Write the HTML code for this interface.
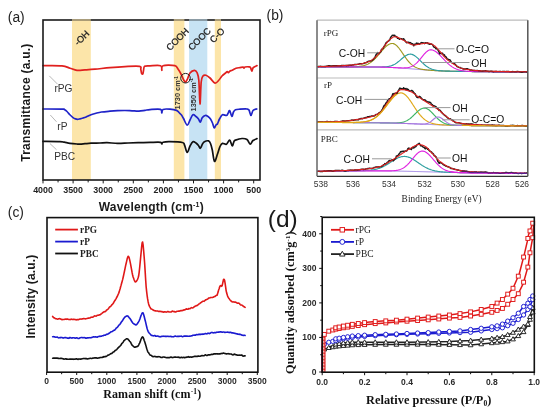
<!DOCTYPE html><html><head><meta charset="utf-8"><style>html,body{margin:0;padding:0;background:#fff;overflow:hidden}svg{display:block;will-change:transform}</style></head><body><svg width="550" height="412" viewBox="0 0 550 412">
<rect width="550" height="412" fill="#fff"/>
<rect x="72" y="20" width="18.8" height="160" fill="#fce5a9"/>
<rect x="173.8" y="20" width="10.6" height="160" fill="#fce5a9"/>
<rect x="189.1" y="20" width="18.2" height="160" fill="#c7e3f4"/>
<rect x="214.8" y="20" width="6.2" height="160" fill="#fce5a9"/>
<path d="M43 65.6C46.17 65.63 57.5 65.37 62 65.8C66.5 66.23 67.5 67.45 70 68.2C72.5 68.95 74.5 70.02 77 70.3C79.5 70.58 82 70.08 85 69.9C88 69.72 90.83 69.58 95 69.2C99.17 68.82 105 68.03 110 67.6C115 67.17 120.08 66.8 125 66.6C129.92 66.4 136.87 65.92 139.5 66.4C142.13 66.88 140.45 68.32 140.8 69.5C141.15 70.68 141.25 72.78 141.6 73.5C141.95 74.22 142.57 74.38 142.9 73.8C143.23 73.22 143.32 71.25 143.6 70C143.88 68.75 143.53 67 144.6 66.3C145.67 65.6 147.33 65.9 150 65.8C152.67 65.7 158.63 64.95 160.6 65.7C162.57 66.45 161.4 70.3 161.8 70.3C162.2 70.3 160.83 66.47 163 65.7C165.17 64.93 172.3 65.15 174.8 65.7C177.3 66.25 176.97 67.62 178 69C179.03 70.38 180 72.08 181 74C182 75.92 183.23 79.17 184 80.5C184.77 81.83 185.02 82.25 185.6 82C186.18 81.75 186.77 80.5 187.5 79C188.23 77.5 188.85 74.45 190 73C191.15 71.55 193.23 70.38 194.4 70.3C195.57 70.22 196.27 70.88 197 72.5C197.73 74.12 198.3 74.75 198.8 80C199.3 85.25 199.6 103.67 200 104C200.4 104.33 200.7 86.67 201.2 82C201.7 77.33 202.2 77.13 203 76C203.8 74.87 204.83 74.87 206 75.2C207.17 75.53 208.5 76.68 210 78C211.5 79.32 213.5 82.77 215 83.1C216.5 83.43 217.83 81.18 219 80C220.17 78.82 220.9 77.17 222 76C223.1 74.83 224.73 73.73 225.6 73C226.47 72.27 226.75 71.67 227.2 71.6C227.65 71.53 227.83 72.7 228.3 72.6C228.77 72.5 229.35 71.4 230 71C230.65 70.6 231.2 70.67 232.2 70.2C233.2 69.73 234.7 68.63 236 68.2C237.3 67.77 238.83 67.77 240 67.6C241.17 67.43 242.33 67.1 243 67.2C243.67 67.3 243.67 68.23 244 68.2C244.33 68.17 244.17 67.23 245 67C245.83 66.77 248.08 66.72 249 66.8C249.92 66.88 250.03 66.77 250.5 67.5C250.97 68.23 251.35 71.18 251.8 71.2C252.25 71.22 252.33 68.53 253.2 67.6C254.07 66.67 256.37 65.93 257 65.6" fill="none" stroke="#e0201e" stroke-width="1.7" stroke-linejoin="round" stroke-linecap="round" />
<path d="M43 109C46.17 109.02 58.45 109.02 62 109.1C65.55 109.18 63.47 109.1 64.3 109.5C65.13 109.9 66.12 110.67 67 111.5C67.88 112.33 68.6 113.48 69.6 114.5C70.6 115.52 72.02 116.87 73 117.6C73.98 118.33 74.75 118.62 75.5 118.9C76.25 119.18 76.75 119.32 77.5 119.3C78.25 119.28 79.08 119.02 80 118.8C80.92 118.58 82.08 118.27 83 118C83.92 117.73 84.67 117.53 85.5 117.2C86.33 116.87 87.08 116.42 88 116C88.92 115.58 89.67 115.17 91 114.7C92.33 114.23 94.25 113.65 96 113.2C97.75 112.75 99.17 112.33 101.5 112C103.83 111.67 107.32 111.42 110 111.2C112.68 110.98 115.1 110.82 117.6 110.7C120.1 110.58 122.6 110.48 125 110.5C127.4 110.52 129.68 110.7 132 110.8C134.32 110.9 136.73 111.18 138.9 111.1C141.07 111.02 143.15 110.55 145 110.3C146.85 110.05 147.42 109.75 150 109.6C152.58 109.45 158.53 108.83 160.5 109.4C162.47 109.97 161.38 113 161.8 113C162.22 113 161.63 110.03 163 109.4C164.37 108.77 167.75 109.03 170 109.2C172.25 109.37 175 109.85 176.5 110.4C178 110.95 178.17 111.73 179 112.5C179.83 113.27 180.75 114 181.5 115C182.25 116 182.55 116.8 183.5 118.5C184.45 120.2 186.12 124.95 187.2 125.2C188.28 125.45 189.05 121.75 190 120C190.95 118.25 191.9 115.28 192.9 114.7C193.9 114.12 195.07 115.78 196 116.5C196.93 117.22 197.78 118.07 198.5 119C199.22 119.93 199.68 122.3 200.3 122.1C200.92 121.9 201.38 118.9 202.2 117.8C203.02 116.7 204.23 115.72 205.2 115.5C206.17 115.28 207.12 115.92 208 116.5C208.88 117.08 209.75 117.92 210.5 119C211.25 120.08 211.88 121.53 212.5 123C213.12 124.47 213.62 127.47 214.2 127.8C214.78 128.13 215.45 125.68 216 125C216.55 124.32 216.92 124.7 217.5 123.7C218.08 122.7 218.68 120.48 219.5 119C220.32 117.52 221.23 115.38 222.4 114.8C223.57 114.22 225.53 115.8 226.5 115.5C227.47 115.2 227.67 113.82 228.2 113C228.73 112.18 229.08 110.03 229.7 110.6C230.32 111.17 231.27 116.17 231.9 116.4C232.53 116.63 232.9 113.1 233.5 112C234.1 110.9 234.42 110.27 235.5 109.8C236.58 109.33 238.1 109.33 240 109.2C241.9 109.07 245.4 108.87 246.9 109C248.4 109.13 248.32 108.92 249 110C249.68 111.08 250.33 115.42 251 115.5C251.67 115.58 252.05 111.58 253 110.5C253.95 109.42 256.08 109.25 256.7 109" fill="none" stroke="#1f23c8" stroke-width="1.7" stroke-linejoin="round" stroke-linecap="round" />
<path d="M43 141.4C45.83 141.43 56.45 141.47 60 141.6C63.55 141.73 62.63 141.92 64.3 142.2C65.97 142.48 67.88 143 70 143.3C72.12 143.6 75.33 143.87 77 144C78.67 144.13 78.67 144.15 80 144.1C81.33 144.05 83.17 143.85 85 143.7C86.83 143.55 88.5 143.32 91 143.2C93.5 143.08 97.33 143.08 100 143C102.67 142.92 104.07 142.65 107 142.7C109.93 142.75 114.1 143.25 117.6 143.3C121.1 143.35 124.45 143.1 128 143C131.55 142.9 135.23 142.8 138.9 142.7C142.57 142.6 146.4 142.47 150 142.4C153.6 142.33 158.53 142.03 160.5 142.3C162.47 142.57 161.38 144.02 161.8 144C162.22 143.98 161.63 142.58 163 142.2C164.37 141.82 166.78 141.65 170 141.7C173.22 141.75 179.88 141.95 182.3 142.5C184.72 143.05 183.68 143.35 184.5 145C185.32 146.65 186.28 152.23 187.2 152.4C188.12 152.57 189.05 147.78 190 146C190.95 144.22 191.9 142.2 192.9 141.7C193.9 141.2 195.07 142.37 196 143C196.93 143.63 197.78 144.62 198.5 145.5C199.22 146.38 199.63 148.55 200.3 148.3C200.97 148.05 201.82 145.1 202.5 144C203.18 142.9 203.4 142.22 204.4 141.7C205.4 141.18 207.48 140.6 208.5 140.9C209.52 141.2 209.87 141.98 210.5 143.5C211.13 145.02 211.63 147.02 212.3 150C212.97 152.98 213.63 160.73 214.5 161.4C215.37 162.07 216.58 156.48 217.5 154C218.42 151.52 219.18 148.27 220 146.5C220.82 144.73 221.32 143.78 222.4 143.4C223.48 143.02 225.28 144.75 226.5 144.2C227.72 143.65 228.75 139.83 229.7 140.1C230.65 140.37 231.48 145.57 232.2 145.8C232.92 146.03 233.45 142.45 234 141.5C234.55 140.55 234.17 140.6 235.5 140.1C236.83 139.6 240.08 138.6 242 138.5C243.92 138.4 245.63 138.55 247 139.5C248.37 140.45 249.2 144.03 250.2 144.2C251.2 144.37 251.87 141.43 253 140.5C254.13 139.57 256.33 138.92 257 138.6" fill="none" stroke="#111" stroke-width="1.7" stroke-linejoin="round" stroke-linecap="round" />
<circle cx="185.5" cy="78.2" r="4.8" fill="none" stroke="#222" stroke-width="1"/>
<rect x="43" y="20" width="217" height="160" fill="none" stroke="#1a1a1a" stroke-width="1.6"/>
<rect x="72" y="19" width="18.8" height="2" fill="#fce5a9" fill-opacity="0.55"/>
<rect x="173.8" y="19" width="10.6" height="2" fill="#fce5a9" fill-opacity="0.55"/>
<rect x="189.1" y="19" width="18.2" height="2" fill="#c7e3f4" fill-opacity="0.55"/>
<rect x="214.8" y="19" width="6.2" height="2" fill="#fce5a9" fill-opacity="0.55"/>
<line x1="253.7" y1="180" x2="253.7" y2="183.4" stroke="#1a1a1a" stroke-width="1"/>
<line x1="238.65" y1="180" x2="238.65" y2="182.4" stroke="#1a1a1a" stroke-width="1"/>
<line x1="223.6" y1="180" x2="223.6" y2="183.4" stroke="#1a1a1a" stroke-width="1"/>
<line x1="208.55" y1="180" x2="208.55" y2="182.4" stroke="#1a1a1a" stroke-width="1"/>
<line x1="193.5" y1="180" x2="193.5" y2="183.4" stroke="#1a1a1a" stroke-width="1"/>
<line x1="178.45" y1="180" x2="178.45" y2="182.4" stroke="#1a1a1a" stroke-width="1"/>
<line x1="163.4" y1="180" x2="163.4" y2="183.4" stroke="#1a1a1a" stroke-width="1"/>
<line x1="148.35" y1="180" x2="148.35" y2="182.4" stroke="#1a1a1a" stroke-width="1"/>
<line x1="133.3" y1="180" x2="133.3" y2="183.4" stroke="#1a1a1a" stroke-width="1"/>
<line x1="118.25" y1="180" x2="118.25" y2="182.4" stroke="#1a1a1a" stroke-width="1"/>
<line x1="103.2" y1="180" x2="103.2" y2="183.4" stroke="#1a1a1a" stroke-width="1"/>
<line x1="88.15" y1="180" x2="88.15" y2="182.4" stroke="#1a1a1a" stroke-width="1"/>
<line x1="73.1" y1="180" x2="73.1" y2="183.4" stroke="#1a1a1a" stroke-width="1"/>
<line x1="58.05" y1="180" x2="58.05" y2="182.4" stroke="#1a1a1a" stroke-width="1"/>
<line x1="43" y1="180" x2="43" y2="183.4" stroke="#1a1a1a" stroke-width="1"/>
<text x="253.7" y="193.2" font-family='"Liberation Sans", sans-serif' font-size="8.85" font-weight="bold" text-anchor="middle" fill="#222" >500</text>
<text x="223.6" y="193.2" font-family='"Liberation Sans", sans-serif' font-size="8.85" font-weight="bold" text-anchor="middle" fill="#222" >1000</text>
<text x="193.5" y="193.2" font-family='"Liberation Sans", sans-serif' font-size="8.85" font-weight="bold" text-anchor="middle" fill="#222" >1500</text>
<text x="163.4" y="193.2" font-family='"Liberation Sans", sans-serif' font-size="8.85" font-weight="bold" text-anchor="middle" fill="#222" >2000</text>
<text x="133.3" y="193.2" font-family='"Liberation Sans", sans-serif' font-size="8.85" font-weight="bold" text-anchor="middle" fill="#222" >2500</text>
<text x="103.2" y="193.2" font-family='"Liberation Sans", sans-serif' font-size="8.85" font-weight="bold" text-anchor="middle" fill="#222" >3000</text>
<text x="73.1" y="193.2" font-family='"Liberation Sans", sans-serif' font-size="8.85" font-weight="bold" text-anchor="middle" fill="#222" >3500</text>
<text x="43" y="193.2" font-family='"Liberation Sans", sans-serif' font-size="8.85" font-weight="bold" text-anchor="middle" fill="#222" >4000</text>
<text x="151.3" y="211.4" font-family='"Liberation Sans", sans-serif' font-size="12" font-weight="bold" text-anchor="middle" fill="#1a1a1a" letter-spacing="0.2">Wavelength (cm<tspan font-size="7" dy="-4">-1</tspan><tspan dy="4">)</tspan></text>
<text x="0" y="0" font-family='"Liberation Sans", sans-serif' font-size="12" font-weight="bold" text-anchor="middle" fill="#1a1a1a" transform="translate(29.6 102.6) rotate(-90)" letter-spacing="0.25">Transmittance (a.u.)</text>
<text x="7.8" y="21.9" font-family='"Liberation Sans", sans-serif' font-size="13.8" font-weight="normal" text-anchor="start" fill="#222" >(a)</text>
<line x1="49.3" y1="75.9" x2="57.5" y2="84.1" stroke="#888" stroke-width="0.6"/>
<text x="54.4" y="91.6" font-family='"Liberation Sans", sans-serif' font-size="10.2" font-weight="normal" text-anchor="start" fill="#333" >rPG</text>
<line x1="50.3" y1="115" x2="56.5" y2="121.8" stroke="#888" stroke-width="0.6"/>
<text x="57.3" y="130.3" font-family='"Liberation Sans", sans-serif' font-size="10.2" font-weight="normal" text-anchor="start" fill="#333" >rP</text>
<line x1="49.9" y1="143.5" x2="56.5" y2="149.7" stroke="#888" stroke-width="0.6"/>
<text x="54.2" y="159.6" font-family='"Liberation Sans", sans-serif' font-size="10.2" font-weight="normal" text-anchor="start" fill="#333" >PBC</text>
<text x="0" y="0" font-family='"Liberation Sans", sans-serif' font-size="9.2" font-weight="normal" text-anchor="middle" fill="#222" transform="translate(81.6 37.8) rotate(-45)" dy="0.36em" stroke="#222" stroke-width="0.25">-OH</text>
<text x="0" y="0" font-family='"Liberation Sans", sans-serif' font-size="9.2" font-weight="normal" text-anchor="middle" fill="#222" transform="translate(177.4 39.1) rotate(-45)" dy="0.36em" stroke="#222" stroke-width="0.25">COOH</text>
<text x="0" y="0" font-family='"Liberation Sans", sans-serif' font-size="9.2" font-weight="normal" text-anchor="middle" fill="#222" transform="translate(199.3 39) rotate(-45)" dy="0.36em" stroke="#222" stroke-width="0.25">COOC</text>
<text x="0" y="0" font-family='"Liberation Sans", sans-serif' font-size="9.2" font-weight="normal" text-anchor="middle" fill="#222" transform="translate(217 35.2) rotate(-45)" dy="0.36em" stroke="#222" stroke-width="0.25">C-O</text>
<text x="0" y="0" font-family='"Liberation Sans", sans-serif' font-size="7.4" font-weight="bold" text-anchor="middle" fill="#333" transform="translate(177.6 92.7) rotate(-90)" dy="0.36em">1730 cm<tspan font-size="4.8" dy="-2.7">-1</tspan></text>
<text x="0" y="0" font-family='"Liberation Sans", sans-serif' font-size="7.4" font-weight="bold" text-anchor="middle" fill="#333" transform="translate(192.9 94.7) rotate(-90)" dy="0.36em">1350 cm<tspan font-size="4.8" dy="-2.7">-1</tspan></text>
<path d="M317.8 66.9 318.4 66.9 319 66.9 319.6 66.9 320.2 66.9 320.8 66.9 321.4 66.9 322 66.9 322.6 66.9 323.2 66.9 323.8 66.9 324.4 66.9 325 66.9 325.6 66.9 326.2 66.9 326.8 66.9 327.4 66.9 328 66.9 328.6 66.9 329.2 66.9 329.8 66.91 330.4 66.91 331 66.91 331.6 66.91 332.2 66.91 332.8 66.91 333.4 66.91 334 66.91 334.6 66.91 335.2 66.91 335.8 66.91 336.4 66.91 337 66.91 337.6 66.91 338.2 66.91 338.8 66.91 339.4 66.92 340 66.92 340.6 66.92 341.2 66.92 341.8 66.92 342.4 66.92 343 66.92 343.6 66.92 344.2 66.92 344.8 66.92 345.4 66.92 346 66.93 346.6 66.93 347.2 66.93 347.8 66.93 348.4 66.93 349 66.93 349.6 66.93 350.2 66.93 350.8 66.93 351.4 66.94 352 66.94 352.6 66.94 353.2 66.94 353.8 66.94 354.4 66.94 355 66.94 355.6 66.94 356.2 66.95 356.8 66.95 357.4 66.95 358 66.95 358.6 66.95 359.2 66.95 359.8 66.95 360.4 66.96 361 66.96 361.6 66.96 362.2 66.96 362.8 66.96 363.4 66.96 364 66.97 364.6 66.97 365.2 66.97 365.8 66.97 366.4 66.97 367 66.97 367.6 66.97 368.2 66.98 368.8 66.98 369.4 66.98 370 66.98 370.6 66.98 371.2 66.99 371.8 66.99 372.4 66.99 373 66.99 373.6 66.99 374.2 66.99 374.8 67 375.4 67 376 67 376.6 67 377.2 67.01 377.8 67.01 378.4 67.02 379 67.03 379.6 67.04 380.2 67.05 380.8 67.06 381.4 67.07 382 67.09 382.6 67.1 383.2 67.12 383.8 67.14 384.4 67.16 385 67.18 385.6 67.2 386.2 67.22 386.8 67.24 387.4 67.27 388 67.29 388.6 67.32 389.2 67.35 389.8 67.38 390.4 67.41 391 67.44 391.6 67.47 392.2 67.5 392.8 67.53 393.4 67.56 394 67.6 394.6 67.63 395.2 67.67 395.8 67.71 396.4 67.74 397 67.78 397.6 67.82 398.2 67.86 398.8 67.9 399.4 67.94 400 67.98 400.6 68.02 401.2 68.06 401.8 68.11 402.4 68.15 403 68.19 403.6 68.24 404.2 68.28 404.8 68.33 405.4 68.37 406 68.42 406.6 68.46 407.2 68.51 407.8 68.56 408.4 68.6 409 68.65 409.6 68.7 410.2 68.74 410.8 68.79 411.4 68.84 412 68.89 412.6 68.93 413.2 68.98 413.8 69.03 414.4 69.08 415 69.13 415.6 69.18 416.2 69.22 416.8 69.27 417.4 69.32 418 69.37 418.6 69.41 419.2 69.46 419.8 69.51 420.4 69.56 421 69.6 421.6 69.65 422.2 69.7 422.8 69.74 423.4 69.79 424 69.84 424.6 69.88 425.2 69.93 425.8 69.97 426.4 70.01 427 70.06 427.6 70.1 428.2 70.15 428.8 70.19 429.4 70.23 430 70.27 430.6 70.31 431.2 70.35 431.8 70.39 432.4 70.43 433 70.47 433.6 70.51 434.2 70.54 434.8 70.58 435.4 70.62 436 70.65 436.6 70.69 437.2 70.72 437.8 70.75 438.4 70.78 439 70.81 439.6 70.84 440.2 70.87 440.8 70.9 441.4 70.93 442 70.95 442.6 70.98 443.2 71 443.8 71.03 444.4 71.05 445 71.07 445.6 71.09 446.2 71.11 446.8 71.13 447.4 71.14 448 71.16 448.6 71.17 449.2 71.18 449.8 71.2 450.4 71.21 451 71.22 451.6 71.23 452.2 71.24 452.8 71.25 453.4 71.26 454 71.27 454.6 71.28 455.2 71.29 455.8 71.3 456.4 71.31 457 71.32 457.6 71.33 458.2 71.34 458.8 71.35 459.4 71.36 460 71.37 460.6 71.38 461.2 71.39 461.8 71.4 462.4 71.41 463 71.42 463.6 71.43 464.2 71.44 464.8 71.45 465.4 71.46 466 71.47 466.6 71.47 467.2 71.48 467.8 71.49 468.4 71.5 469 71.51 469.6 71.52 470.2 71.53 470.8 71.54 471.4 71.55 472 71.55 472.6 71.56 473.2 71.57 473.8 71.58 474.4 71.59 475 71.6 475.6 71.61 476.2 71.61 476.8 71.62 477.4 71.63 478 71.64 478.6 71.65 479.2 71.65 479.8 71.66 480.4 71.67 481 71.68 481.6 71.69 482.2 71.69 482.8 71.7 483.4 71.71 484 71.71 484.6 71.72 485.2 71.73 485.8 71.74 486.4 71.74 487 71.75 487.6 71.76 488.2 71.76 488.8 71.77 489.4 71.78 490 71.78 490.6 71.79 491.2 71.8 491.8 71.8 492.4 71.81 493 71.82 493.6 71.82 494.2 71.83 494.8 71.83 495.4 71.84 496 71.84 496.6 71.85 497.2 71.86 497.8 71.86 498.4 71.87 499 71.87 499.6 71.88 500.2 71.88 500.8 71.89 501.4 71.89 502 71.9 502.6 71.9 503.2 71.91 503.8 71.91 504.4 71.91 505 71.92 505.6 71.92 506.2 71.93 506.8 71.93 507.4 71.93 508 71.94 508.6 71.94 509.2 71.95 509.8 71.95 510.4 71.95 511 71.96 511.6 71.96 512.2 71.96 512.8 71.96 513.4 71.97 514 71.97 514.6 71.97 515.2 71.97 515.8 71.98 516.4 71.98 517 71.98 517.6 71.98 518.2 71.99 518.8 71.99 519.4 71.99 520 71.99 520.6 71.99 521.2 71.99 521.8 71.99 522.4 72 523 72 523.6 72 524.2 72 524.8 72 525.4 72 526 72 526.6 72 527.2 72" fill="none" stroke="#9070e0" stroke-width="0.9" stroke-linejoin="round" stroke-linecap="round" />
<path d="M317.8 66.9 318.4 66.9 319 66.9 319.6 66.9 320.2 66.9 320.8 66.9 321.4 66.9 322 66.9 322.6 66.9 323.2 66.9 323.8 66.9 324.4 66.9 325 66.9 325.6 66.9 326.2 66.9 326.8 66.9 327.4 66.9 328 66.9 328.6 66.9 329.2 66.9 329.8 66.91 330.4 66.91 331 66.91 331.6 66.91 332.2 66.91 332.8 66.91 333.4 66.91 334 66.91 334.6 66.91 335.2 66.91 335.8 66.91 336.4 66.91 337 66.91 337.6 66.91 338.2 66.91 338.8 66.91 339.4 66.91 340 66.91 340.6 66.92 341.2 66.92 341.8 66.92 342.4 66.92 343 66.92 343.6 66.92 344.2 66.92 344.8 66.91 345.4 66.91 346 66.91 346.6 66.91 347.2 66.91 347.8 66.91 348.4 66.9 349 66.9 349.6 66.89 350.2 66.89 350.8 66.88 351.4 66.87 352 66.86 352.6 66.84 353.2 66.83 353.8 66.81 354.4 66.79 355 66.76 355.6 66.73 356.2 66.7 356.8 66.66 357.4 66.62 358 66.57 358.6 66.51 359.2 66.44 359.8 66.37 360.4 66.29 361 66.19 361.6 66.09 362.2 65.97 362.8 65.84 363.4 65.7 364 65.53 364.6 65.36 365.2 65.16 365.8 64.95 366.4 64.72 367 64.46 367.6 64.19 368.2 63.89 368.8 63.56 369.4 63.22 370 62.84 370.6 62.44 371.2 62.02 371.8 61.57 372.4 61.09 373 60.58 373.6 60.05 374.2 59.49 374.8 58.91 375.4 58.3 376 57.67 376.6 57.03 377.2 56.36 377.8 55.68 378.4 54.98 379 54.28 379.6 53.57 380.2 52.85 380.8 52.14 381.4 51.43 382 50.72 382.6 50.03 383.2 49.35 383.8 48.68 384.4 48.05 385 47.43 385.6 46.85 386.2 46.31 386.8 45.8 387.4 45.34 388 44.92 388.6 44.55 389.2 44.24 389.8 43.98 390.4 43.77 391 43.62 391.6 43.53 392.2 43.51 392.8 43.54 393.4 43.66 394 43.85 394.6 44.13 395.2 44.48 395.8 44.91 396.4 45.4 397 45.97 397.6 46.59 398.2 47.27 398.8 47.99 399.4 48.76 400 49.57 400.6 50.41 401.2 51.27 401.8 52.14 402.4 53.03 403 53.92 403.6 54.81 404.2 55.69 404.8 56.56 405.4 57.42 406 58.25 406.6 59.06 407.2 59.84 407.8 60.59 408.4 61.31 409 62 409.6 62.65 410.2 63.26 410.8 63.84 411.4 64.38 412 64.89 412.6 65.36 413.2 65.8 413.8 66.2 414.4 66.58 415 66.92 415.6 67.23 416.2 67.52 416.8 67.79 417.4 68.03 418 68.25 418.6 68.45 419.2 68.63 419.8 68.79 420.4 68.94 421 69.08 421.6 69.21 422.2 69.32 422.8 69.43 423.4 69.52 424 69.61 424.6 69.69 425.2 69.77 425.8 69.84 426.4 69.91 427 69.97 427.6 70.03 428.2 70.09 428.8 70.14 429.4 70.19 430 70.24 430.6 70.29 431.2 70.33 431.8 70.38 432.4 70.42 433 70.46 433.6 70.5 434.2 70.54 434.8 70.58 435.4 70.61 436 70.65 436.6 70.68 437.2 70.72 437.8 70.75 438.4 70.78 439 70.81 439.6 70.84 440.2 70.87 440.8 70.9 441.4 70.93 442 70.95 442.6 70.98 443.2 71 443.8 71.03 444.4 71.05 445 71.07 445.6 71.09 446.2 71.11 446.8 71.13 447.4 71.14 448 71.16 448.6 71.17 449.2 71.18 449.8 71.2 450.4 71.21 451 71.22 451.6 71.23 452.2 71.24 452.8 71.25 453.4 71.26 454 71.27 454.6 71.28 455.2 71.29 455.8 71.3 456.4 71.31 457 71.32 457.6 71.33 458.2 71.34 458.8 71.35 459.4 71.36 460 71.37 460.6 71.38 461.2 71.39 461.8 71.4 462.4 71.41 463 71.42 463.6 71.43 464.2 71.44 464.8 71.45 465.4 71.46 466 71.47 466.6 71.47 467.2 71.48 467.8 71.49 468.4 71.5 469 71.51 469.6 71.52 470.2 71.53 470.8 71.54 471.4 71.55 472 71.55 472.6 71.56 473.2 71.57 473.8 71.58 474.4 71.59 475 71.6 475.6 71.61 476.2 71.61 476.8 71.62 477.4 71.63 478 71.64 478.6 71.65 479.2 71.65 479.8 71.66 480.4 71.67 481 71.68 481.6 71.69 482.2 71.69 482.8 71.7 483.4 71.71 484 71.71 484.6 71.72 485.2 71.73 485.8 71.74 486.4 71.74 487 71.75 487.6 71.76 488.2 71.76 488.8 71.77 489.4 71.78 490 71.78 490.6 71.79 491.2 71.8 491.8 71.8 492.4 71.81 493 71.82 493.6 71.82 494.2 71.83 494.8 71.83 495.4 71.84 496 71.84 496.6 71.85 497.2 71.86 497.8 71.86 498.4 71.87 499 71.87 499.6 71.88 500.2 71.88 500.8 71.89 501.4 71.89 502 71.9 502.6 71.9 503.2 71.91 503.8 71.91 504.4 71.91 505 71.92 505.6 71.92 506.2 71.93 506.8 71.93 507.4 71.93 508 71.94 508.6 71.94 509.2 71.95 509.8 71.95 510.4 71.95 511 71.96 511.6 71.96 512.2 71.96 512.8 71.96 513.4 71.97 514 71.97 514.6 71.97 515.2 71.97 515.8 71.98 516.4 71.98 517 71.98 517.6 71.98 518.2 71.99 518.8 71.99 519.4 71.99 520 71.99 520.6 71.99 521.2 71.99 521.8 71.99 522.4 72 523 72 523.6 72 524.2 72 524.8 72 525.4 72 526 72 526.6 72 527.2 72" fill="none" stroke="#a09a20" stroke-width="1.15" stroke-linejoin="round" stroke-linecap="round" />
<path d="M317.8 66.9 318.4 66.9 319 66.9 319.6 66.9 320.2 66.9 320.8 66.9 321.4 66.9 322 66.9 322.6 66.9 323.2 66.9 323.8 66.9 324.4 66.9 325 66.9 325.6 66.9 326.2 66.9 326.8 66.9 327.4 66.9 328 66.9 328.6 66.9 329.2 66.9 329.8 66.91 330.4 66.91 331 66.91 331.6 66.91 332.2 66.91 332.8 66.91 333.4 66.91 334 66.91 334.6 66.91 335.2 66.91 335.8 66.91 336.4 66.91 337 66.91 337.6 66.91 338.2 66.91 338.8 66.91 339.4 66.92 340 66.92 340.6 66.92 341.2 66.92 341.8 66.92 342.4 66.92 343 66.92 343.6 66.92 344.2 66.92 344.8 66.92 345.4 66.92 346 66.93 346.6 66.93 347.2 66.93 347.8 66.93 348.4 66.93 349 66.93 349.6 66.93 350.2 66.93 350.8 66.93 351.4 66.94 352 66.94 352.6 66.94 353.2 66.94 353.8 66.94 354.4 66.94 355 66.94 355.6 66.94 356.2 66.95 356.8 66.95 357.4 66.95 358 66.95 358.6 66.95 359.2 66.95 359.8 66.95 360.4 66.96 361 66.96 361.6 66.96 362.2 66.96 362.8 66.96 363.4 66.96 364 66.97 364.6 66.97 365.2 66.97 365.8 66.97 366.4 66.97 367 66.97 367.6 66.97 368.2 66.98 368.8 66.98 369.4 66.98 370 66.98 370.6 66.98 371.2 66.98 371.8 66.98 372.4 66.99 373 66.99 373.6 66.99 374.2 66.99 374.8 66.99 375.4 66.99 376 66.98 376.6 66.98 377.2 66.98 377.8 66.98 378.4 66.98 379 66.98 379.6 66.97 380.2 66.97 380.8 66.97 381.4 66.96 382 66.95 382.6 66.93 383.2 66.92 383.8 66.89 384.4 66.86 385 66.83 385.6 66.78 386.2 66.73 386.8 66.67 387.4 66.59 388 66.5 388.6 66.4 389.2 66.28 389.8 66.14 390.4 65.99 391 65.81 391.6 65.61 392.2 65.39 392.8 65.15 393.4 64.88 394 64.59 394.6 64.27 395.2 63.92 395.8 63.55 396.4 63.15 397 62.73 397.6 62.29 398.2 61.83 398.8 61.35 399.4 60.85 400 60.34 400.6 59.83 401.2 59.3 401.8 58.78 402.4 58.26 403 57.76 403.6 57.26 404.2 56.79 404.8 56.34 405.4 55.92 406 55.53 406.6 55.19 407.2 54.89 407.8 54.63 408.4 54.43 409 54.29 409.6 54.2 410.2 54.16 410.8 54.19 411.4 54.28 412 54.42 412.6 54.62 413.2 54.87 413.8 55.17 414.4 55.52 415 55.92 415.6 56.36 416.2 56.83 416.8 57.34 417.4 57.88 418 58.43 418.6 59.01 419.2 59.6 419.8 60.19 420.4 60.79 421 61.39 421.6 61.99 422.2 62.57 422.8 63.15 423.4 63.7 424 64.24 424.6 64.76 425.2 65.26 425.8 65.73 426.4 66.18 427 66.6 427.6 67 428.2 67.37 428.8 67.72 429.4 68.04 430 68.34 430.6 68.61 431.2 68.86 431.8 69.09 432.4 69.3 433 69.49 433.6 69.66 434.2 69.81 434.8 69.96 435.4 70.08 436 70.2 436.6 70.3 437.2 70.4 437.8 70.48 438.4 70.56 439 70.62 439.6 70.69 440.2 70.74 440.8 70.79 441.4 70.84 442 70.88 442.6 70.92 443.2 70.96 443.8 70.99 444.4 71.02 445 71.05 445.6 71.07 446.2 71.09 446.8 71.11 447.4 71.13 448 71.15 448.6 71.17 449.2 71.18 449.8 71.19 450.4 71.2 451 71.22 451.6 71.23 452.2 71.24 452.8 71.25 453.4 71.26 454 71.27 454.6 71.28 455.2 71.29 455.8 71.3 456.4 71.31 457 71.32 457.6 71.33 458.2 71.34 458.8 71.35 459.4 71.36 460 71.37 460.6 71.38 461.2 71.39 461.8 71.4 462.4 71.41 463 71.42 463.6 71.43 464.2 71.44 464.8 71.45 465.4 71.46 466 71.47 466.6 71.47 467.2 71.48 467.8 71.49 468.4 71.5 469 71.51 469.6 71.52 470.2 71.53 470.8 71.54 471.4 71.55 472 71.55 472.6 71.56 473.2 71.57 473.8 71.58 474.4 71.59 475 71.6 475.6 71.61 476.2 71.61 476.8 71.62 477.4 71.63 478 71.64 478.6 71.65 479.2 71.65 479.8 71.66 480.4 71.67 481 71.68 481.6 71.69 482.2 71.69 482.8 71.7 483.4 71.71 484 71.71 484.6 71.72 485.2 71.73 485.8 71.74 486.4 71.74 487 71.75 487.6 71.76 488.2 71.76 488.8 71.77 489.4 71.78 490 71.78 490.6 71.79 491.2 71.8 491.8 71.8 492.4 71.81 493 71.82 493.6 71.82 494.2 71.83 494.8 71.83 495.4 71.84 496 71.84 496.6 71.85 497.2 71.86 497.8 71.86 498.4 71.87 499 71.87 499.6 71.88 500.2 71.88 500.8 71.89 501.4 71.89 502 71.9 502.6 71.9 503.2 71.91 503.8 71.91 504.4 71.91 505 71.92 505.6 71.92 506.2 71.93 506.8 71.93 507.4 71.93 508 71.94 508.6 71.94 509.2 71.95 509.8 71.95 510.4 71.95 511 71.96 511.6 71.96 512.2 71.96 512.8 71.96 513.4 71.97 514 71.97 514.6 71.97 515.2 71.97 515.8 71.98 516.4 71.98 517 71.98 517.6 71.98 518.2 71.99 518.8 71.99 519.4 71.99 520 71.99 520.6 71.99 521.2 71.99 521.8 71.99 522.4 72 523 72 523.6 72 524.2 72 524.8 72 525.4 72 526 72 526.6 72 527.2 72" fill="none" stroke="#2a9da0" stroke-width="1.15" stroke-linejoin="round" stroke-linecap="round" />
<path d="M317.8 66.9 318.4 66.9 319 66.9 319.6 66.9 320.2 66.9 320.8 66.9 321.4 66.9 322 66.9 322.6 66.9 323.2 66.9 323.8 66.9 324.4 66.9 325 66.9 325.6 66.9 326.2 66.9 326.8 66.9 327.4 66.9 328 66.9 328.6 66.9 329.2 66.9 329.8 66.91 330.4 66.91 331 66.91 331.6 66.91 332.2 66.91 332.8 66.91 333.4 66.91 334 66.91 334.6 66.91 335.2 66.91 335.8 66.91 336.4 66.91 337 66.91 337.6 66.91 338.2 66.91 338.8 66.91 339.4 66.92 340 66.92 340.6 66.92 341.2 66.92 341.8 66.92 342.4 66.92 343 66.92 343.6 66.92 344.2 66.92 344.8 66.92 345.4 66.92 346 66.93 346.6 66.93 347.2 66.93 347.8 66.93 348.4 66.93 349 66.93 349.6 66.93 350.2 66.93 350.8 66.93 351.4 66.94 352 66.94 352.6 66.94 353.2 66.94 353.8 66.94 354.4 66.94 355 66.94 355.6 66.94 356.2 66.95 356.8 66.95 357.4 66.95 358 66.95 358.6 66.95 359.2 66.95 359.8 66.95 360.4 66.96 361 66.96 361.6 66.96 362.2 66.96 362.8 66.96 363.4 66.96 364 66.97 364.6 66.97 365.2 66.97 365.8 66.97 366.4 66.97 367 66.97 367.6 66.97 368.2 66.98 368.8 66.98 369.4 66.98 370 66.98 370.6 66.98 371.2 66.99 371.8 66.99 372.4 66.99 373 66.99 373.6 66.99 374.2 66.99 374.8 67 375.4 67 376 67 376.6 67 377.2 67.01 377.8 67.01 378.4 67.02 379 67.03 379.6 67.04 380.2 67.05 380.8 67.06 381.4 67.07 382 67.09 382.6 67.1 383.2 67.12 383.8 67.14 384.4 67.16 385 67.18 385.6 67.2 386.2 67.22 386.8 67.24 387.4 67.27 388 67.29 388.6 67.32 389.2 67.35 389.8 67.37 390.4 67.4 391 67.43 391.6 67.46 392.2 67.49 392.8 67.53 393.4 67.56 394 67.59 394.6 67.62 395.2 67.66 395.8 67.69 396.4 67.72 397 67.75 397.6 67.78 398.2 67.82 398.8 67.84 399.4 67.87 400 67.9 400.6 67.92 401.2 67.93 401.8 67.95 402.4 67.96 403 67.96 403.6 67.95 404.2 67.94 404.8 67.92 405.4 67.88 406 67.84 406.6 67.78 407.2 67.7 407.8 67.61 408.4 67.49 409 67.36 409.6 67.2 410.2 67.01 410.8 66.8 411.4 66.56 412 66.29 412.6 65.98 413.2 65.64 413.8 65.26 414.4 64.85 415 64.4 415.6 63.91 416.2 63.39 416.8 62.83 417.4 62.23 418 61.6 418.6 60.95 419.2 60.26 419.8 59.56 420.4 58.83 421 58.09 421.6 57.35 422.2 56.6 422.8 55.86 423.4 55.13 424 54.42 424.6 53.74 425.2 53.09 425.8 52.48 426.4 51.92 427 51.42 427.6 50.98 428.2 50.6 428.8 50.29 429.4 50.06 430 49.91 430.6 49.84 431.2 49.85 431.8 49.93 432.4 50.05 433 50.22 433.6 50.45 434.2 50.72 434.8 51.03 435.4 51.39 436 51.79 436.6 52.23 437.2 52.7 437.8 53.21 438.4 53.75 439 54.31 439.6 54.89 440.2 55.5 440.8 56.11 441.4 56.74 442 57.38 442.6 58.03 443.2 58.67 443.8 59.32 444.4 59.96 445 60.59 445.6 61.21 446.2 61.82 446.8 62.42 447.4 62.99 448 63.55 448.6 64.09 449.2 64.61 449.8 65.11 450.4 65.58 451 66.03 451.6 66.46 452.2 66.87 452.8 67.25 453.4 67.61 454 67.95 454.6 68.27 455.2 68.56 455.8 68.84 456.4 69.09 457 69.32 457.6 69.54 458.2 69.74 458.8 69.92 459.4 70.09 460 70.24 460.6 70.38 461.2 70.51 461.8 70.62 462.4 70.73 463 70.82 463.6 70.9 464.2 70.98 464.8 71.05 465.4 71.11 466 71.17 466.6 71.22 467.2 71.26 467.8 71.3 468.4 71.34 469 71.37 469.6 71.4 470.2 71.43 470.8 71.45 471.4 71.47 472 71.49 472.6 71.51 473.2 71.53 473.8 71.54 474.4 71.56 475 71.57 475.6 71.58 476.2 71.6 476.8 71.61 477.4 71.62 478 71.63 478.6 71.64 479.2 71.65 479.8 71.66 480.4 71.67 481 71.67 481.6 71.68 482.2 71.69 482.8 71.7 483.4 71.71 484 71.71 484.6 71.72 485.2 71.73 485.8 71.74 486.4 71.74 487 71.75 487.6 71.76 488.2 71.76 488.8 71.77 489.4 71.78 490 71.78 490.6 71.79 491.2 71.8 491.8 71.8 492.4 71.81 493 71.82 493.6 71.82 494.2 71.83 494.8 71.83 495.4 71.84 496 71.84 496.6 71.85 497.2 71.86 497.8 71.86 498.4 71.87 499 71.87 499.6 71.88 500.2 71.88 500.8 71.89 501.4 71.89 502 71.9 502.6 71.9 503.2 71.91 503.8 71.91 504.4 71.91 505 71.92 505.6 71.92 506.2 71.93 506.8 71.93 507.4 71.93 508 71.94 508.6 71.94 509.2 71.95 509.8 71.95 510.4 71.95 511 71.96 511.6 71.96 512.2 71.96 512.8 71.96 513.4 71.97 514 71.97 514.6 71.97 515.2 71.97 515.8 71.98 516.4 71.98 517 71.98 517.6 71.98 518.2 71.99 518.8 71.99 519.4 71.99 520 71.99 520.6 71.99 521.2 71.99 521.8 71.99 522.4 72 523 72 523.6 72 524.2 72 524.8 72 525.4 72 526 72 526.6 72 527.2 72" fill="none" stroke="#e025e0" stroke-width="1.15" stroke-linejoin="round" stroke-linecap="round" />
<path d="M317.8 66.6 318.4 66.51 319 66.46 319.6 66.36 320.2 66.32 320.8 66.47 321.4 66.49 322 66.46 322.6 66.59 323.2 66.6 323.8 66.47 324.4 66.41 325 66.45 325.6 66.45 326.2 66.27 326.8 66.2 327.4 66.08 328 65.94 328.6 65.68 329.2 65.76 329.8 65.66 330.4 65.84 331 65.95 331.6 66.08 332.2 65.84 332.8 65.88 333.4 65.83 334 65.79 334.6 65.64 335.2 65.8 335.8 65.73 336.4 65.63 337 65.69 337.6 65.73 338.2 65.74 338.8 65.89 339.4 65.88 340 65.74 340.6 65.79 341.2 65.77 341.8 65.54 342.4 65.57 343 65.67 343.6 65.48 344.2 65.52 344.8 65.61 345.4 65.5 346 65.52 346.6 65.7 347.2 65.46 347.8 65.41 348.4 65.48 349 65.23 349.6 65.17 350.2 65.23 350.8 65.23 351.4 65.26 352 65.15 352.6 65.05 353.2 64.95 353.8 64.84 354.4 64.53 355 64.47 355.6 64.36 356.2 64.42 356.8 64.44 357.4 64.35 358 64.25 358.6 64.26 359.2 63.87 359.8 63.6 360.4 63.63 361 63.76 361.6 63.65 362.2 63.73 362.8 63.62 363.4 63.46 364 63.34 364.6 63.01 365.2 62.84 365.8 62.77 366.4 62.6 367 62.09 367.6 61.73 368.2 61.54 368.8 61.13 369.4 61.13 370 61.06 370.6 61.03 371.2 60.88 371.8 60.56 372.4 60.15 373 59.54 373.6 59.28 374.2 58.15 374.8 57.87 375.4 56.3 376 54.88 376.6 53.83 377.2 53.29 377.8 52.49 378.4 53.67 379 53.55 379.6 52.63 380.2 52.37 380.8 51.68 381.4 49.63 382 49.07 382.6 48.87 383.2 48.2 383.8 46.66 384.4 45.95 385 45.3 385.6 43.65 386.2 42.75 386.8 42.07 387.4 41.84 388 41.21 388.6 41.12 389.2 40.1 389.8 39.93 390.4 37.99 391 36.85 391.6 36.5 392.2 35.29 392.8 35.36 393.4 35.16 394 35.86 394.6 35.17 395.2 36.62 395.8 36.35 396.4 36.6 397 37.03 397.6 38.38 398.2 38.22 398.8 38.31 399.4 39.28 400 38.5 400.6 38.64 401.2 38.7 401.8 39.1 402.4 39.06 403 39.53 403.6 38.68 404.2 39.9 404.8 40.2 405.4 41.42 406 42.09 406.6 42.73 407.2 42.3 407.8 42.44 408.4 42.29 409 42.4 409.6 42.87 410.2 42.6 410.8 42.74 411.4 43.82 412 43.92 412.6 43.74 413.2 44.71 413.8 45.82 414.4 44.26 415 44.43 415.6 44.55 416.2 43.42 416.8 42.97 417.4 43.55 418 43.56 418.6 43.38 419.2 44.36 419.8 43.64 420.4 43.5 421 42.84 421.6 42.52 422.2 42.87 422.8 42.79 423.4 42.92 424 43.37 424.6 43.67 425.2 42.69 425.8 43.19 426.4 42.85 427 42.75 427.6 42.96 428.2 43.78 428.8 43.84 429.4 44.29 430 44.26 430.6 43.8 431.2 43.96 431.8 44.4 432.4 44.48 433 45.37 433.6 46.79 434.2 47.09 434.8 47.49 435.4 47.83 436 48.86 436.6 48.47 437.2 49.13 437.8 49.59 438.4 50.93 439 51.8 439.6 53.81 440.2 53.48 440.8 53.09 441.4 53.78 442 53.11 442.6 53.12 443.2 54.85 443.8 55.61 444.4 54.89 445 56.19 445.6 56.84 446.2 56.95 446.8 58.31 447.4 59.39 448 59.17 448.6 59.6 449.2 59.83 449.8 59.71 450.4 60.69 451 61.64 451.6 62.25 452.2 62.65 452.8 63.33 453.4 63.29 454 63.47 454.6 63.84 455.2 64.3 455.8 64.94 456.4 65.61 457 66.55 457.6 66.57 458.2 67.19 458.8 67.41 459.4 67.64 460 67.43 460.6 67.83 461.2 68.06 461.8 68.29 462.4 68.49 463 68.77 463.6 69.05 464.2 69.09 464.8 68.99 465.4 69.02 466 68.96 466.6 68.64 467.2 68.68 467.8 69.1 468.4 69.26 469 69.42 469.6 69.72 470.2 69.95 470.8 69.92 471.4 69.99 472 70.17 472.6 70.33 473.2 70.36 473.8 70.47 474.4 70.54 475 70.51 475.6 70.61 476.2 70.52 476.8 70.62 477.4 70.53 478 70.66 478.6 70.66 479.2 70.64 479.8 70.74 480.4 71.03 481 71.04 481.6 71.14 482.2 71.33 482.8 70.95 483.4 70.86 484 70.93 484.6 70.88 485.2 70.77 485.8 71.01 486.4 70.99 487 71.12 487.6 71.16 488.2 71.28 488.8 71.47 489.4 71.45 490 71.32 490.6 71.13 491.2 71.3 491.8 71.26 492.4 71.42 493 71.53 493.6 71.73 494.2 71.62 494.8 71.52 495.4 71.43 496 71.38 496.6 71.53 497.2 71.58 497.8 71.61 498.4 71.59 499 71.54 499.6 71.56 500.2 71.57 500.8 71.59 501.4 71.63 502 71.6 502.6 71.45 503.2 71.5 503.8 71.46 504.4 71.49 505 71.58 505.6 71.61 506.2 71.39 506.8 71.41 507.4 71.36 508 71.48 508.6 71.4 509.2 71.62 509.8 71.79 510.4 71.85 511 71.72 511.6 71.82 512.2 71.77 512.8 71.54 513.4 71.62 514 71.88 514.6 71.84 515.2 71.83 515.8 71.83 516.4 71.82 517 71.52 517.6 71.45 518.2 71.59 518.8 71.61 519.4 71.69 520 71.95 520.6 72.08 521.2 72.02 521.8 72.29 522.4 72.18 523 71.98 523.6 71.83 524.2 71.78 524.8 71.74 525.4 71.85 526 71.82 526.6 71.95 527.2 71.94" fill="none" stroke="#1a1a1a" stroke-width="1.45" stroke-linejoin="round" stroke-linecap="round" />
<path d="M317.8 66.59 318.4 66.59 319 66.58 319.6 66.57 320.2 66.56 320.8 66.55 321.4 66.54 322 66.53 322.6 66.52 323.2 66.5 323.8 66.49 324.4 66.47 325 66.45 325.6 66.43 326.2 66.41 326.8 66.39 327.4 66.37 328 66.35 328.6 66.33 329.2 66.3 329.8 66.28 330.4 66.25 331 66.23 331.6 66.2 332.2 66.18 332.8 66.15 333.4 66.12 334 66.1 334.6 66.07 335.2 66.04 335.8 66.01 336.4 65.98 337 65.95 337.6 65.92 338.2 65.89 338.8 65.86 339.4 65.83 340 65.8 340.6 65.77 341.2 65.74 341.8 65.71 342.4 65.67 343 65.64 343.6 65.6 344.2 65.56 344.8 65.53 345.4 65.49 346 65.45 346.6 65.41 347.2 65.36 347.8 65.32 348.4 65.27 349 65.22 349.6 65.18 350.2 65.12 350.8 65.07 351.4 65.02 352 64.96 352.6 64.9 353.2 64.84 353.8 64.78 354.4 64.71 355 64.65 355.6 64.58 356.2 64.51 356.8 64.43 357.4 64.36 358 64.28 358.6 64.2 359.2 64.12 359.8 64.03 360.4 63.94 361 63.84 361.6 63.72 362.2 63.6 362.8 63.46 363.4 63.32 364 63.16 364.6 62.99 365.2 62.81 365.8 62.62 366.4 62.42 367 62.21 367.6 61.99 368.2 61.76 368.8 61.51 369.4 61.26 370 61 370.6 60.71 371.2 60.37 371.8 60 372.4 59.59 373 59.14 373.6 58.66 374.2 58.15 374.8 57.62 375.4 57.07 376 56.5 376.6 55.91 377.2 55.31 377.8 54.7 378.4 54.07 379 53.37 379.6 52.61 380.2 51.8 380.8 50.95 381.4 50.09 382 49.23 382.6 48.37 383.2 47.54 383.8 46.75 384.4 46 385 45.23 385.6 44.44 386.2 43.67 386.8 42.9 387.4 42.16 388 41.45 388.6 40.79 389.2 40.19 389.8 39.66 390.4 39.18 391 38.69 391.6 38.21 392.2 37.75 392.8 37.35 393.4 37.02 394 36.8 394.6 36.7 395.2 36.72 395.8 36.81 396.4 36.95 397 37.14 397.6 37.36 398.2 37.62 398.8 37.91 399.4 38.21 400 38.51 400.6 38.82 401.2 39.12 401.8 39.41 402.4 39.68 403 39.98 403.6 40.3 404.2 40.64 404.8 40.99 405.4 41.34 406 41.7 406.6 42.05 407.2 42.4 407.8 42.74 408.4 43.06 409 43.36 409.6 43.63 410.2 43.88 410.8 44.14 411.4 44.41 412 44.66 412.6 44.85 413.2 44.97 413.8 45 414.4 44.97 415 44.91 415.6 44.82 416.2 44.72 416.8 44.6 417.4 44.48 418 44.35 418.6 44.23 419.2 44.12 419.8 44.03 420.4 43.95 421 43.86 421.6 43.78 422.2 43.69 422.8 43.6 423.4 43.51 424 43.43 424.6 43.35 425.2 43.28 425.8 43.22 426.4 43.17 427 43.13 427.6 43.11 428.2 43.1 428.8 43.14 429.4 43.25 430 43.42 430.6 43.65 431.2 43.92 431.8 44.23 432.4 44.56 433 44.91 433.6 45.26 434.2 45.62 434.8 46.04 435.4 46.54 436 47.1 436.6 47.7 437.2 48.35 437.8 49.02 438.4 49.7 439 50.39 439.6 51.06 440.2 51.72 440.8 52.4 441.4 53.12 442 53.87 442.6 54.62 443.2 55.37 443.8 56.11 444.4 56.82 445 57.5 445.6 58.12 446.2 58.68 446.8 59.21 447.4 59.72 448 60.22 448.6 60.69 449.2 61.15 449.8 61.59 450.4 62.01 451 62.42 451.6 62.81 452.2 63.19 452.8 63.56 453.4 63.93 454 64.3 454.6 64.67 455.2 65.04 455.8 65.41 456.4 65.77 457 66.13 457.6 66.47 458.2 66.81 458.8 67.13 459.4 67.43 460 67.71 460.6 67.98 461.2 68.22 461.8 68.43 462.4 68.62 463 68.77 463.6 68.9 464.2 69.01 464.8 69.11 465.4 69.21 466 69.31 466.6 69.4 467.2 69.5 467.8 69.59 468.4 69.67 469 69.76 469.6 69.84 470.2 69.92 470.8 69.99 471.4 70.07 472 70.14 472.6 70.21 473.2 70.27 473.8 70.33 474.4 70.39 475 70.45 475.6 70.51 476.2 70.56 476.8 70.61 477.4 70.66 478 70.71 478.6 70.75 479.2 70.79 479.8 70.83 480.4 70.87 481 70.9 481.6 70.94 482.2 70.97 482.8 71 483.4 71.02 484 71.05 484.6 71.07 485.2 71.09 485.8 71.11 486.4 71.13 487 71.15 487.6 71.16 488.2 71.18 488.8 71.2 489.4 71.22 490 71.23 490.6 71.25 491.2 71.27 491.8 71.28 492.4 71.3 493 71.32 493.6 71.33 494.2 71.35 494.8 71.36 495.4 71.38 496 71.39 496.6 71.41 497.2 71.42 497.8 71.44 498.4 71.45 499 71.46 499.6 71.48 500.2 71.49 500.8 71.5 501.4 71.51 502 71.53 502.6 71.54 503.2 71.55 503.8 71.56 504.4 71.57 505 71.59 505.6 71.6 506.2 71.61 506.8 71.62 507.4 71.63 508 71.64 508.6 71.65 509.2 71.66 509.8 71.67 510.4 71.67 511 71.68 511.6 71.69 512.2 71.7 512.8 71.71 513.4 71.71 514 71.72 514.6 71.73 515.2 71.73 515.8 71.74 516.4 71.75 517 71.75 517.6 71.76 518.2 71.76 518.8 71.77 519.4 71.77 520 71.78 520.6 71.78 521.2 71.78 521.8 71.79 522.4 71.79 523 71.79 523.6 71.79 524.2 71.8 524.8 71.8 525.4 71.8 526 71.8 526.6 71.8 527.2 71.8" fill="none" stroke="#e02020" stroke-width="1.1" stroke-linejoin="round" stroke-linecap="round" />
<path d="M317.8 122.4 318.4 122.4 319 122.4 319.6 122.4 320.2 122.4 320.8 122.4 321.4 122.4 322 122.4 322.6 122.4 323.2 122.41 323.8 122.41 324.4 122.41 325 122.41 325.6 122.41 326.2 122.41 326.8 122.41 327.4 122.41 328 122.42 328.6 122.42 329.2 122.42 329.8 122.42 330.4 122.42 331 122.43 331.6 122.43 332.2 122.43 332.8 122.43 333.4 122.43 334 122.44 334.6 122.44 335.2 122.44 335.8 122.44 336.4 122.45 337 122.45 337.6 122.45 338.2 122.46 338.8 122.46 339.4 122.46 340 122.47 340.6 122.47 341.2 122.47 341.8 122.48 342.4 122.48 343 122.48 343.6 122.49 344.2 122.49 344.8 122.49 345.4 122.5 346 122.5 346.6 122.51 347.2 122.51 347.8 122.51 348.4 122.52 349 122.52 349.6 122.53 350.2 122.53 350.8 122.53 351.4 122.54 352 122.54 352.6 122.55 353.2 122.55 353.8 122.56 354.4 122.56 355 122.57 355.6 122.57 356.2 122.58 356.8 122.58 357.4 122.59 358 122.59 358.6 122.6 359.2 122.6 359.8 122.61 360.4 122.61 361 122.62 361.6 122.62 362.2 122.63 362.8 122.63 363.4 122.64 364 122.64 364.6 122.65 365.2 122.65 365.8 122.66 366.4 122.67 367 122.67 367.6 122.68 368.2 122.68 368.8 122.69 369.4 122.69 370 122.7 370.6 122.71 371.2 122.71 371.8 122.72 372.4 122.72 373 122.73 373.6 122.74 374.2 122.74 374.8 122.75 375.4 122.75 376 122.76 376.6 122.77 377.2 122.77 377.8 122.78 378.4 122.78 379 122.79 379.6 122.8 380.2 122.8 380.8 122.81 381.4 122.82 382 122.82 382.6 122.83 383.2 122.84 383.8 122.85 384.4 122.86 385 122.87 385.6 122.88 386.2 122.89 386.8 122.9 387.4 122.92 388 122.93 388.6 122.94 389.2 122.96 389.8 122.97 390.4 122.99 391 123 391.6 123.02 392.2 123.03 392.8 123.05 393.4 123.06 394 123.08 394.6 123.1 395.2 123.12 395.8 123.14 396.4 123.15 397 123.17 397.6 123.19 398.2 123.21 398.8 123.23 399.4 123.25 400 123.27 400.6 123.29 401.2 123.31 401.8 123.33 402.4 123.36 403 123.38 403.6 123.4 404.2 123.42 404.8 123.44 405.4 123.47 406 123.49 406.6 123.51 407.2 123.54 407.8 123.56 408.4 123.58 409 123.61 409.6 123.63 410.2 123.66 410.8 123.68 411.4 123.7 412 123.73 412.6 123.75 413.2 123.78 413.8 123.8 414.4 123.83 415 123.85 415.6 123.88 416.2 123.9 416.8 123.93 417.4 123.96 418 123.98 418.6 124.01 419.2 124.03 419.8 124.06 420.4 124.08 421 124.11 421.6 124.13 422.2 124.16 422.8 124.19 423.4 124.21 424 124.24 424.6 124.26 425.2 124.29 425.8 124.31 426.4 124.34 427 124.36 427.6 124.39 428.2 124.41 428.8 124.44 429.4 124.46 430 124.49 430.6 124.51 431.2 124.54 431.8 124.56 432.4 124.59 433 124.61 433.6 124.64 434.2 124.66 434.8 124.68 435.4 124.71 436 124.73 436.6 124.75 437.2 124.77 437.8 124.8 438.4 124.82 439 124.84 439.6 124.86 440.2 124.89 440.8 124.91 441.4 124.93 442 124.95 442.6 124.97 443.2 124.99 443.8 125.01 444.4 125.03 445 125.05 445.6 125.07 446.2 125.09 446.8 125.1 447.4 125.12 448 125.14 448.6 125.16 449.2 125.17 449.8 125.19 450.4 125.21 451 125.22 451.6 125.24 452.2 125.25 452.8 125.26 453.4 125.28 454 125.29 454.6 125.31 455.2 125.32 455.8 125.33 456.4 125.34 457 125.35 457.6 125.36 458.2 125.37 458.8 125.38 459.4 125.39 460 125.4 460.6 125.41 461.2 125.42 461.8 125.42 462.4 125.43 463 125.44 463.6 125.45 464.2 125.46 464.8 125.47 465.4 125.47 466 125.48 466.6 125.49 467.2 125.5 467.8 125.51 468.4 125.51 469 125.52 469.6 125.53 470.2 125.54 470.8 125.55 471.4 125.55 472 125.56 472.6 125.57 473.2 125.58 473.8 125.58 474.4 125.59 475 125.6 475.6 125.61 476.2 125.62 476.8 125.62 477.4 125.63 478 125.64 478.6 125.65 479.2 125.65 479.8 125.66 480.4 125.67 481 125.68 481.6 125.68 482.2 125.69 482.8 125.7 483.4 125.7 484 125.71 484.6 125.72 485.2 125.72 485.8 125.73 486.4 125.74 487 125.74 487.6 125.75 488.2 125.76 488.8 125.76 489.4 125.77 490 125.78 490.6 125.78 491.2 125.79 491.8 125.8 492.4 125.8 493 125.81 493.6 125.81 494.2 125.82 494.8 125.83 495.4 125.83 496 125.84 496.6 125.84 497.2 125.85 497.8 125.85 498.4 125.86 499 125.86 499.6 125.87 500.2 125.88 500.8 125.88 501.4 125.89 502 125.89 502.6 125.89 503.2 125.9 503.8 125.9 504.4 125.91 505 125.91 505.6 125.92 506.2 125.92 506.8 125.93 507.4 125.93 508 125.93 508.6 125.94 509.2 125.94 509.8 125.94 510.4 125.95 511 125.95 511.6 125.96 512.2 125.96 512.8 125.96 513.4 125.96 514 125.97 514.6 125.97 515.2 125.97 515.8 125.98 516.4 125.98 517 125.98 517.6 125.98 518.2 125.98 518.8 125.99 519.4 125.99 520 125.99 520.6 125.99 521.2 125.99 521.8 125.99 522.4 126 523 126 523.6 126 524.2 126 524.8 126 525.4 126 526 126 526.6 126 527.2 126" fill="none" stroke="#9070e0" stroke-width="0.9" stroke-linejoin="round" stroke-linecap="round" />
<path d="M317.8 122.4 318.4 122.4 319 122.4 319.6 122.4 320.2 122.4 320.8 122.4 321.4 122.4 322 122.4 322.6 122.4 323.2 122.41 323.8 122.41 324.4 122.41 325 122.41 325.6 122.41 326.2 122.41 326.8 122.41 327.4 122.41 328 122.42 328.6 122.42 329.2 122.42 329.8 122.42 330.4 122.42 331 122.43 331.6 122.43 332.2 122.43 332.8 122.43 333.4 122.43 334 122.44 334.6 122.44 335.2 122.44 335.8 122.44 336.4 122.45 337 122.45 337.6 122.45 338.2 122.46 338.8 122.46 339.4 122.46 340 122.46 340.6 122.47 341.2 122.47 341.8 122.47 342.4 122.48 343 122.48 343.6 122.48 344.2 122.49 344.8 122.49 345.4 122.49 346 122.49 346.6 122.5 347.2 122.5 347.8 122.5 348.4 122.5 349 122.5 349.6 122.5 350.2 122.5 350.8 122.5 351.4 122.5 352 122.5 352.6 122.49 353.2 122.49 353.8 122.48 354.4 122.48 355 122.47 355.6 122.46 356.2 122.44 356.8 122.43 357.4 122.41 358 122.39 358.6 122.36 359.2 122.33 359.8 122.3 360.4 122.26 361 122.21 361.6 122.16 362.2 122.11 362.8 122.04 363.4 121.97 364 121.89 364.6 121.8 365.2 121.7 365.8 121.59 366.4 121.47 367 121.34 367.6 121.19 368.2 121.02 368.8 120.84 369.4 120.65 370 120.44 370.6 120.21 371.2 119.96 371.8 119.68 372.4 119.39 373 119.08 373.6 118.74 374.2 118.38 374.8 117.99 375.4 117.58 376 117.15 376.6 116.69 377.2 116.2 377.8 115.68 378.4 115.14 379 114.57 379.6 113.98 380.2 113.36 380.8 112.72 381.4 112.05 382 111.37 382.6 110.66 383.2 109.93 383.8 109.19 384.4 108.43 385 107.65 385.6 106.87 386.2 106.08 386.8 105.28 387.4 104.48 388 103.68 388.6 102.88 389.2 102.09 389.8 101.31 390.4 100.55 391 99.8 391.6 99.08 392.2 98.37 392.8 97.7 393.4 97.06 394 96.45 394.6 95.89 395.2 95.36 395.8 94.88 396.4 94.44 397 94.06 397.6 93.73 398.2 93.45 398.8 93.23 399.4 93.06 400 92.95 400.6 92.9 401.2 92.92 401.8 93 402.4 93.15 403 93.38 403.6 93.67 404.2 94.03 404.8 94.46 405.4 94.95 406 95.5 406.6 96.11 407.2 96.76 407.8 97.47 408.4 98.22 409 99 409.6 99.82 410.2 100.67 410.8 101.55 411.4 102.44 412 103.35 412.6 104.27 413.2 105.19 413.8 106.11 414.4 107.03 415 107.95 415.6 108.85 416.2 109.74 416.8 110.61 417.4 111.46 418 112.28 418.6 113.09 419.2 113.86 419.8 114.6 420.4 115.32 421 116 421.6 116.66 422.2 117.28 422.8 117.87 423.4 118.42 424 118.95 424.6 119.44 425.2 119.9 425.8 120.33 426.4 120.73 427 121.11 427.6 121.46 428.2 121.78 428.8 122.08 429.4 122.35 430 122.6 430.6 122.83 431.2 123.05 431.8 123.24 432.4 123.42 433 123.58 433.6 123.73 434.2 123.86 434.8 123.99 435.4 124.1 436 124.2 436.6 124.29 437.2 124.37 437.8 124.45 438.4 124.52 439 124.58 439.6 124.64 440.2 124.7 440.8 124.74 441.4 124.79 442 124.83 442.6 124.87 443.2 124.9 443.8 124.94 444.4 124.97 445 125 445.6 125.02 446.2 125.05 446.8 125.07 447.4 125.1 448 125.12 448.6 125.14 449.2 125.16 449.8 125.18 450.4 125.2 451 125.21 451.6 125.23 452.2 125.25 452.8 125.26 453.4 125.28 454 125.29 454.6 125.3 455.2 125.32 455.8 125.33 456.4 125.34 457 125.35 457.6 125.36 458.2 125.37 458.8 125.38 459.4 125.39 460 125.4 460.6 125.41 461.2 125.42 461.8 125.42 462.4 125.43 463 125.44 463.6 125.45 464.2 125.46 464.8 125.47 465.4 125.47 466 125.48 466.6 125.49 467.2 125.5 467.8 125.51 468.4 125.51 469 125.52 469.6 125.53 470.2 125.54 470.8 125.55 471.4 125.55 472 125.56 472.6 125.57 473.2 125.58 473.8 125.58 474.4 125.59 475 125.6 475.6 125.61 476.2 125.62 476.8 125.62 477.4 125.63 478 125.64 478.6 125.65 479.2 125.65 479.8 125.66 480.4 125.67 481 125.68 481.6 125.68 482.2 125.69 482.8 125.7 483.4 125.7 484 125.71 484.6 125.72 485.2 125.72 485.8 125.73 486.4 125.74 487 125.74 487.6 125.75 488.2 125.76 488.8 125.76 489.4 125.77 490 125.78 490.6 125.78 491.2 125.79 491.8 125.8 492.4 125.8 493 125.81 493.6 125.81 494.2 125.82 494.8 125.83 495.4 125.83 496 125.84 496.6 125.84 497.2 125.85 497.8 125.85 498.4 125.86 499 125.86 499.6 125.87 500.2 125.88 500.8 125.88 501.4 125.89 502 125.89 502.6 125.89 503.2 125.9 503.8 125.9 504.4 125.91 505 125.91 505.6 125.92 506.2 125.92 506.8 125.93 507.4 125.93 508 125.93 508.6 125.94 509.2 125.94 509.8 125.94 510.4 125.95 511 125.95 511.6 125.96 512.2 125.96 512.8 125.96 513.4 125.96 514 125.97 514.6 125.97 515.2 125.97 515.8 125.98 516.4 125.98 517 125.98 517.6 125.98 518.2 125.98 518.8 125.99 519.4 125.99 520 125.99 520.6 125.99 521.2 125.99 521.8 125.99 522.4 126 523 126 523.6 126 524.2 126 524.8 126 525.4 126 526 126 526.6 126 527.2 126" fill="none" stroke="#e0a818" stroke-width="1.15" stroke-linejoin="round" stroke-linecap="round" />
<path d="M317.8 122.4 318.4 122.4 319 122.4 319.6 122.4 320.2 122.4 320.8 122.4 321.4 122.4 322 122.4 322.6 122.4 323.2 122.41 323.8 122.41 324.4 122.41 325 122.41 325.6 122.41 326.2 122.41 326.8 122.41 327.4 122.41 328 122.42 328.6 122.42 329.2 122.42 329.8 122.42 330.4 122.42 331 122.43 331.6 122.43 332.2 122.43 332.8 122.43 333.4 122.43 334 122.44 334.6 122.44 335.2 122.44 335.8 122.44 336.4 122.45 337 122.45 337.6 122.45 338.2 122.46 338.8 122.46 339.4 122.46 340 122.47 340.6 122.47 341.2 122.47 341.8 122.48 342.4 122.48 343 122.48 343.6 122.49 344.2 122.49 344.8 122.49 345.4 122.5 346 122.5 346.6 122.51 347.2 122.51 347.8 122.51 348.4 122.52 349 122.52 349.6 122.53 350.2 122.53 350.8 122.53 351.4 122.54 352 122.54 352.6 122.55 353.2 122.55 353.8 122.56 354.4 122.56 355 122.57 355.6 122.57 356.2 122.58 356.8 122.58 357.4 122.59 358 122.59 358.6 122.6 359.2 122.6 359.8 122.61 360.4 122.61 361 122.62 361.6 122.62 362.2 122.63 362.8 122.63 363.4 122.64 364 122.64 364.6 122.65 365.2 122.65 365.8 122.66 366.4 122.67 367 122.67 367.6 122.68 368.2 122.68 368.8 122.69 369.4 122.69 370 122.7 370.6 122.71 371.2 122.71 371.8 122.72 372.4 122.72 373 122.73 373.6 122.73 374.2 122.74 374.8 122.75 375.4 122.75 376 122.76 376.6 122.77 377.2 122.77 377.8 122.78 378.4 122.78 379 122.79 379.6 122.8 380.2 122.8 380.8 122.81 381.4 122.82 382 122.82 382.6 122.83 383.2 122.84 383.8 122.85 384.4 122.86 385 122.87 385.6 122.88 386.2 122.89 386.8 122.9 387.4 122.91 388 122.92 388.6 122.93 389.2 122.94 389.8 122.95 390.4 122.96 391 122.97 391.6 122.98 392.2 122.98 392.8 122.99 393.4 122.99 394 122.99 394.6 122.98 395.2 122.98 395.8 122.97 396.4 122.95 397 122.93 397.6 122.9 398.2 122.86 398.8 122.81 399.4 122.76 400 122.69 400.6 122.61 401.2 122.51 401.8 122.4 402.4 122.27 403 122.13 403.6 121.96 404.2 121.77 404.8 121.56 405.4 121.32 406 121.06 406.6 120.77 407.2 120.45 407.8 120.1 408.4 119.73 409 119.33 409.6 118.9 410.2 118.44 410.8 117.95 411.4 117.44 412 116.91 412.6 116.36 413.2 115.79 413.8 115.21 414.4 114.62 415 114.03 415.6 113.43 416.2 112.84 416.8 112.27 417.4 111.7 418 111.16 418.6 110.65 419.2 110.17 419.8 109.72 420.4 109.32 421 108.97 421.6 108.67 422.2 108.43 422.8 108.24 423.4 108.12 424 108.06 424.6 108.06 425.2 108.13 425.8 108.26 426.4 108.46 427 108.72 427.6 109.03 428.2 109.4 428.8 109.82 429.4 110.28 430 110.79 430.6 111.33 431.2 111.91 431.8 112.5 432.4 113.12 433 113.75 433.6 114.4 434.2 115.04 434.8 115.68 435.4 116.32 436 116.94 436.6 117.55 437.2 118.15 437.8 118.72 438.4 119.27 439 119.79 439.6 120.28 440.2 120.75 440.8 121.19 441.4 121.6 442 121.98 442.6 122.33 443.2 122.65 443.8 122.95 444.4 123.22 445 123.47 445.6 123.69 446.2 123.89 446.8 124.07 447.4 124.23 448 124.38 448.6 124.51 449.2 124.62 449.8 124.72 450.4 124.81 451 124.89 451.6 124.96 452.2 125.02 452.8 125.07 453.4 125.12 454 125.16 454.6 125.2 455.2 125.23 455.8 125.26 456.4 125.28 457 125.31 457.6 125.33 458.2 125.34 458.8 125.36 459.4 125.37 460 125.38 460.6 125.4 461.2 125.41 461.8 125.42 462.4 125.43 463 125.44 463.6 125.45 464.2 125.45 464.8 125.46 465.4 125.47 466 125.48 466.6 125.49 467.2 125.5 467.8 125.51 468.4 125.51 469 125.52 469.6 125.53 470.2 125.54 470.8 125.55 471.4 125.55 472 125.56 472.6 125.57 473.2 125.58 473.8 125.58 474.4 125.59 475 125.6 475.6 125.61 476.2 125.62 476.8 125.62 477.4 125.63 478 125.64 478.6 125.65 479.2 125.65 479.8 125.66 480.4 125.67 481 125.68 481.6 125.68 482.2 125.69 482.8 125.7 483.4 125.7 484 125.71 484.6 125.72 485.2 125.72 485.8 125.73 486.4 125.74 487 125.74 487.6 125.75 488.2 125.76 488.8 125.76 489.4 125.77 490 125.78 490.6 125.78 491.2 125.79 491.8 125.8 492.4 125.8 493 125.81 493.6 125.81 494.2 125.82 494.8 125.83 495.4 125.83 496 125.84 496.6 125.84 497.2 125.85 497.8 125.85 498.4 125.86 499 125.86 499.6 125.87 500.2 125.88 500.8 125.88 501.4 125.89 502 125.89 502.6 125.89 503.2 125.9 503.8 125.9 504.4 125.91 505 125.91 505.6 125.92 506.2 125.92 506.8 125.93 507.4 125.93 508 125.93 508.6 125.94 509.2 125.94 509.8 125.94 510.4 125.95 511 125.95 511.6 125.96 512.2 125.96 512.8 125.96 513.4 125.96 514 125.97 514.6 125.97 515.2 125.97 515.8 125.98 516.4 125.98 517 125.98 517.6 125.98 518.2 125.98 518.8 125.99 519.4 125.99 520 125.99 520.6 125.99 521.2 125.99 521.8 125.99 522.4 126 523 126 523.6 126 524.2 126 524.8 126 525.4 126 526 126 526.6 126 527.2 126" fill="none" stroke="#3cb464" stroke-width="1.15" stroke-linejoin="round" stroke-linecap="round" />
<path d="M317.8 122.4 318.4 122.4 319 122.4 319.6 122.4 320.2 122.4 320.8 122.4 321.4 122.4 322 122.4 322.6 122.4 323.2 122.41 323.8 122.41 324.4 122.41 325 122.41 325.6 122.41 326.2 122.41 326.8 122.41 327.4 122.41 328 122.42 328.6 122.42 329.2 122.42 329.8 122.42 330.4 122.42 331 122.43 331.6 122.43 332.2 122.43 332.8 122.43 333.4 122.43 334 122.44 334.6 122.44 335.2 122.44 335.8 122.44 336.4 122.45 337 122.45 337.6 122.45 338.2 122.46 338.8 122.46 339.4 122.46 340 122.47 340.6 122.47 341.2 122.47 341.8 122.48 342.4 122.48 343 122.48 343.6 122.49 344.2 122.49 344.8 122.49 345.4 122.5 346 122.5 346.6 122.51 347.2 122.51 347.8 122.51 348.4 122.52 349 122.52 349.6 122.53 350.2 122.53 350.8 122.53 351.4 122.54 352 122.54 352.6 122.55 353.2 122.55 353.8 122.56 354.4 122.56 355 122.57 355.6 122.57 356.2 122.58 356.8 122.58 357.4 122.59 358 122.59 358.6 122.6 359.2 122.6 359.8 122.61 360.4 122.61 361 122.62 361.6 122.62 362.2 122.63 362.8 122.63 363.4 122.64 364 122.64 364.6 122.65 365.2 122.65 365.8 122.66 366.4 122.67 367 122.67 367.6 122.68 368.2 122.68 368.8 122.69 369.4 122.69 370 122.7 370.6 122.71 371.2 122.71 371.8 122.72 372.4 122.72 373 122.73 373.6 122.74 374.2 122.74 374.8 122.75 375.4 122.75 376 122.76 376.6 122.77 377.2 122.77 377.8 122.78 378.4 122.78 379 122.79 379.6 122.8 380.2 122.8 380.8 122.81 381.4 122.82 382 122.82 382.6 122.83 383.2 122.84 383.8 122.85 384.4 122.86 385 122.87 385.6 122.88 386.2 122.89 386.8 122.9 387.4 122.92 388 122.93 388.6 122.94 389.2 122.96 389.8 122.97 390.4 122.99 391 123 391.6 123.02 392.2 123.03 392.8 123.05 393.4 123.06 394 123.08 394.6 123.1 395.2 123.12 395.8 123.14 396.4 123.15 397 123.17 397.6 123.19 398.2 123.21 398.8 123.23 399.4 123.25 400 123.27 400.6 123.29 401.2 123.31 401.8 123.33 402.4 123.36 403 123.38 403.6 123.4 404.2 123.42 404.8 123.44 405.4 123.47 406 123.49 406.6 123.51 407.2 123.54 407.8 123.56 408.4 123.58 409 123.61 409.6 123.63 410.2 123.66 410.8 123.68 411.4 123.7 412 123.73 412.6 123.75 413.2 123.78 413.8 123.8 414.4 123.83 415 123.85 415.6 123.88 416.2 123.9 416.8 123.93 417.4 123.95 418 123.98 418.6 124 419.2 124.02 419.8 124.04 420.4 124.06 421 124.07 421.6 124.08 422.2 124.08 422.8 124.07 423.4 124.05 424 124.02 424.6 123.97 425.2 123.9 425.8 123.81 426.4 123.68 427 123.53 427.6 123.33 428.2 123.1 428.8 122.82 429.4 122.5 430 122.13 430.6 121.72 431.2 121.28 431.8 120.8 432.4 120.3 433 119.79 433.6 119.28 434.2 118.79 434.8 118.33 435.4 117.92 436 117.57 436.6 117.3 437.2 117.11 437.8 117.02 438.4 117.02 439 117.11 439.6 117.27 440.2 117.51 440.8 117.81 441.4 118.16 442 118.57 442.6 119.01 443.2 119.48 443.8 119.96 444.4 120.46 445 120.94 445.6 121.42 446.2 121.88 446.8 122.31 447.4 122.71 448 123.08 448.6 123.42 449.2 123.72 449.8 123.99 450.4 124.22 451 124.42 451.6 124.59 452.2 124.74 452.8 124.86 453.4 124.96 454 125.05 454.6 125.12 455.2 125.18 455.8 125.22 456.4 125.26 457 125.29 457.6 125.32 458.2 125.34 458.8 125.36 459.4 125.38 460 125.39 460.6 125.4 461.2 125.41 461.8 125.42 462.4 125.43 463 125.44 463.6 125.45 464.2 125.46 464.8 125.47 465.4 125.47 466 125.48 466.6 125.49 467.2 125.5 467.8 125.51 468.4 125.51 469 125.52 469.6 125.53 470.2 125.54 470.8 125.55 471.4 125.55 472 125.56 472.6 125.57 473.2 125.58 473.8 125.58 474.4 125.59 475 125.6 475.6 125.61 476.2 125.62 476.8 125.62 477.4 125.63 478 125.64 478.6 125.65 479.2 125.65 479.8 125.66 480.4 125.67 481 125.68 481.6 125.68 482.2 125.69 482.8 125.7 483.4 125.7 484 125.71 484.6 125.72 485.2 125.72 485.8 125.73 486.4 125.74 487 125.74 487.6 125.75 488.2 125.76 488.8 125.76 489.4 125.77 490 125.78 490.6 125.78 491.2 125.79 491.8 125.8 492.4 125.8 493 125.81 493.6 125.81 494.2 125.82 494.8 125.83 495.4 125.83 496 125.84 496.6 125.84 497.2 125.85 497.8 125.85 498.4 125.86 499 125.86 499.6 125.87 500.2 125.88 500.8 125.88 501.4 125.89 502 125.89 502.6 125.89 503.2 125.9 503.8 125.9 504.4 125.91 505 125.91 505.6 125.92 506.2 125.92 506.8 125.93 507.4 125.93 508 125.93 508.6 125.94 509.2 125.94 509.8 125.94 510.4 125.95 511 125.95 511.6 125.96 512.2 125.96 512.8 125.96 513.4 125.96 514 125.97 514.6 125.97 515.2 125.97 515.8 125.98 516.4 125.98 517 125.98 517.6 125.98 518.2 125.98 518.8 125.99 519.4 125.99 520 125.99 520.6 125.99 521.2 125.99 521.8 125.99 522.4 126 523 126 523.6 126 524.2 126 524.8 126 525.4 126 526 126 526.6 126 527.2 126" fill="none" stroke="#a878e0" stroke-width="1.15" stroke-linejoin="round" stroke-linecap="round" />
<path d="M317.8 121.9 318.4 121.88 319 121.9 319.6 122 320.2 122.02 320.8 121.98 321.4 122.01 322 121.98 322.6 121.99 323.2 122.19 323.8 122.24 324.4 122.22 325 122.06 325.6 122.03 326.2 121.66 326.8 121.46 327.4 121.52 328 121.74 328.6 121.67 329.2 121.68 329.8 121.76 330.4 121.6 331 121.58 331.6 121.79 332.2 121.96 332.8 121.9 333.4 121.84 334 121.75 334.6 121.5 335.2 121.35 335.8 121.42 336.4 121.4 337 121.49 337.6 121.59 338.2 121.78 338.8 121.7 339.4 121.83 340 121.69 340.6 121.53 341.2 121.37 341.8 121.25 342.4 121.03 343 121.07 343.6 121.04 344.2 121.05 344.8 121.21 345.4 121.12 346 120.91 346.6 120.88 347.2 120.82 347.8 120.62 348.4 120.81 349 120.82 349.6 120.61 350.2 120.4 350.8 120.43 351.4 120.29 352 120 352.6 120.15 353.2 120.21 353.8 120.17 354.4 120 355 120.07 355.6 119.72 356.2 119.84 356.8 119.58 357.4 119.72 358 119.59 358.6 119.66 359.2 119.03 359.8 118.9 360.4 118.72 361 118.53 361.6 118.56 362.2 118.76 362.8 118.56 363.4 118.22 364 118.24 364.6 117.94 365.2 117.67 365.8 117.57 366.4 117.47 367 117.23 367.6 116.84 368.2 116.77 368.8 116.95 369.4 116.53 370 116.57 370.6 116.53 371.2 116.13 371.8 115.92 372.4 115.95 373 116.1 373.6 115.85 374.2 115.98 374.8 115.44 375.4 115.11 376 114.56 376.6 114.45 377.2 114.21 377.8 113.94 378.4 113.48 379 112.87 379.6 112.55 380.2 112.27 380.8 111.41 381.4 111.24 382 109.79 382.6 109.27 383.2 107.45 383.8 106.13 384.4 105.21 385 105.68 385.6 103.67 386.2 102.74 386.8 102.35 387.4 100.95 388 99.77 388.6 99.36 389.2 98.81 389.8 98.73 390.4 98.18 391 97.47 391.6 96.66 392.2 95.71 392.8 93.83 393.4 94.46 394 93.46 394.6 93.47 395.2 93.5 395.8 93.99 396.4 92.65 397 93.28 397.6 92.18 398.2 90.97 398.8 89.97 399.4 88.91 400 88.01 400.6 88.67 401.2 88.8 401.8 88.56 402.4 89.05 403 89.41 403.6 87.68 404.2 88.49 404.8 88.75 405.4 89.55 406 88.47 406.6 89.87 407.2 89.03 407.8 89.25 408.4 89.61 409 90.73 409.6 90.87 410.2 91.38 410.8 91.14 411.4 90.53 412 90.44 412.6 90.97 413.2 91.76 413.8 92.58 414.4 93.21 415 93.68 415.6 94.84 416.2 96.28 416.8 97.22 417.4 97.31 418 97.71 418.6 97.17 419.2 96.29 419.8 96.72 420.4 96.98 421 97.7 421.6 98.33 422.2 99.21 422.8 99.53 423.4 100.07 424 99.7 424.6 100.02 425.2 100.01 425.8 100.6 426.4 101.34 427 101.52 427.6 102.05 428.2 102.04 428.8 102.01 429.4 102.24 430 102.26 430.6 102.64 431.2 103.74 431.8 104.33 432.4 104.63 433 105.83 433.6 105.67 434.2 105.84 434.8 106.03 435.4 106.66 436 106.65 436.6 107.64 437.2 108.26 437.8 108.88 438.4 109.06 439 110.38 439.6 109.93 440.2 110.59 440.8 111.29 441.4 112.18 442 112.64 442.6 113.63 443.2 113.86 443.8 114.55 444.4 115.12 445 115.56 445.6 115.74 446.2 116.48 446.8 117.09 447.4 117.68 448 118.1 448.6 118.51 449.2 119.03 449.8 119.14 450.4 118.79 451 119.29 451.6 119.75 452.2 119.78 452.8 120.12 453.4 121.08 454 121.28 454.6 121.79 455.2 122.37 455.8 122.77 456.4 122.74 457 122.88 457.6 122.84 458.2 122.72 458.8 122.73 459.4 122.89 460 123.03 460.6 123.35 461.2 123.44 461.8 123.49 462.4 123.61 463 123.74 463.6 123.82 464.2 124.01 464.8 124.06 465.4 124.09 466 124 466.6 123.81 467.2 123.88 467.8 123.96 468.4 124.01 469 123.99 469.6 124.16 470.2 124.09 470.8 124.05 471.4 123.85 472 124.02 472.6 124.18 473.2 124.31 473.8 124.37 474.4 124.61 475 124.75 475.6 124.44 476.2 124.42 476.8 124.56 477.4 124.66 478 124.78 478.6 125.17 479.2 125.24 479.8 125.25 480.4 125.28 481 125.1 481.6 125.01 482.2 125.09 482.8 125.27 483.4 125.2 484 125.27 484.6 125.31 485.2 125.37 485.8 125.21 486.4 125.38 487 125.31 487.6 125.29 488.2 125.16 488.8 125.25 489.4 125.23 490 125.19 490.6 125.14 491.2 125.21 491.8 125.08 492.4 124.86 493 125.11 493.6 125.26 494.2 125.29 494.8 125.32 495.4 125.58 496 125.47 496.6 125.54 497.2 125.42 497.8 125.4 498.4 125.34 499 125.31 499.6 125.28 500.2 125.4 500.8 125.41 501.4 125.41 502 125.46 502.6 125.49 503.2 125.42 503.8 125.48 504.4 125.6 505 125.86 505.6 125.97 506.2 126.05 506.8 126.12 507.4 126.16 508 125.95 508.6 125.68 509.2 125.7 509.8 125.73 510.4 125.52 511 125.38 511.6 125.35 512.2 125.41 512.8 125.3 513.4 125.38 514 125.56 514.6 125.76 515.2 125.68 515.8 125.8 516.4 125.74 517 125.69 517.6 125.54 518.2 125.69 518.8 125.65 519.4 125.67 520 125.67 520.6 125.75 521.2 125.72 521.8 125.57 522.4 125.55 523 125.55 523.6 125.81 524.2 125.84 524.8 125.98 525.4 126.15 526 126.38 526.6 126.14 527.2 126.05" fill="none" stroke="#1a1a1a" stroke-width="1.45" stroke-linejoin="round" stroke-linecap="round" />
<path d="M317.8 122 318.4 122 319 122 319.6 121.99 320.2 121.99 320.8 121.98 321.4 121.98 322 121.97 322.6 121.96 323.2 121.96 323.8 121.95 324.4 121.94 325 121.93 325.6 121.92 326.2 121.91 326.8 121.9 327.4 121.88 328 121.87 328.6 121.86 329.2 121.84 329.8 121.83 330.4 121.81 331 121.8 331.6 121.78 332.2 121.76 332.8 121.74 333.4 121.73 334 121.71 334.6 121.69 335.2 121.67 335.8 121.65 336.4 121.63 337 121.61 337.6 121.59 338.2 121.57 338.8 121.54 339.4 121.52 340 121.5 340.6 121.47 341.2 121.44 341.8 121.41 342.4 121.37 343 121.33 343.6 121.28 344.2 121.23 344.8 121.17 345.4 121.11 346 121.05 346.6 120.98 347.2 120.91 347.8 120.84 348.4 120.76 349 120.69 349.6 120.61 350.2 120.52 350.8 120.44 351.4 120.35 352 120.26 352.6 120.17 353.2 120.08 353.8 119.99 354.4 119.89 355 119.8 355.6 119.7 356.2 119.61 356.8 119.51 357.4 119.42 358 119.32 358.6 119.22 359.2 119.13 359.8 119.03 360.4 118.94 361 118.84 361.6 118.74 362.2 118.65 362.8 118.54 363.4 118.44 364 118.33 364.6 118.22 365.2 118.11 365.8 117.99 366.4 117.87 367 117.74 367.6 117.61 368.2 117.46 368.8 117.32 369.4 117.16 370 117 370.6 116.83 371.2 116.65 371.8 116.46 372.4 116.26 373 116.05 373.6 115.83 374.2 115.59 374.8 115.34 375.4 115.08 376 114.8 376.6 114.5 377.2 114.19 377.8 113.86 378.4 113.52 379 113.15 379.6 112.77 380.2 112.36 380.8 111.85 381.4 111.25 382 110.56 382.6 109.79 383.2 108.97 383.8 108.09 384.4 107.19 385 106.26 385.6 105.33 386.2 104.4 386.8 103.49 387.4 102.62 388 101.79 388.6 101.02 389.2 100.3 389.8 99.56 390.4 98.83 391 98.09 391.6 97.37 392.2 96.66 392.8 95.97 393.4 95.3 394 94.68 394.6 94.09 395.2 93.54 395.8 93.05 396.4 92.6 397 92.13 397.6 91.66 398.2 91.21 398.8 90.78 399.4 90.4 400 90.07 400.6 89.82 401.2 89.66 401.8 89.6 402.4 89.61 403 89.65 403.6 89.71 404.2 89.79 404.8 89.89 405.4 90.01 406 90.15 406.6 90.3 407.2 90.46 407.8 90.63 408.4 90.81 409 91 409.6 91.2 410.2 91.4 410.8 91.61 411.4 91.88 412 92.2 412.6 92.57 413.2 92.99 413.8 93.43 414.4 93.89 415 94.37 415.6 94.85 416.2 95.33 416.8 95.79 417.4 96.23 418 96.63 418.6 97.03 419.2 97.43 419.8 97.82 420.4 98.21 421 98.6 421.6 98.99 422.2 99.38 422.8 99.77 423.4 100.15 424 100.54 424.6 100.92 425.2 101.31 425.8 101.69 426.4 102.07 427 102.46 427.6 102.84 428.2 103.23 428.8 103.61 429.4 103.98 430 104.35 430.6 104.72 431.2 105.08 431.8 105.45 432.4 105.81 433 106.18 433.6 106.55 434.2 106.92 434.8 107.3 435.4 107.69 436 108.08 436.6 108.48 437.2 108.89 437.8 109.31 438.4 109.75 439 110.21 439.6 110.69 440.2 111.19 440.8 111.71 441.4 112.24 442 112.78 442.6 113.32 443.2 113.86 443.8 114.39 444.4 114.91 445 115.42 445.6 115.92 446.2 116.39 446.8 116.83 447.4 117.26 448 117.7 448.6 118.14 449.2 118.58 449.8 119.02 450.4 119.46 451 119.88 451.6 120.28 452.2 120.66 452.8 121.02 453.4 121.34 454 121.63 454.6 121.88 455.2 122.09 455.8 122.25 456.4 122.39 457 122.53 457.6 122.66 458.2 122.79 458.8 122.91 459.4 123.02 460 123.13 460.6 123.23 461.2 123.33 461.8 123.42 462.4 123.51 463 123.6 463.6 123.68 464.2 123.75 464.8 123.82 465.4 123.89 466 123.96 466.6 124.02 467.2 124.07 467.8 124.13 468.4 124.18 469 124.23 469.6 124.27 470.2 124.31 470.8 124.36 471.4 124.4 472 124.44 472.6 124.47 473.2 124.51 473.8 124.55 474.4 124.58 475 124.62 475.6 124.65 476.2 124.68 476.8 124.71 477.4 124.74 478 124.77 478.6 124.8 479.2 124.83 479.8 124.86 480.4 124.88 481 124.91 481.6 124.93 482.2 124.96 482.8 124.98 483.4 125 484 125.02 484.6 125.04 485.2 125.06 485.8 125.08 486.4 125.1 487 125.12 487.6 125.14 488.2 125.15 488.8 125.17 489.4 125.18 490 125.2 490.6 125.21 491.2 125.23 491.8 125.24 492.4 125.26 493 125.27 493.6 125.29 494.2 125.3 494.8 125.32 495.4 125.33 496 125.35 496.6 125.36 497.2 125.37 497.8 125.39 498.4 125.4 499 125.42 499.6 125.43 500.2 125.44 500.8 125.46 501.4 125.47 502 125.48 502.6 125.5 503.2 125.51 503.8 125.52 504.4 125.53 505 125.55 505.6 125.56 506.2 125.57 506.8 125.58 507.4 125.59 508 125.6 508.6 125.61 509.2 125.62 509.8 125.63 510.4 125.64 511 125.65 511.6 125.66 512.2 125.67 512.8 125.68 513.4 125.69 514 125.7 514.6 125.71 515.2 125.72 515.8 125.72 516.4 125.73 517 125.74 517.6 125.74 518.2 125.75 518.8 125.76 519.4 125.76 520 125.77 520.6 125.77 521.2 125.78 521.8 125.78 522.4 125.78 523 125.79 523.6 125.79 524.2 125.79 524.8 125.8 525.4 125.8 526 125.8 526.6 125.8 527.2 125.8" fill="none" stroke="#e02020" stroke-width="1.1" stroke-linejoin="round" stroke-linecap="round" />
<path d="M317.8 122.4 318.4 122.4 319 122.4 319.6 122.4 320.2 122.4 320.8 122.4 321.4 122.4 322 122.4 322.6 122.4 323.2 122.41 323.8 122.41 324.4 122.41 325 122.41 325.6 122.41 326.2 122.41 326.8 122.41 327.4 122.41 328 122.42 328.6 122.42 329.2 122.42 329.8 122.42 330.4 122.42 331 122.43 331.6 122.43 332.2 122.43 332.8 122.43 333.4 122.43 334 122.44 334.6 122.44 335.2 122.44 335.8 122.44 336.4 122.45 337 122.45 337.6 122.45 338.2 122.46 338.8 122.46 339.4 122.46 340 122.46 340.6 122.47 341.2 122.47 341.8 122.47 342.4 122.48 343 122.48 343.6 122.48 344.2 122.49 344.8 122.49 345.4 122.49 346 122.49 346.6 122.5 347.2 122.5 347.8 122.5 348.4 122.5 349 122.5 349.6 122.5 350.2 122.5 350.8 122.5 351.4 122.5 352 122.5 352.6 122.49 353.2 122.49 353.8 122.48 354.4 122.48 355 122.47 355.6 122.46 356.2 122.44 356.8 122.43 357.4 122.41 358 122.39 358.6 122.36 359.2 122.33 359.8 122.3 360.4 122.26 361 122.21 361.6 122.16 362.2 122.11 362.8 122.04 363.4 121.97 364 121.89 364.6 121.8 365.2 121.7 365.8 121.59 366.4 121.47 367 121.34 367.6 121.19 368.2 121.02 368.8 120.84 369.4 120.65 370 120.44 370.6 120.21 371.2 119.96 371.8 119.68 372.4 119.39 373 119.08 373.6 118.74 374.2 118.38 374.8 117.99 375.4 117.58 376 117.15 376.6 116.69 377.2 116.2 377.8 115.68 378.4 115.14 379 114.57 379.6 113.98 380.2 113.36 380.8 112.72 381.4 112.05 382 111.37 382.6 110.66 383.2 109.93 383.8 109.19 384.4 108.43 385 107.65 385.6 106.87 386.2 106.08 386.8 105.28 387.4 104.48 388 103.68 388.6 102.88 389.2 102.09 389.8 101.31 390.4 100.55 391 99.8 391.6 99.08 392.2 98.37 392.8 97.7 393.4 97.06 394 96.45 394.6 95.89 395.2 95.36 395.8 94.88 396.4 94.44" fill="none" stroke="#e0a818" stroke-width="1.3" stroke-linejoin="round" stroke-linecap="round" />
<path d="M462.4 125.43 463 125.44 463.6 125.45 464.2 125.46 464.8 125.47 465.4 125.47 466 125.48 466.6 125.49 467.2 125.5 467.8 125.51 468.4 125.51 469 125.52 469.6 125.53 470.2 125.54 470.8 125.55 471.4 125.55 472 125.56 472.6 125.57 473.2 125.58 473.8 125.58 474.4 125.59 475 125.6 475.6 125.61 476.2 125.62 476.8 125.62 477.4 125.63 478 125.64 478.6 125.65 479.2 125.65 479.8 125.66 480.4 125.67 481 125.68 481.6 125.68 482.2 125.69 482.8 125.7 483.4 125.7 484 125.71 484.6 125.72 485.2 125.72 485.8 125.73 486.4 125.74 487 125.74 487.6 125.75 488.2 125.76 488.8 125.76 489.4 125.77 490 125.78 490.6 125.78 491.2 125.79 491.8 125.8 492.4 125.8 493 125.81 493.6 125.81 494.2 125.82 494.8 125.83 495.4 125.83 496 125.84 496.6 125.84 497.2 125.85 497.8 125.85 498.4 125.86 499 125.86 499.6 125.87 500.2 125.88 500.8 125.88 501.4 125.89 502 125.89 502.6 125.89 503.2 125.9 503.8 125.9 504.4 125.91 505 125.91 505.6 125.92 506.2 125.92 506.8 125.93 507.4 125.93 508 125.93 508.6 125.94 509.2 125.94 509.8 125.94 510.4 125.95 511 125.95 511.6 125.96 512.2 125.96 512.8 125.96 513.4 125.96 514 125.97 514.6 125.97 515.2 125.97 515.8 125.98 516.4 125.98 517 125.98 517.6 125.98 518.2 125.98 518.8 125.99 519.4 125.99 520 125.99 520.6 125.99 521.2 125.99 521.8 125.99 522.4 126 523 126 523.6 126 524.2 126 524.8 126 525.4 126 526 126 526.6 126 527.2 126" fill="none" stroke="#e0a818" stroke-width="1.2" stroke-linejoin="round" stroke-linecap="round" />
<path d="M317.8 171.38 318.4 171.37 319 171.36 319.6 171.34 320.2 171.33 320.8 171.32 321.4 171.31 322 171.29 322.6 171.28 323.2 171.27 323.8 171.26 324.4 171.25 325 171.24 325.6 171.22 326.2 171.21 326.8 171.2 327.4 171.19 328 171.18 328.6 171.17 329.2 171.16 329.8 171.15 330.4 171.14 331 171.13 331.6 171.12 332.2 171.11 332.8 171.1 333.4 171.09 334 171.08 334.6 171.07 335.2 171.06 335.8 171.05 336.4 171.04 337 171.04 337.6 171.03 338.2 171.02 338.8 171.01 339.4 171 340 171 340.6 170.99 341.2 170.98 341.8 170.97 342.4 170.97 343 170.96 343.6 170.95 344.2 170.95 344.8 170.94 345.4 170.93 346 170.93 346.6 170.92 347.2 170.91 347.8 170.91 348.4 170.9 349 170.9 349.6 170.89 350.2 170.89 350.8 170.88 351.4 170.88 352 170.87 352.6 170.87 353.2 170.86 353.8 170.86 354.4 170.85 355 170.85 355.6 170.85 356.2 170.84 356.8 170.84 357.4 170.83 358 170.83 358.6 170.83 359.2 170.83 359.8 170.82 360.4 170.82 361 170.82 361.6 170.82 362.2 170.81 362.8 170.81 363.4 170.81 364 170.81 364.6 170.81 365.2 170.81 365.8 170.8 366.4 170.8 367 170.8 367.6 170.8 368.2 170.8 368.8 170.8 369.4 170.8 370 170.8 370.6 170.8 371.2 170.8 371.8 170.8 372.4 170.8 373 170.8 373.6 170.81 374.2 170.81 374.8 170.81 375.4 170.81 376 170.82 376.6 170.82 377.2 170.82 377.8 170.83 378.4 170.83 379 170.83 379.6 170.84 380.2 170.84 380.8 170.85 381.4 170.85 382 170.86 382.6 170.87 383.2 170.87 383.8 170.88 384.4 170.89 385 170.89 385.6 170.9 386.2 170.91 386.8 170.92 387.4 170.92 388 170.93 388.6 170.94 389.2 170.95 389.8 170.96 390.4 170.97 391 170.98 391.6 170.99 392.2 171 392.8 171.01 393.4 171.02 394 171.03 394.6 171.04 395.2 171.05 395.8 171.06 396.4 171.07 397 171.08 397.6 171.09 398.2 171.1 398.8 171.11 399.4 171.13 400 171.14 400.6 171.15 401.2 171.16 401.8 171.18 402.4 171.19 403 171.2 403.6 171.21 404.2 171.23 404.8 171.24 405.4 171.25 406 171.27 406.6 171.28 407.2 171.3 407.8 171.31 408.4 171.32 409 171.34 409.6 171.35 410.2 171.37 410.8 171.38 411.4 171.4 412 171.41 412.6 171.43 413.2 171.44 413.8 171.46 414.4 171.47 415 171.49 415.6 171.5 416.2 171.52 416.8 171.53 417.4 171.55 418 171.56 418.6 171.58 419.2 171.59 419.8 171.61 420.4 171.63 421 171.64 421.6 171.66 422.2 171.67 422.8 171.69 423.4 171.71 424 171.72 424.6 171.74 425.2 171.75 425.8 171.77 426.4 171.79 427 171.8 427.6 171.82 428.2 171.83 428.8 171.85 429.4 171.87 430 171.88 430.6 171.9 431.2 171.92 431.8 171.93 432.4 171.95 433 171.96 433.6 171.98 434.2 172 434.8 172.01 435.4 172.03 436 172.04 436.6 172.06 437.2 172.08 437.8 172.09 438.4 172.11 439 172.12 439.6 172.14 440.2 172.16 440.8 172.17 441.4 172.19 442 172.2 442.6 172.22 443.2 172.23 443.8 172.25 444.4 172.26 445 172.28 445.6 172.29 446.2 172.31 446.8 172.32 447.4 172.34 448 172.35 448.6 172.37 449.2 172.38 449.8 172.4 450.4 172.41 451 172.43 451.6 172.44 452.2 172.45 452.8 172.47 453.4 172.48 454 172.5 454.6 172.51 455.2 172.52 455.8 172.54 456.4 172.55 457 172.56 457.6 172.57 458.2 172.59 458.8 172.6 459.4 172.61 460 172.62 460.6 172.64 461.2 172.65 461.8 172.66 462.4 172.67 463 172.68 463.6 172.69 464.2 172.7 464.8 172.72 465.4 172.73 466 172.74 466.6 172.75 467.2 172.76 467.8 172.77 468.4 172.78 469 172.78 469.6 172.79 470.2 172.8 470.8 172.81 471.4 172.82 472 172.83 472.6 172.84 473.2 172.85 473.8 172.86 474.4 172.86 475 172.87 475.6 172.88 476.2 172.89 476.8 172.9 477.4 172.91 478 172.92 478.6 172.92 479.2 172.93 479.8 172.94 480.4 172.95 481 172.96 481.6 172.97 482.2 172.97 482.8 172.98 483.4 172.99 484 173 484.6 173.01 485.2 173.02 485.8 173.02 486.4 173.03 487 173.04 487.6 173.05 488.2 173.06 488.8 173.06 489.4 173.07 490 173.08 490.6 173.09 491.2 173.09 491.8 173.1 492.4 173.11 493 173.12 493.6 173.13 494.2 173.13 494.8 173.14 495.4 173.15 496 173.16 496.6 173.16 497.2 173.17 497.8 173.18 498.4 173.19 499 173.19 499.6 173.2 500.2 173.21 500.8 173.21 501.4 173.22 502 173.23 502.6 173.24 503.2 173.24 503.8 173.25 504.4 173.26 505 173.26 505.6 173.27 506.2 173.28 506.8 173.28 507.4 173.29 508 173.3 508.6 173.31 509.2 173.31 509.8 173.32 510.4 173.33 511 173.33 511.6 173.34 512.2 173.35 512.8 173.35 513.4 173.36 514 173.36 514.6 173.37 515.2 173.38 515.8 173.38 516.4 173.39 517 173.4 517.6 173.4 518.2 173.41 518.8 173.41 519.4 173.42 520 173.43 520.6 173.43 521.2 173.44 521.8 173.45 522.4 173.45 523 173.46 523.6 173.46 524.2 173.47 524.8 173.47 525.4 173.48 526 173.49 526.6 173.49 527.2 173.5" fill="none" stroke="#9070e0" stroke-width="0.9" stroke-linejoin="round" stroke-linecap="round" />
<path d="M317.8 171.38 318.4 171.37 319 171.36 319.6 171.34 320.2 171.33 320.8 171.32 321.4 171.31 322 171.29 322.6 171.28 323.2 171.27 323.8 171.26 324.4 171.25 325 171.24 325.6 171.22 326.2 171.21 326.8 171.2 327.4 171.19 328 171.18 328.6 171.17 329.2 171.16 329.8 171.15 330.4 171.14 331 171.13 331.6 171.12 332.2 171.11 332.8 171.1 333.4 171.09 334 171.08 334.6 171.07 335.2 171.06 335.8 171.05 336.4 171.04 337 171.04 337.6 171.03 338.2 171.02 338.8 171.01 339.4 171 340 171 340.6 170.99 341.2 170.98 341.8 170.97 342.4 170.97 343 170.96 343.6 170.95 344.2 170.94 344.8 170.94 345.4 170.93 346 170.92 346.6 170.92 347.2 170.91 347.8 170.91 348.4 170.9 349 170.89 349.6 170.89 350.2 170.88 350.8 170.88 351.4 170.87 352 170.86 352.6 170.86 353.2 170.85 353.8 170.84 354.4 170.84 355 170.83 355.6 170.82 356.2 170.82 356.8 170.81 357.4 170.8 358 170.79 358.6 170.78 359.2 170.77 359.8 170.76 360.4 170.75 361 170.74 361.6 170.72 362.2 170.7 362.8 170.69 363.4 170.67 364 170.64 364.6 170.62 365.2 170.59 365.8 170.56 366.4 170.53 367 170.49 367.6 170.45 368.2 170.4 368.8 170.35 369.4 170.3 370 170.23 370.6 170.17 371.2 170.09 371.8 170.01 372.4 169.93 373 169.83 373.6 169.73 374.2 169.62 374.8 169.49 375.4 169.36 376 169.22 376.6 169.07 377.2 168.91 377.8 168.73 378.4 168.55 379 168.35 379.6 168.14 380.2 167.92 380.8 167.68 381.4 167.43 382 167.17 382.6 166.9 383.2 166.61 383.8 166.31 384.4 166 385 165.68 385.6 165.35 386.2 165 386.8 164.65 387.4 164.29 388 163.92 388.6 163.54 389.2 163.16 389.8 162.78 390.4 162.39 391 162 391.6 161.61 392.2 161.22 392.8 160.84 393.4 160.46 394 160.09 394.6 159.73 395.2 159.37 395.8 159.03 396.4 158.71 397 158.4 397.6 158.1 398.2 157.83 398.8 157.58 399.4 157.35 400 157.14 400.6 156.96 401.2 156.8 401.8 156.67 402.4 156.57 403 156.49 403.6 156.45 404.2 156.43 404.8 156.44 405.4 156.49 406 156.56 406.6 156.66 407.2 156.79 407.8 156.95 408.4 157.13 409 157.34 409.6 157.57 410.2 157.83 410.8 158.11 411.4 158.41 412 158.73 412.6 159.06 413.2 159.42 413.8 159.78 414.4 160.16 415 160.55 415.6 160.95 416.2 161.35 416.8 161.76 417.4 162.17 418 162.59 418.6 163 419.2 163.41 419.8 163.82 420.4 164.23 421 164.63 421.6 165.02 422.2 165.41 422.8 165.78 423.4 166.15 424 166.51 424.6 166.85 425.2 167.19 425.8 167.51 426.4 167.82 427 168.11 427.6 168.39 428.2 168.66 428.8 168.92 429.4 169.17 430 169.4 430.6 169.62 431.2 169.82 431.8 170.02 432.4 170.2 433 170.37 433.6 170.53 434.2 170.68 434.8 170.82 435.4 170.95 436 171.07 436.6 171.18 437.2 171.29 437.8 171.39 438.4 171.48 439 171.56 439.6 171.64 440.2 171.71 440.8 171.77 441.4 171.83 442 171.89 442.6 171.94 443.2 171.99 443.8 172.03 444.4 172.08 445 172.11 445.6 172.15 446.2 172.18 446.8 172.22 447.4 172.24 448 172.27 448.6 172.3 449.2 172.32 449.8 172.34 450.4 172.37 451 172.39 451.6 172.41 452.2 172.43 452.8 172.44 453.4 172.46 454 172.48 454.6 172.49 455.2 172.51 455.8 172.52 456.4 172.54 457 172.55 457.6 172.57 458.2 172.58 458.8 172.6 459.4 172.61 460 172.62 460.6 172.63 461.2 172.65 461.8 172.66 462.4 172.67 463 172.68 463.6 172.69 464.2 172.7 464.8 172.71 465.4 172.73 466 172.74 466.6 172.75 467.2 172.76 467.8 172.77 468.4 172.78 469 172.78 469.6 172.79 470.2 172.8 470.8 172.81 471.4 172.82 472 172.83 472.6 172.84 473.2 172.85 473.8 172.86 474.4 172.86 475 172.87 475.6 172.88 476.2 172.89 476.8 172.9 477.4 172.91 478 172.92 478.6 172.92 479.2 172.93 479.8 172.94 480.4 172.95 481 172.96 481.6 172.97 482.2 172.97 482.8 172.98 483.4 172.99 484 173 484.6 173.01 485.2 173.02 485.8 173.02 486.4 173.03 487 173.04 487.6 173.05 488.2 173.06 488.8 173.06 489.4 173.07 490 173.08 490.6 173.09 491.2 173.09 491.8 173.1 492.4 173.11 493 173.12 493.6 173.13 494.2 173.13 494.8 173.14 495.4 173.15 496 173.16 496.6 173.16 497.2 173.17 497.8 173.18 498.4 173.19 499 173.19 499.6 173.2 500.2 173.21 500.8 173.21 501.4 173.22 502 173.23 502.6 173.24 503.2 173.24 503.8 173.25 504.4 173.26 505 173.26 505.6 173.27 506.2 173.28 506.8 173.28 507.4 173.29 508 173.3 508.6 173.31 509.2 173.31 509.8 173.32 510.4 173.33 511 173.33 511.6 173.34 512.2 173.35 512.8 173.35 513.4 173.36 514 173.36 514.6 173.37 515.2 173.38 515.8 173.38 516.4 173.39 517 173.4 517.6 173.4 518.2 173.41 518.8 173.41 519.4 173.42 520 173.43 520.6 173.43 521.2 173.44 521.8 173.45 522.4 173.45 523 173.46 523.6 173.46 524.2 173.47 524.8 173.47 525.4 173.48 526 173.49 526.6 173.49 527.2 173.5" fill="none" stroke="#30a0a0" stroke-width="1.15" stroke-linejoin="round" stroke-linecap="round" />
<path d="M317.8 171.38 318.4 171.37 319 171.36 319.6 171.34 320.2 171.33 320.8 171.32 321.4 171.31 322 171.29 322.6 171.28 323.2 171.27 323.8 171.26 324.4 171.25 325 171.24 325.6 171.22 326.2 171.21 326.8 171.2 327.4 171.19 328 171.18 328.6 171.17 329.2 171.16 329.8 171.15 330.4 171.14 331 171.13 331.6 171.12 332.2 171.11 332.8 171.1 333.4 171.09 334 171.08 334.6 171.07 335.2 171.06 335.8 171.05 336.4 171.04 337 171.04 337.6 171.03 338.2 171.02 338.8 171.01 339.4 171 340 171 340.6 170.99 341.2 170.98 341.8 170.97 342.4 170.97 343 170.96 343.6 170.95 344.2 170.95 344.8 170.94 345.4 170.93 346 170.93 346.6 170.92 347.2 170.91 347.8 170.91 348.4 170.9 349 170.9 349.6 170.89 350.2 170.89 350.8 170.88 351.4 170.88 352 170.87 352.6 170.87 353.2 170.86 353.8 170.86 354.4 170.85 355 170.85 355.6 170.85 356.2 170.84 356.8 170.84 357.4 170.83 358 170.83 358.6 170.83 359.2 170.83 359.8 170.82 360.4 170.82 361 170.82 361.6 170.82 362.2 170.81 362.8 170.81 363.4 170.81 364 170.81 364.6 170.81 365.2 170.81 365.8 170.8 366.4 170.8 367 170.8 367.6 170.8 368.2 170.8 368.8 170.8 369.4 170.8 370 170.8 370.6 170.8 371.2 170.8 371.8 170.8 372.4 170.8 373 170.8 373.6 170.81 374.2 170.81 374.8 170.81 375.4 170.81 376 170.82 376.6 170.82 377.2 170.82 377.8 170.83 378.4 170.83 379 170.83 379.6 170.84 380.2 170.84 380.8 170.85 381.4 170.85 382 170.86 382.6 170.86 383.2 170.86 383.8 170.87 384.4 170.87 385 170.88 385.6 170.88 386.2 170.88 386.8 170.88 387.4 170.88 388 170.88 388.6 170.88 389.2 170.87 389.8 170.87 390.4 170.86 391 170.84 391.6 170.82 392.2 170.8 392.8 170.77 393.4 170.73 394 170.69 394.6 170.64 395.2 170.57 395.8 170.5 396.4 170.41 397 170.31 397.6 170.2 398.2 170.06 398.8 169.91 399.4 169.74 400 169.55 400.6 169.33 401.2 169.08 401.8 168.81 402.4 168.51 403 168.18 403.6 167.82 404.2 167.43 404.8 167 405.4 166.54 406 166.04 406.6 165.52 407.2 164.96 407.8 164.37 408.4 163.74 409 163.1 409.6 162.42 410.2 161.73 410.8 161.01 411.4 160.28 412 159.55 412.6 158.8 413.2 158.06 413.8 157.33 414.4 156.61 415 155.91 415.6 155.23 416.2 154.58 416.8 153.98 417.4 153.41 418 152.9 418.6 152.44 419.2 152.04 419.8 151.71 420.4 151.44 421 151.25 421.6 151.12 422.2 151.08 422.8 151.1 423.4 151.19 424 151.34 424.6 151.55 425.2 151.82 425.8 152.15 426.4 152.53 427 152.96 427.6 153.43 428.2 153.95 428.8 154.51 429.4 155.11 430 155.73 430.6 156.38 431.2 157.04 431.8 157.73 432.4 158.42 433 159.13 433.6 159.83 434.2 160.53 434.8 161.23 435.4 161.91 436 162.59 436.6 163.24 437.2 163.88 437.8 164.5 438.4 165.09 439 165.66 439.6 166.21 440.2 166.73 440.8 167.22 441.4 167.68 442 168.11 442.6 168.52 443.2 168.9 443.8 169.25 444.4 169.58 445 169.88 445.6 170.16 446.2 170.41 446.8 170.64 447.4 170.85 448 171.05 448.6 171.22 449.2 171.38 449.8 171.52 450.4 171.65 451 171.77 451.6 171.87 452.2 171.96 452.8 172.05 453.4 172.12 454 172.19 454.6 172.25 455.2 172.3 455.8 172.35 456.4 172.39 457 172.43 457.6 172.46 458.2 172.49 458.8 172.52 459.4 172.55 460 172.57 460.6 172.59 461.2 172.61 461.8 172.63 462.4 172.65 463 172.66 463.6 172.68 464.2 172.69 464.8 172.7 465.4 172.72 466 172.73 466.6 172.74 467.2 172.75 467.8 172.76 468.4 172.77 469 172.78 469.6 172.79 470.2 172.8 470.8 172.81 471.4 172.82 472 172.83 472.6 172.84 473.2 172.85 473.8 172.86 474.4 172.86 475 172.87 475.6 172.88 476.2 172.89 476.8 172.9 477.4 172.91 478 172.92 478.6 172.92 479.2 172.93 479.8 172.94 480.4 172.95 481 172.96 481.6 172.97 482.2 172.97 482.8 172.98 483.4 172.99 484 173 484.6 173.01 485.2 173.02 485.8 173.02 486.4 173.03 487 173.04 487.6 173.05 488.2 173.06 488.8 173.06 489.4 173.07 490 173.08 490.6 173.09 491.2 173.09 491.8 173.1 492.4 173.11 493 173.12 493.6 173.13 494.2 173.13 494.8 173.14 495.4 173.15 496 173.16 496.6 173.16 497.2 173.17 497.8 173.18 498.4 173.19 499 173.19 499.6 173.2 500.2 173.21 500.8 173.21 501.4 173.22 502 173.23 502.6 173.24 503.2 173.24 503.8 173.25 504.4 173.26 505 173.26 505.6 173.27 506.2 173.28 506.8 173.28 507.4 173.29 508 173.3 508.6 173.31 509.2 173.31 509.8 173.32 510.4 173.33 511 173.33 511.6 173.34 512.2 173.35 512.8 173.35 513.4 173.36 514 173.36 514.6 173.37 515.2 173.38 515.8 173.38 516.4 173.39 517 173.4 517.6 173.4 518.2 173.41 518.8 173.41 519.4 173.42 520 173.43 520.6 173.43 521.2 173.44 521.8 173.45 522.4 173.45 523 173.46 523.6 173.46 524.2 173.47 524.8 173.47 525.4 173.48 526 173.49 526.6 173.49 527.2 173.5" fill="none" stroke="#e025e0" stroke-width="1.15" stroke-linejoin="round" stroke-linecap="round" />
<path d="M317.8 171.26 318.4 171.3 319 171.36 319.6 171.33 320.2 171.55 320.8 171.59 321.4 171.59 322 171.58 322.6 171.43 323.2 171.3 323.8 171.11 324.4 171.09 325 171.08 325.6 171.23 326.2 171 326.8 171.04 327.4 170.91 328 170.8 328.6 170.76 329.2 170.88 329.8 170.61 330.4 170.78 331 170.81 331.6 170.96 332.2 171.16 332.8 171.36 333.4 171.06 334 170.93 334.6 170.69 335.2 170.44 335.8 170.43 336.4 170.39 337 170.48 337.6 170.43 338.2 170.49 338.8 170.45 339.4 170.59 340 170.53 340.6 170.6 341.2 170.49 341.8 170.32 342.4 170.32 343 170.48 343.6 170.69 344.2 170.86 344.8 171.06 345.4 170.97 346 170.91 346.6 170.69 347.2 170.54 347.8 170.42 348.4 170.46 349 170.25 349.6 170.22 350.2 170.1 350.8 170.06 351.4 170.23 352 170.23 352.6 170.18 353.2 170.3 353.8 170.36 354.4 170 355 169.95 355.6 170.02 356.2 169.95 356.8 169.86 357.4 170.06 358 169.97 358.6 169.85 359.2 169.73 359.8 169.81 360.4 169.43 361 169.38 361.6 169.27 362.2 169.32 362.8 169.18 363.4 169.44 364 169.3 364.6 169.36 365.2 169.21 365.8 169.03 366.4 168.89 367 168.89 367.6 168.55 368.2 168.48 368.8 168.33 369.4 168.15 370 168.2 370.6 168.35 371.2 168.45 371.8 168.49 372.4 168.31 373 168.1 373.6 167.86 374.2 167.43 374.8 167.36 375.4 167.32 376 167.02 376.6 167.06 377.2 167.05 377.8 166.88 378.4 166.82 379 167.05 379.6 166.78 380.2 166.83 380.8 166.66 381.4 166.51 382 166.25 382.6 165.71 383.2 165.14 383.8 164.68 384.4 164.31 385 163.53 385.6 163.97 386.2 163.7 386.8 163.08 387.4 162.15 388 162.1 388.6 161.16 389.2 160.48 389.8 160.55 390.4 160.56 391 160.51 391.6 159.88 392.2 159.78 392.8 159.77 393.4 160.81 394 159.76 394.6 159.52 395.2 158.76 395.8 158.28 396.4 156.05 397 155.91 397.6 155.72 398.2 155.26 398.8 154.01 399.4 153.95 400 152.77 400.6 151.68 401.2 151.57 401.8 151.71 402.4 151.45 403 151.21 403.6 151.28 404.2 151.47 404.8 151.27 405.4 150.92 406 150.96 406.6 151.11 407.2 150.05 407.8 148.83 408.4 148.12 409 148.92 409.6 148.38 410.2 148.91 410.8 148.92 411.4 149.43 412 148.06 412.6 147.51 413.2 147.8 413.8 148.06 414.4 147.01 415 146.95 415.6 146.89 416.2 146 416.8 145.15 417.4 144.36 418 144.13 418.6 143.89 419.2 143.33 419.8 144.25 420.4 145.35 421 146.01 421.6 145.63 422.2 146.2 422.8 146.81 423.4 147.28 424 147.27 424.6 148.15 425.2 148.89 425.8 147.76 426.4 147.77 427 148.4 427.6 149.27 428.2 148.81 428.8 150.08 429.4 150.69 430 151.22 430.6 151.48 431.2 151.8 431.8 152.28 432.4 153.46 433 153.55 433.6 154.15 434.2 155.69 434.8 155.84 435.4 156.16 436 156.77 436.6 158.09 437.2 159.54 437.8 161.61 438.4 161.92 439 163.17 439.6 163.16 440.2 162.67 440.8 162.9 441.4 162.92 442 163.47 442.6 163.83 443.2 164.66 443.8 164.63 444.4 165.21 445 165.36 445.6 165.94 446.2 165.94 446.8 166.35 447.4 166.71 448 166.51 448.6 166.85 449.2 167.26 449.8 167.46 450.4 167.8 451 168.55 451.6 168.53 452.2 168.52 452.8 168.67 453.4 169.02 454 168.88 454.6 169.27 455.2 169.45 455.8 169.51 456.4 169.67 457 169.95 457.6 169.85 458.2 170.01 458.8 170.32 459.4 170.43 460 170.5 460.6 170.76 461.2 170.96 461.8 170.91 462.4 170.92 463 171.04 463.6 171.04 464.2 171 464.8 171.15 465.4 171.19 466 171.21 466.6 171.28 467.2 171.5 467.8 171.57 468.4 171.7 469 171.91 469.6 172.05 470.2 172.2 470.8 172.14 471.4 172.17 472 172.06 472.6 172.21 473.2 172.19 473.8 172.11 474.4 171.98 475 172.1 475.6 172.03 476.2 171.97 476.8 172.17 477.4 172.34 478 172.36 478.6 172.31 479.2 172.36 479.8 172.18 480.4 172.22 481 172.08 481.6 172.2 482.2 172.11 482.8 172.26 483.4 172.26 484 172.29 484.6 172.13 485.2 172.03 485.8 172.13 486.4 172.16 487 172.36 487.6 172.45 488.2 172.72 488.8 172.74 489.4 172.7 490 172.68 490.6 172.81 491.2 172.69 491.8 172.68 492.4 172.69 493 172.66 493.6 172.49 494.2 172.64 494.8 172.64 495.4 172.71 496 172.64 496.6 172.78 497.2 172.73 497.8 172.74 498.4 172.91 499 173.03 499.6 173.18 500.2 173.25 500.8 173.24 501.4 173.03 502 173.05 502.6 172.9 503.2 172.83 503.8 172.88 504.4 172.76 505 172.71 505.6 172.51 506.2 172.55 506.8 172.52 507.4 172.64 508 172.65 508.6 172.9 509.2 172.74 509.8 172.66 510.4 172.64 511 172.48 511.6 172.37 512.2 172.67 512.8 172.75 513.4 172.92 514 173 514.6 173.13 515.2 172.96 515.8 173.06 516.4 173.07 517 173.37 517.6 173.37 518.2 173.42 518.8 173.35 519.4 173.36 520 173.18 520.6 173.25 521.2 173.24 521.8 173.5 522.4 173.27 523 173.27 523.6 173.29 524.2 173.26 524.8 173.03 525.4 173.2 526 173.1 526.6 173.03 527.2 173.07" fill="none" stroke="#1a1a1a" stroke-width="1.45" stroke-linejoin="round" stroke-linecap="round" />
<path d="M317.8 171.2 318.4 171.2 319 171.19 319.6 171.19 320.2 171.19 320.8 171.18 321.4 171.18 322 171.17 322.6 171.16 323.2 171.15 323.8 171.14 324.4 171.13 325 171.12 325.6 171.11 326.2 171.1 326.8 171.09 327.4 171.07 328 171.06 328.6 171.05 329.2 171.03 329.8 171.02 330.4 171 331 170.98 331.6 170.97 332.2 170.95 332.8 170.93 333.4 170.91 334 170.89 334.6 170.87 335.2 170.85 335.8 170.83 336.4 170.81 337 170.79 337.6 170.77 338.2 170.75 338.8 170.73 339.4 170.71 340 170.69 340.6 170.67 341.2 170.64 341.8 170.62 342.4 170.6 343 170.58 343.6 170.55 344.2 170.53 344.8 170.51 345.4 170.48 346 170.46 346.6 170.44 347.2 170.41 347.8 170.38 348.4 170.36 349 170.33 349.6 170.3 350.2 170.27 350.8 170.23 351.4 170.2 352 170.17 352.6 170.13 353.2 170.1 353.8 170.06 354.4 170.02 355 169.98 355.6 169.94 356.2 169.9 356.8 169.86 357.4 169.81 358 169.77 358.6 169.72 359.2 169.67 359.8 169.62 360.4 169.57 361 169.52 361.6 169.47 362.2 169.42 362.8 169.36 363.4 169.31 364 169.25 364.6 169.19 365.2 169.13 365.8 169.07 366.4 169.01 367 168.94 367.6 168.88 368.2 168.81 368.8 168.74 369.4 168.67 370 168.6 370.6 168.52 371.2 168.44 371.8 168.35 372.4 168.26 373 168.16 373.6 168.05 374.2 167.94 374.8 167.81 375.4 167.69 376 167.55 376.6 167.41 377.2 167.27 377.8 167.11 378.4 166.95 379 166.79 379.6 166.62 380.2 166.44 380.8 166.24 381.4 166.02 382 165.77 382.6 165.51 383.2 165.22 383.8 164.92 384.4 164.61 385 164.29 385.6 163.95 386.2 163.61 386.8 163.27 387.4 162.91 388 162.56 388.6 162.21 389.2 161.86 389.8 161.51 390.4 161.17 391 160.82 391.6 160.46 392.2 160.09 392.8 159.71 393.4 159.33 394 158.94 394.6 158.55 395.2 158.16 395.8 157.76 396.4 157.36 397 156.97 397.6 156.57 398.2 156.17 398.8 155.78 399.4 155.39 400 155 400.6 154.61 401.2 154.22 401.8 153.82 402.4 153.41 403 153.01 403.6 152.6 404.2 152.2 404.8 151.79 405.4 151.39 406 151 406.6 150.61 407.2 150.23 407.8 149.86 408.4 149.5 409 149.15 409.6 148.81 410.2 148.49 410.8 148.16 411.4 147.81 412 147.45 412.6 147.09 413.2 146.73 413.8 146.37 414.4 146.03 415 145.71 415.6 145.42 416.2 145.15 416.8 144.92 417.4 144.74 418 144.6 418.6 144.52 419.2 144.5 419.8 144.54 420.4 144.62 421 144.75 421.6 144.92 422.2 145.11 422.8 145.34 423.4 145.58 424 145.85 424.6 146.12 425.2 146.4 425.8 146.76 426.4 147.2 427 147.73 427.6 148.31 428.2 148.94 428.8 149.61 429.4 150.3 430 150.99 430.6 151.69 431.2 152.36 431.8 153 432.4 153.61 433 154.24 433.6 154.88 434.2 155.54 434.8 156.2 435.4 156.86 436 157.52 436.6 158.17 437.2 158.8 437.8 159.41 438.4 160 439 160.55 439.6 161.08 440.2 161.56 440.8 162.02 441.4 162.49 442 162.94 442.6 163.38 443.2 163.82 443.8 164.24 444.4 164.65 445 165.05 445.6 165.43 446.2 165.8 446.8 166.15 447.4 166.49 448 166.8 448.6 167.1 449.2 167.37 449.8 167.62 450.4 167.85 451 168.08 451.6 168.29 452.2 168.5 452.8 168.7 453.4 168.9 454 169.08 454.6 169.26 455.2 169.43 455.8 169.59 456.4 169.75 457 169.89 457.6 170.03 458.2 170.16 458.8 170.28 459.4 170.4 460 170.5 460.6 170.6 461.2 170.7 461.8 170.79 462.4 170.88 463 170.97 463.6 171.05 464.2 171.13 464.8 171.21 465.4 171.28 466 171.35 466.6 171.42 467.2 171.48 467.8 171.53 468.4 171.58 469 171.63 469.6 171.67 470.2 171.71 470.8 171.75 471.4 171.78 472 171.82 472.6 171.85 473.2 171.88 473.8 171.92 474.4 171.95 475 171.98 475.6 172.01 476.2 172.04 476.8 172.07 477.4 172.09 478 172.12 478.6 172.15 479.2 172.17 479.8 172.2 480.4 172.22 481 172.25 481.6 172.27 482.2 172.29 482.8 172.31 483.4 172.34 484 172.36 484.6 172.38 485.2 172.4 485.8 172.42 486.4 172.44 487 172.46 487.6 172.47 488.2 172.49 488.8 172.51 489.4 172.53 490 172.54 490.6 172.56 491.2 172.58 491.8 172.59 492.4 172.61 493 172.63 493.6 172.64 494.2 172.66 494.8 172.67 495.4 172.69 496 172.7 496.6 172.72 497.2 172.73 497.8 172.75 498.4 172.76 499 172.78 499.6 172.79 500.2 172.8 500.8 172.82 501.4 172.83 502 172.85 502.6 172.86 503.2 172.88 503.8 172.89 504.4 172.9 505 172.92 505.6 172.93 506.2 172.94 506.8 172.96 507.4 172.97 508 172.98 508.6 173 509.2 173.01 509.8 173.02 510.4 173.03 511 173.05 511.6 173.06 512.2 173.07 512.8 173.08 513.4 173.09 514 173.11 514.6 173.12 515.2 173.13 515.8 173.14 516.4 173.15 517 173.16 517.6 173.17 518.2 173.18 518.8 173.19 519.4 173.2 520 173.21 520.6 173.22 521.2 173.23 521.8 173.23 522.4 173.24 523 173.25 523.6 173.26 524.2 173.26 524.8 173.27 525.4 173.28 526 173.29 526.6 173.29 527.2 173.3" fill="none" stroke="#e02020" stroke-width="1.1" stroke-linejoin="round" stroke-linecap="round" />
<path d="M450.4 171.65 451 171.77 451.6 171.87 452.2 171.96 452.8 172.05 453.4 172.12 454 172.19 454.6 172.25 455.2 172.3 455.8 172.35 456.4 172.39 457 172.43 457.6 172.46 458.2 172.49 458.8 172.52 459.4 172.55 460 172.57 460.6 172.59 461.2 172.61 461.8 172.63 462.4 172.65 463 172.66 463.6 172.68 464.2 172.69 464.8 172.7 465.4 172.72 466 172.73 466.6 172.74 467.2 172.75 467.8 172.76 468.4 172.77 469 172.78 469.6 172.79 470.2 172.8 470.8 172.81 471.4 172.82 472 172.83 472.6 172.84 473.2 172.85 473.8 172.86 474.4 172.86 475 172.87 475.6 172.88 476.2 172.89 476.8 172.9 477.4 172.91 478 172.92 478.6 172.92 479.2 172.93 479.8 172.94 480.4 172.95 481 172.96 481.6 172.97 482.2 172.97 482.8 172.98 483.4 172.99 484 173 484.6 173.01 485.2 173.02 485.8 173.02 486.4 173.03 487 173.04 487.6 173.05 488.2 173.06 488.8 173.06 489.4 173.07 490 173.08 490.6 173.09 491.2 173.09 491.8 173.1 492.4 173.11 493 173.12 493.6 173.13 494.2 173.13 494.8 173.14 495.4 173.15 496 173.16 496.6 173.16 497.2 173.17 497.8 173.18 498.4 173.19 499 173.19 499.6 173.2 500.2 173.21 500.8 173.21 501.4 173.22 502 173.23 502.6 173.24 503.2 173.24 503.8 173.25 504.4 173.26 505 173.26 505.6 173.27 506.2 173.28 506.8 173.28 507.4 173.29 508 173.3 508.6 173.31 509.2 173.31 509.8 173.32 510.4 173.33 511 173.33 511.6 173.34 512.2 173.35 512.8 173.35 513.4 173.36 514 173.36 514.6 173.37 515.2 173.38 515.8 173.38 516.4 173.39 517 173.4 517.6 173.4 518.2 173.41 518.8 173.41 519.4 173.42 520 173.43 520.6 173.43 521.2 173.44 521.8 173.45 522.4 173.45 523 173.46 523.6 173.46 524.2 173.47 524.8 173.47 525.4 173.48 526 173.49 526.6 173.49 527.2 173.5" fill="none" stroke="#e025e0" stroke-width="1.2" stroke-linejoin="round" stroke-linecap="round" />
<path d="M462.4 171.12 463 171.24 463.6 171.24 464.2 171.2 464.8 171.35 465.4 171.39 466 171.41 466.6 171.48 467.2 171.7 467.8 171.77 468.4 171.9 469 172.11 469.6 172.25 470.2 172.4 470.8 172.34 471.4 172.37 472 172.26 472.6 172.41 473.2 172.39 473.8 172.31 474.4 172.18 475 172.3 475.6 172.23 476.2 172.17 476.8 172.37 477.4 172.54 478 172.56 478.6 172.51 479.2 172.56 479.8 172.38 480.4 172.42 481 172.28 481.6 172.4 482.2 172.31 482.8 172.46 483.4 172.46 484 172.49 484.6 172.33 485.2 172.23 485.8 172.33 486.4 172.36 487 172.56 487.6 172.65 488.2 172.92 488.8 172.94 489.4 172.9 490 172.88 490.6 173.01 491.2 172.89 491.8 172.88 492.4 172.89 493 172.86 493.6 172.69 494.2 172.84 494.8 172.84 495.4 172.91 496 172.84 496.6 172.98 497.2 172.93 497.8 172.94 498.4 173.11 499 173.23 499.6 173.38 500.2 173.45 500.8 173.44 501.4 173.23 502 173.25 502.6 173.1 503.2 173.03 503.8 173.08 504.4 172.96 505 172.91 505.6 172.71 506.2 172.75 506.8 172.72 507.4 172.84 508 172.85 508.6 173.1 509.2 172.94 509.8 172.86 510.4 172.84 511 172.68 511.6 172.57 512.2 172.87 512.8 172.95 513.4 173.12 514 173.2 514.6 173.33 515.2 173.16 515.8 173.26 516.4 173.27 517 173.57 517.6 173.57 518.2 173.62 518.8 173.55 519.4 173.56 520 173.38 520.6 173.45 521.2 173.44 521.8 173.7 522.4 173.47 523 173.47 523.6 173.49 524.2 173.46 524.8 173.23 525.4 173.4 526 173.3 526.6 173.23 527.2 173.27" fill="none" stroke="#20206a" stroke-width="1.0" stroke-linejoin="round" stroke-linecap="round" />
<line x1="317" y1="20.2" x2="527.8" y2="20.2" stroke="#bbb" stroke-width="1.3"/>
<line x1="317" y1="78" x2="527.8" y2="78" stroke="#bbb" stroke-width="1.2"/>
<line x1="317" y1="129.8" x2="527.8" y2="129.8" stroke="#bbb" stroke-width="1.2"/>
<line x1="317" y1="176.3" x2="527.8" y2="176.3" stroke="#333" stroke-width="1.3"/>
<line x1="317" y1="20.2" x2="317" y2="176.3" stroke="#666" stroke-width="1.5"/>
<line x1="527.8" y1="20.2" x2="527.8" y2="176.3" stroke="#555" stroke-width="1.5"/>
<text x="323.8" y="36.1" font-family='"Liberation Serif", serif' font-size="9" font-weight="normal" text-anchor="start" fill="#222" >rPG</text>
<text x="324" y="88.3" font-family='"Liberation Serif", serif' font-size="9" font-weight="normal" text-anchor="start" fill="#222" >rP</text>
<text x="320.7" y="141.7" font-family='"Liberation Serif", serif' font-size="9" font-weight="normal" text-anchor="start" fill="#222" >PBC</text>
<line x1="367.2" y1="52.8" x2="378.6" y2="52.8" stroke="#999" stroke-width="1.0"/>
<text x="338.8" y="56.9" font-family='"Liberation Sans", sans-serif' font-size="10.3" font-weight="normal" text-anchor="start" fill="#111" >C-OH</text>
<line x1="437.5" y1="48.8" x2="454.5" y2="48.8" stroke="#999" stroke-width="1.0"/>
<text x="456" y="52.5" font-family='"Liberation Sans", sans-serif' font-size="10.3" font-weight="normal" text-anchor="start" fill="#111" >O-C=O</text>
<line x1="422" y1="62.5" x2="469.5" y2="62.5" stroke="#999" stroke-width="1.0"/>
<text x="471.3" y="66.5" font-family='"Liberation Sans", sans-serif' font-size="10.3" font-weight="normal" text-anchor="start" fill="#111" >OH</text>
<line x1="364.4" y1="99.4" x2="388.4" y2="99.4" stroke="#999" stroke-width="1.0"/>
<text x="336" y="104" font-family='"Liberation Sans", sans-serif' font-size="10.3" font-weight="normal" text-anchor="start" fill="#111" >C-OH</text>
<line x1="424.4" y1="107.6" x2="450.5" y2="107.6" stroke="#999" stroke-width="1.0"/>
<text x="452.3" y="111.6" font-family='"Liberation Sans", sans-serif' font-size="10.3" font-weight="normal" text-anchor="start" fill="#111" >OH</text>
<line x1="442" y1="119.8" x2="469.7" y2="119.8" stroke="#999" stroke-width="1.0"/>
<text x="471.3" y="123.2" font-family='"Liberation Sans", sans-serif' font-size="10.3" font-weight="normal" text-anchor="start" fill="#111" >O-C=O</text>
<line x1="372" y1="158.8" x2="391.6" y2="158.8" stroke="#999" stroke-width="1.0"/>
<text x="343.6" y="162.5" font-family='"Liberation Sans", sans-serif' font-size="10.3" font-weight="normal" text-anchor="start" fill="#111" >C-OH</text>
<line x1="436.4" y1="158" x2="450.7" y2="158" stroke="#999" stroke-width="1.0"/>
<text x="451.9" y="161.6" font-family='"Liberation Sans", sans-serif' font-size="10.3" font-weight="normal" text-anchor="start" fill="#111" >OH</text>
<text x="320.9" y="186.7" font-family='"Liberation Sans", sans-serif' font-size="8.5" font-weight="normal" text-anchor="middle" fill="#333" >538</text>
<text x="353" y="186.7" font-family='"Liberation Sans", sans-serif' font-size="8.5" font-weight="normal" text-anchor="middle" fill="#333" >536</text>
<text x="389" y="186.7" font-family='"Liberation Sans", sans-serif' font-size="8.5" font-weight="normal" text-anchor="middle" fill="#333" >534</text>
<text x="424.6" y="186.7" font-family='"Liberation Sans", sans-serif' font-size="8.5" font-weight="normal" text-anchor="middle" fill="#333" >532</text>
<text x="457.9" y="186.7" font-family='"Liberation Sans", sans-serif' font-size="8.5" font-weight="normal" text-anchor="middle" fill="#333" >530</text>
<text x="492.6" y="186.7" font-family='"Liberation Sans", sans-serif' font-size="8.5" font-weight="normal" text-anchor="middle" fill="#333" >528</text>
<text x="522" y="186.7" font-family='"Liberation Sans", sans-serif' font-size="8.5" font-weight="normal" text-anchor="middle" fill="#333" >526</text>
<text x="441.7" y="201.6" font-family='"Liberation Serif", serif' font-size="9.3" font-weight="normal" text-anchor="middle" fill="#222" letter-spacing="0.1">Binding Energy (eV)</text>
<text x="266.6" y="20" font-family='"Liberation Sans", sans-serif' font-size="13.8" font-weight="normal" text-anchor="start" fill="#222" >(b)</text>
<path d="M52.62 316.37 53.12 317.2 53.62 317.68 54.12 317.8 54.62 318.01 55.12 318.5 55.62 318.63 56.12 318.69 56.62 318.77 57.12 319.08 57.62 319.18 58.12 318.97 58.62 318.7 59.12 318.7 59.62 318.58 60.12 318.92 60.62 318.95 61.12 319.34 61.62 319.51 62.12 319.77 62.62 319.58 63.12 319.47 63.62 319.48 64.12 319.56 64.62 319.33 65.12 319.18 65.62 319.08 66.12 319.42 66.62 319.12 67.12 319.2 67.62 318.98 68.12 319.27 68.62 319.45 69.12 319.53 69.62 319.53 70.12 319.66 70.62 319.34 71.12 319.36 71.62 319.11 72.12 319.41 72.62 319.43 73.12 319.39 73.62 319.27 74.12 319.34 74.62 319.49 75.12 319.47 75.62 319.62 76.12 319.86 76.62 319.74 77.12 319.49 77.62 319.49 78.12 319.77 78.62 319.73 79.12 319.35 79.62 319.15 80.12 319.07 80.62 318.99 81.12 319.13 81.62 319.06 82.12 319.03 82.62 318.72 83.12 318.71 83.62 318.59 84.12 318.66 84.62 318.74 85.12 318.84 85.62 318.85 86.12 318.68 86.62 318.56 87.12 318.39 87.62 318.21 88.12 318.21 88.62 317.99 89.12 318.11 89.62 317.92 90.12 317.86 90.62 317.51 91.12 317.3 91.62 317.29 92.12 317.13 92.62 317.23 93.12 316.96 93.62 316.59 94.12 316.18 94.62 315.84 95.12 315.96 95.62 316.01 96.12 316.17 96.62 315.8 97.12 315.35 97.62 315.29 98.12 315.29 98.62 315.17 99.12 314.84 99.62 314.88 100.12 314.81 100.62 314.44 101.12 313.9 101.62 313.55 102.12 313.18 102.62 312.72 103.12 312.37 103.62 312.04 104.12 311.87 104.62 311.55 105.12 311.65 105.62 311.18 106.12 310.78 106.62 310.05 107.12 309.81 107.62 309.54 108.12 309.05 108.62 308.42 109.12 307.58 109.62 307.03 110.12 306.69 110.62 306.39 111.12 305.83 111.62 305.14 112.12 304.56 112.62 304.15 113.12 303.47 113.62 302.75 114.12 301.72 114.62 300.88 115.12 300.32 115.62 299.41 116.12 298.62 116.62 297.49 117.12 296.73 117.62 295.62 118.12 294.48 118.62 293.35 119.12 292.11 119.62 290.36 120.12 288.69 120.62 286.81 121.12 285.13 121.62 283.24 122.12 281.46 122.62 279.66 123.12 277.5 123.62 275.23 124.12 272.81 124.62 270.52 125.12 268.13 125.62 265.66 126.12 263.47 126.62 261.35 127.12 259.09 127.62 257.41 128.12 256.26 128.62 256.58 129.12 257.65 129.62 259.61 130.12 261.88 130.62 264.33 131.12 267.1 131.62 269.93 132.12 272.64 132.62 274.96 133.12 277.01 133.62 278.31 134.12 279.7 134.62 280.93 135.12 281.77 135.62 281.95 136.12 281.63 136.62 280.96 137.12 280.09 137.62 279.12 138.12 277.83 138.62 276.01 139.12 272.6 139.62 267.98 140.12 262.82 140.62 257.64 141.12 252.46 141.62 246.99 142.12 242.89 142.62 242.01 143.12 245.03 143.62 250.46 144.12 256.5 144.62 262.94 145.12 270.87 145.62 279.24 146.12 286.48 146.62 291.43 147.12 295.52 147.62 298.9 148.12 301.71 148.62 303.94 149.12 305.41 149.62 306.57 150.12 307.41 150.62 308.26 151.12 308.97 151.62 309.1 152.12 309.34 152.62 309.6 153.12 310.03 153.62 310.28 154.12 310.61 154.62 310.79 155.12 310.71 155.62 310.91 156.12 311 156.62 311.07 157.12 310.91 157.62 311.1 158.12 311.24 158.62 311.38 159.12 311.31 159.62 311.34 160.12 311.3 160.62 311.52 161.12 311.59 161.62 311.65 162.12 311.56 162.62 312.05 163.12 311.93 163.62 312.14 164.12 311.77 164.62 311.86 165.12 311.77 165.62 311.9 166.12 312.08 166.62 312.03 167.12 311.82 167.62 311.58 168.12 311.6 168.62 311.75 169.12 312 169.62 311.97 170.12 312.03 170.62 312.03 171.12 311.99 171.62 311.63 172.12 311.26 172.62 311.03 173.12 311.43 173.62 311.45 174.12 311.79 174.62 311.64 175.12 311.97 175.62 311.91 176.12 311.79 176.62 311.49 177.12 311.32 177.62 311.3 178.12 311.19 178.62 311.1 179.12 311.21 179.62 310.97 180.12 310.92 180.62 310.49 181.12 310.64 181.62 310.6 182.12 310.61 182.62 310.57 183.12 310.12 183.62 310.15 184.12 309.84 184.62 310 185.12 309.74 185.62 309.34 186.12 309.01 186.62 308.88 187.12 309.28 187.62 309.28 188.12 309.14 188.62 308.59 189.12 308.6 189.62 308.66 190.12 308.7 190.62 308.32 191.12 307.7 191.62 307.63 192.12 307.84 192.62 307.95 193.12 307.8 193.62 307.29 194.12 306.84 194.62 306.63 195.12 306.16 195.62 306.02 196.12 305.63 196.62 305.67 197.12 305.5 197.62 305.26 198.12 304.76 198.62 304.24 199.12 303.89 199.62 303.59 200.12 303.26 200.62 302.76 201.12 302.47 201.62 302.08 202.12 301.76 202.62 301.3 203.12 301.25 203.62 301.17 204.12 301.33 204.62 300.78 205.12 300.32 205.62 299.86 206.12 299.72 206.62 299.48 207.12 299.3 207.62 299.02 208.12 298.67 208.62 298.04 209.12 297.94 209.62 297.98 210.12 297.82 210.62 297.52 211.12 297.43 211.62 297.57 212.12 297.5 212.62 297.4 213.12 297.26 213.62 296.97 214.12 296.67 214.62 296.46 215.12 296.4 215.62 295.9 216.12 295.51 216.62 295.34 217.12 295.16 217.62 293.57 218.12 292.11 218.62 289.94 219.12 288.75 219.62 287.02 220.12 285.9 220.62 285.6 221.12 285.82 221.62 286.29 222.12 285.78 222.62 283.58 223.12 281.23 223.62 279.26 224.12 279.28 224.62 280.3 225.12 283.34 225.62 286.86 226.12 290.56 226.62 292.81 227.12 294.48 227.62 296.09 228.12 297.18 228.62 297.95 229.12 298.66 229.62 299.38 230.12 300.06 230.62 300.42 231.12 301.12 231.62 301.58 232.12 301.82 232.62 301.92 233.12 301.82 233.62 301.94 234.12 302.05 234.62 302.12 235.12 302.25 235.62 302.08 236.12 302.39 236.62 302.78 237.12 303 237.62 303.17 238.12 303.02 238.62 303.17 239.12 303.2 239.62 303.75 240.12 304.48 240.62 304.98 241.12 304.98 241.62 305.06 242.12 305.26 242.62 305.79 243.12 306.07 243.62 306.5 244.12 306.83 244.62 307.08 245.12 307.41" fill="none" stroke="#e01818" stroke-width="1.6" stroke-linejoin="round" stroke-linecap="round" />
<path d="M52.62 336.72 53.12 336.71 53.62 336.62 54.12 336.87 54.62 336.84 55.12 337.09 55.62 337.21 56.12 337.19 56.62 337.1 57.12 336.95 57.62 337.28 58.12 337.65 58.62 337.92 59.12 337.81 59.62 337.81 60.12 337.52 60.62 337.8 61.12 337.54 61.62 337.4 62.12 337.58 62.62 337.9 63.12 338.16 63.62 337.85 64.12 337.63 64.62 337.81 65.12 337.61 65.62 337.56 66.12 337.63 66.62 337.87 67.12 338.14 67.62 338.1 68.12 338.4 68.62 338.15 69.12 338.19 69.62 337.63 70.12 337.57 70.62 337.72 71.12 337.86 71.62 338.1 72.12 337.92 72.62 337.91 73.12 337.8 73.62 337.74 74.12 337.82 74.62 337.97 75.12 338.12 75.62 338.11 76.12 337.89 76.62 337.83 77.12 337.89 77.62 338.14 78.12 338.45 78.62 338.56 79.12 338.41 79.62 338.02 80.12 337.78 80.62 337.65 81.12 337.52 81.62 337.56 82.12 337.61 82.62 337.82 83.12 337.8 83.62 337.8 84.12 337.52 84.62 337.76 85.12 337.83 85.62 338.21 86.12 338.06 86.62 338.17 87.12 337.86 87.62 337.82 88.12 337.95 88.62 337.79 89.12 337.81 89.62 337.64 90.12 337.83 90.62 337.74 91.12 337.64 91.62 337.46 92.12 337.37 92.62 337.05 93.12 337 93.62 336.82 94.12 336.88 94.62 336.95 95.12 337.05 95.62 336.83 96.12 337.03 96.62 337.06 97.12 337.29 97.62 336.89 98.12 336.64 98.62 336.53 99.12 336.55 99.62 336.23 100.12 336.16 100.62 336.39 101.12 336.26 101.62 336.18 102.12 335.71 102.62 335.82 103.12 335.74 103.62 335.4 104.12 335.3 104.62 335.17 105.12 335.16 105.62 334.92 106.12 334.57 106.62 334.35 107.12 334.42 107.62 334.06 108.12 334.02 108.62 333.4 109.12 333.36 109.62 332.96 110.12 332.5 110.62 332.13 111.12 331.7 111.62 331.69 112.12 331.58 112.62 331.25 113.12 330.83 113.62 330.46 114.12 330.23 114.62 330.17 115.12 329.57 115.62 328.96 116.12 328.24 116.62 327.85 117.12 327.57 117.62 327.03 118.12 326.31 118.62 325.6 119.12 324.94 119.62 324.62 120.12 324.04 120.62 323.32 121.12 322.29 121.62 321.65 122.12 321.14 122.62 320.44 123.12 319.55 123.62 318.83 124.12 318.05 124.62 317.39 125.12 316.91 125.62 316.51 126.12 316.25 126.62 315.95 127.12 315.92 127.62 315.93 128.12 316.4 128.62 316.96 129.12 317.59 129.62 318.12 130.12 318.77 130.62 319.52 131.12 320.39 131.62 321.31 132.12 322.08 132.62 322.8 133.12 323.26 133.62 323.84 134.12 323.99 134.62 324.27 135.12 324.55 135.62 324.93 136.12 324.84 136.62 324.67 137.12 323.94 137.62 323.32 138.12 322.54 138.62 321.71 139.12 320.8 139.62 319.65 140.12 318.3 140.62 316.84 141.12 315.29 141.62 314.27 142.12 313.17 142.62 312.73 143.12 313 143.62 314.51 144.12 316.32 144.62 318.28 145.12 320.21 145.62 322.1 146.12 324.35 146.62 326.51 147.12 328.5 147.62 330.11 148.12 331.35 148.62 332.34 149.12 333.03 149.62 333.51 150.12 333.97 150.62 334.62 151.12 335.15 151.62 335.43 152.12 335.5 152.62 335.61 153.12 335.73 153.62 335.86 154.12 335.64 154.62 335.66 155.12 335.62 155.62 336.11 156.12 336.22 156.62 336.27 157.12 335.95 157.62 336.02 158.12 336.22 158.62 336.36 159.12 336.68 159.62 336.66 160.12 336.85 160.62 336.64 161.12 336.71 161.62 336.35 162.12 336.31 162.62 336.23 163.12 336.41 163.62 336.15 164.12 336.28 164.62 336.27 165.12 336.51 165.62 336.36 166.12 336.39 166.62 336.51 167.12 336.38 167.62 336.29 168.12 336.28 168.62 336.47 169.12 336.55 169.62 336.44 170.12 336.32 170.62 336.36 171.12 336.6 171.62 336.58 172.12 336.79 172.62 336.75 173.12 336.83 173.62 336.74 174.12 336.43 174.62 336.26 175.12 335.99 175.62 336.13 176.12 336.32 176.62 336.43 177.12 336.5 177.62 336.26 178.12 336.39 178.62 336.19 179.12 336.39 179.62 336.27 180.12 336.3 180.62 336.2 181.12 336.12 181.62 336.26 182.12 336.5 182.62 336.69 183.12 336.53 183.62 336.32 184.12 336.08 184.62 336.24 185.12 336.03 185.62 336.27 186.12 336.1 186.62 336.22 187.12 336.05 187.62 336.2 188.12 336.29 188.62 336.32 189.12 336.14 189.62 336.2 190.12 336.16 190.62 336.06 191.12 336.02 191.62 335.81 192.12 335.77 192.62 335.38 193.12 335.25 193.62 335.27 194.12 335.15 194.62 335.21 195.12 335.08 195.62 335.22 196.12 334.77 196.62 334.65 197.12 334.63 197.62 334.76 198.12 334.72 198.62 334.25 199.12 334.39 199.62 334.23 200.12 334.6 200.62 334.21 201.12 334.33 201.62 334.12 202.12 334.41 202.62 334.13 203.12 334 203.62 334.12 204.12 334.06 204.62 333.98 205.12 333.57 205.62 333.46 206.12 333.64 206.62 333.83 207.12 333.79 207.62 333.33 208.12 333.17 208.62 333.34 209.12 333.6 209.62 333.52 210.12 333.18 210.62 332.98 211.12 332.56 211.62 332.42 212.12 332.5 212.62 332.53 213.12 332.95 213.62 332.77 214.12 332.71 214.62 332.46 215.12 332.63 215.62 332.73 216.12 332.41 216.62 332.17 217.12 332.25 217.62 332.31 218.12 332.12 218.62 332.04 219.12 332.1 219.62 332.04 220.12 331.84 220.62 331.71 221.12 331.89 221.62 331.95 222.12 332.22 222.62 332.29 223.12 332.08 223.62 332.01 224.12 332.06 224.62 332.37 225.12 332.49 225.62 332.34 226.12 332.21 226.62 332.25 227.12 332.23 227.62 332.13 228.12 332.21 228.62 332.32 229.12 332.63 229.62 332.38 230.12 332.37 230.62 332.33 231.12 332.54 231.62 332.84 232.12 332.77 232.62 332.99 233.12 332.86 233.62 333.1 234.12 333.16 234.62 333.38 235.12 333.39 235.62 333.62 236.12 333.6 236.62 333.91 237.12 333.78 237.62 334.17 238.12 334.17 238.62 334.37 239.12 334.17 239.62 334.48 240.12 334.35 240.62 334.5 241.12 334.71 241.62 334.96 242.12 335.13 242.62 335.29 243.12 335.41 243.62 335.4 244.12 335.31 244.62 335.22 245.12 335.45" fill="none" stroke="#1a1ad0" stroke-width="1.6" stroke-linejoin="round" stroke-linecap="round" />
<path d="M52.62 358.31 53.12 358.28 53.62 358.09 54.12 358 54.62 358.12 55.12 358.12 55.62 358.21 56.12 357.98 56.62 358.09 57.12 357.99 57.62 358.27 58.12 358.4 58.62 358.32 59.12 358.47 59.62 358.44 60.12 358.54 60.62 358.31 61.12 358.21 61.62 358.37 62.12 358.45 62.62 358.64 63.12 358.76 63.62 359.04 64.12 359.27 64.62 359.11 65.12 358.84 65.62 358.79 66.12 358.89 66.62 359.2 67.12 359.08 67.62 359.21 68.12 359.19 68.62 359.29 69.12 359.21 69.62 359.16 70.12 359.11 70.62 359.08 71.12 359.17 71.62 359.07 72.12 359.28 72.62 359.14 73.12 359.34 73.62 359.1 74.12 359.09 74.62 359.23 75.12 359.2 75.62 359.06 76.12 358.69 76.62 358.68 77.12 359.13 77.62 359.25 78.12 359.41 78.62 358.97 79.12 358.98 79.62 358.93 80.12 359.29 80.62 359.13 81.12 359.11 81.62 358.89 82.12 358.82 82.62 358.72 83.12 358.62 83.62 358.42 84.12 358.48 84.62 358.56 85.12 358.79 85.62 358.5 86.12 358.59 86.62 358.66 87.12 358.94 87.62 358.9 88.12 358.76 88.62 358.7 89.12 358.45 89.62 358.47 90.12 358.32 90.62 358.32 91.12 358.44 91.62 358.43 92.12 358.37 92.62 358.14 93.12 358.14 93.62 358 94.12 357.93 94.62 357.84 95.12 357.84 95.62 357.85 96.12 357.73 96.62 358.03 97.12 358.17 97.62 358.26 98.12 357.92 98.62 357.98 99.12 357.9 99.62 357.82 100.12 357.5 100.62 357.42 101.12 357.54 101.62 357.41 102.12 357.56 102.62 357.17 103.12 357.16 103.62 356.65 104.12 356.9 104.62 356.65 105.12 356.66 105.62 356.41 106.12 356.46 106.62 356.15 107.12 355.78 107.62 355.21 108.12 355.15 108.62 354.93 109.12 354.81 109.62 354.43 110.12 354.11 110.62 353.76 111.12 353.62 111.62 353.56 112.12 353.09 112.62 352.68 113.12 352.09 113.62 352.07 114.12 351.58 114.62 351.22 115.12 350.6 115.62 350.38 116.12 349.95 116.62 349.59 117.12 349.06 117.62 348.51 118.12 347.81 118.62 347.32 119.12 346.86 119.62 346.51 120.12 346.02 120.62 345.54 121.12 344.75 121.62 343.81 122.12 343.15 122.62 342.81 123.12 342.19 123.62 341.28 124.12 340.56 124.62 340.18 125.12 339.71 125.62 339.41 126.12 338.99 126.62 338.8 127.12 338.8 127.62 338.93 128.12 339.38 128.62 339.82 129.12 340.6 129.62 341.19 130.12 341.71 130.62 342.24 131.12 343.4 131.62 344.4 132.12 345.21 132.62 345.63 133.12 346.01 133.62 346.48 134.12 346.96 134.62 347.24 135.12 347.25 135.62 347.08 136.12 346.74 136.62 346.69 137.12 346.41 137.62 346.49 138.12 345.93 138.62 345.05 139.12 343.99 139.62 343.06 140.12 341.91 140.62 340.47 141.12 339.01 141.62 338.02 142.12 337.27 142.62 336.91 143.12 337.45 143.62 338.57 144.12 340.18 144.62 341.54 145.12 342.98 145.62 344.7 146.12 346.39 146.62 348.21 147.12 349.82 147.62 351.31 148.12 352.26 148.62 352.75 149.12 353.67 149.62 354.41 150.12 355.14 150.62 355.2 151.12 355.28 151.62 355.64 152.12 356.24 152.62 356.53 153.12 356.66 153.62 356.44 154.12 356.46 154.62 356.38 155.12 356.6 155.62 356.49 156.12 356.68 156.62 356.87 157.12 356.98 157.62 356.73 158.12 356.65 158.62 356.76 159.12 356.67 159.62 356.77 160.12 356.92 160.62 357.21 161.12 357.41 161.62 357.43 162.12 357.42 162.62 357.17 163.12 357.03 163.62 357.05 164.12 357.1 164.62 357.17 165.12 357.22 165.62 357.4 166.12 357.59 166.62 357.76 167.12 357.62 167.62 357.57 168.12 357.67 168.62 357.6 169.12 357.79 169.62 357.47 170.12 357.44 170.62 357.01 171.12 357.1 171.62 357.21 172.12 357.59 172.62 357.55 173.12 357.48 173.62 357.25 174.12 357.24 174.62 357.08 175.12 357.14 175.62 357.01 176.12 357.18 176.62 357.18 177.12 357.33 177.62 357.18 178.12 356.99 178.62 357.33 179.12 357.29 179.62 357.68 180.12 357.51 180.62 357.64 181.12 357.27 181.62 357.32 182.12 357.59 182.62 357.61 183.12 357.41 183.62 357.3 184.12 357.45 184.62 357.73 185.12 357.49 185.62 357.49 186.12 357.03 186.62 357.35 187.12 357.15 187.62 356.99 188.12 356.66 188.62 356.7 189.12 357.21 189.62 357.14 190.12 357.12 190.62 356.9 191.12 357.11 191.62 357.06 192.12 357.08 192.62 356.89 193.12 356.81 193.62 356.64 194.12 356.52 194.62 356.39 195.12 356.5 195.62 356.26 196.12 356.49 196.62 356.41 197.12 356.53 197.62 356.23 198.12 356.03 198.62 356.05 199.12 356.21 199.62 356.23 200.12 356.26 200.62 356.04 201.12 355.98 201.62 355.59 202.12 355.7 202.62 355.63 203.12 355.72 203.62 355.71 204.12 355.71 204.62 355.32 205.12 355.1 205.62 354.74 206.12 355.18 206.62 355.43 207.12 355.48 207.62 355.27 208.12 354.82 208.62 354.86 209.12 354.86 209.62 354.98 210.12 354.73 210.62 354.77 211.12 354.4 211.62 354.49 212.12 354.36 212.62 354.51 213.12 354.28 213.62 353.96 214.12 353.74 214.62 353.8 215.12 353.98 215.62 353.82 216.12 353.83 216.62 353.71 217.12 353.91 217.62 353.87 218.12 353.95 218.62 353.91 219.12 353.94 219.62 353.79 220.12 353.95 220.62 353.57 221.12 353.66 221.62 353.38 222.12 353.61 222.62 353.32 223.12 353.13 223.62 353.14 224.12 353.2 224.62 353.55 225.12 353.44 225.62 353.77 226.12 353.79 226.62 354 227.12 353.77 227.62 353.68 228.12 353.62 228.62 353.7 229.12 353.87 229.62 354.05 230.12 354 230.62 354.03 231.12 354 231.62 354.27 232.12 354.62 232.62 354.88 233.12 354.88 233.62 354.47 234.12 354.26 234.62 354.13 235.12 354.5 235.62 354.63 236.12 354.92 236.62 354.79 237.12 354.96 237.62 355.2 238.12 355.24 238.62 355.24 239.12 355 239.62 355.27 240.12 355.23 240.62 355.25 241.12 355 241.62 355.01 242.12 355.28 242.62 355.87 243.12 355.98 243.62 356.11 244.12 355.86 244.62 355.91 245.12 355.84" fill="none" stroke="#111" stroke-width="1.6" stroke-linejoin="round" stroke-linecap="round" />
<rect x="47" y="217.6" width="210.89999999999998" height="154.6" fill="none" stroke="#111" stroke-width="1.6"/>
<line x1="46.6" y1="372.2" x2="46.6" y2="375" stroke="#111" stroke-width="1"/>
<line x1="61.65" y1="372.2" x2="61.65" y2="374.2" stroke="#111" stroke-width="1"/>
<line x1="76.7" y1="372.2" x2="76.7" y2="375" stroke="#111" stroke-width="1"/>
<line x1="91.75" y1="372.2" x2="91.75" y2="374.2" stroke="#111" stroke-width="1"/>
<line x1="106.8" y1="372.2" x2="106.8" y2="375" stroke="#111" stroke-width="1"/>
<line x1="121.85" y1="372.2" x2="121.85" y2="374.2" stroke="#111" stroke-width="1"/>
<line x1="136.9" y1="372.2" x2="136.9" y2="375" stroke="#111" stroke-width="1"/>
<line x1="151.95" y1="372.2" x2="151.95" y2="374.2" stroke="#111" stroke-width="1"/>
<line x1="167" y1="372.2" x2="167" y2="375" stroke="#111" stroke-width="1"/>
<line x1="182.05" y1="372.2" x2="182.05" y2="374.2" stroke="#111" stroke-width="1"/>
<line x1="197.1" y1="372.2" x2="197.1" y2="375" stroke="#111" stroke-width="1"/>
<line x1="212.15" y1="372.2" x2="212.15" y2="374.2" stroke="#111" stroke-width="1"/>
<line x1="227.2" y1="372.2" x2="227.2" y2="375" stroke="#111" stroke-width="1"/>
<line x1="242.25" y1="372.2" x2="242.25" y2="374.2" stroke="#111" stroke-width="1"/>
<line x1="257.3" y1="372.2" x2="257.3" y2="375" stroke="#111" stroke-width="1"/>
<text x="46.6" y="384" font-family='"Liberation Sans", sans-serif' font-size="8.5" font-weight="bold" text-anchor="middle" fill="#2a2a2a" >0</text>
<text x="76.7" y="384" font-family='"Liberation Sans", sans-serif' font-size="8.5" font-weight="bold" text-anchor="middle" fill="#2a2a2a" >500</text>
<text x="106.8" y="384" font-family='"Liberation Sans", sans-serif' font-size="8.5" font-weight="bold" text-anchor="middle" fill="#2a2a2a" >1000</text>
<text x="136.9" y="384" font-family='"Liberation Sans", sans-serif' font-size="8.5" font-weight="bold" text-anchor="middle" fill="#2a2a2a" >1500</text>
<text x="167" y="384" font-family='"Liberation Sans", sans-serif' font-size="8.5" font-weight="bold" text-anchor="middle" fill="#2a2a2a" >2000</text>
<text x="197.1" y="384" font-family='"Liberation Sans", sans-serif' font-size="8.5" font-weight="bold" text-anchor="middle" fill="#2a2a2a" >2500</text>
<text x="227.2" y="384" font-family='"Liberation Sans", sans-serif' font-size="8.5" font-weight="bold" text-anchor="middle" fill="#2a2a2a" >3000</text>
<text x="257.3" y="384" font-family='"Liberation Sans", sans-serif' font-size="8.5" font-weight="bold" text-anchor="middle" fill="#2a2a2a" >3500</text>
<line x1="55.2" y1="229.6" x2="77.9" y2="229.6" stroke="#e01818" stroke-width="1.8"/>
<text x="80" y="232.9" font-family='"Liberation Serif", serif' font-size="9.3" font-weight="bold" text-anchor="start" fill="#222" >rPG</text>
<line x1="55.2" y1="241.6" x2="77.9" y2="241.6" stroke="#1a1ad0" stroke-width="1.8"/>
<text x="80" y="244.9" font-family='"Liberation Serif", serif' font-size="9.3" font-weight="bold" text-anchor="start" fill="#222" >rP</text>
<line x1="55.2" y1="253.5" x2="77.9" y2="253.5" stroke="#111" stroke-width="1.8"/>
<text x="80" y="256.8" font-family='"Liberation Serif", serif' font-size="9.3" font-weight="bold" text-anchor="start" fill="#222" >PBC</text>
<text x="152.3" y="398.4" font-family='"Liberation Serif", serif' font-size="12" font-weight="bold" text-anchor="middle" fill="#111" letter-spacing="0.15">Raman shift (cm<tspan font-size="7.5" dy="-4.5">-1</tspan><tspan dy="4.5">)</tspan></text>
<text x="0" y="0" font-family='"Liberation Sans", sans-serif' font-size="12" font-weight="bold" text-anchor="middle" fill="#1a1a1a" transform="translate(35 296.5) rotate(-90)" letter-spacing="0.15">Intensity (a.u.)</text>
<text x="7.8" y="216.8" font-family='"Liberation Sans", sans-serif' font-size="13.8" font-weight="normal" text-anchor="start" fill="#222" >(c)</text>
<path d="M322.2 372 322.2 350.58 324.32 349.2 328.77 347.81 335.77 346.43 343.4 345.74 352.3 345.05 364.6 344.71 385.8 344.53 407 344.5 428.2 344.43 449.4 344.71 470.6 345.05 481.2 344.08 491.8 342.98 502.4 341.94 507.28 341.39 513 339.18 518.3 335.9 523.6 331.92 528.26 324.11 532.72 312.3 533.78 309.81" fill="none" stroke="#222" stroke-width="1.5" stroke-linejoin="round" stroke-linecap="round" />
<path d="M533.78 307.74 532.72 307.74 529.96 316.79 527.84 324.11 518.3 329.5 513 332.61 507.28 335.03 502.4 336.79 491.8 338.59 481.2 339.52 470.6 340.56 449.4 341.6 428.2 342.11 407 342.29 385.8 342.29 364.6 342.29 352.3 342.29 343.4 342.98 335.77 344.36 328.77 347.12" fill="none" stroke="#222" stroke-width="1.5" stroke-linejoin="round" stroke-linecap="round" />
<path d="M322.2 372 322.2 346.09 324.32 344.36 328.77 342.29 335.77 340.7 343.4 338.83 352.3 337.45 364.6 336.41 375.2 335.72 385.8 335.2 396.4 334.69 407 334.34 428.2 333.65 449.4 332.96 470.6 332.27 491.8 329.5 502.4 327.78 507.28 325.91 513 323.28 518.3 319.48 523.6 314.99 529.96 306.8 532.72 299.51 533.78 296.68" fill="none" stroke="#1a1ad0" stroke-width="1.5" stroke-linejoin="round" stroke-linecap="round" />
<path d="M533.78 295.99 532.72 295.99 529.96 299.51 527.84 303.25 523.6 306.49 518.3 313.26 513 317.76 507.28 321.38 502.4 324.11 496.89 325.91 491.8 326.81 481.2 328.29 470.6 329.5 460 330.89 428.2 332.61 407 333.48 396.4 334 385.8 334.34 375.2 334.69 364.6 335.2 352.3 336.07 343.4 337.45 335.77 338.83" fill="none" stroke="#1a1ad0" stroke-width="1.5" stroke-linejoin="round" stroke-linecap="round" />
<path d="M322.2 372 322.2 335.72 324.32 334.41 328.56 331.23 335.77 329.16 343.4 327.78 352.3 326.39 364.6 324.67 375.2 323.63 385.8 322.94 396.4 321.9 407 321.21 428.2 319.83 449.4 318.1 460 317.41 470.6 316.03 481.2 314.3 491.8 312.3 496.89 310.5 502.4 308.43 507.28 304.63 513 299.51 518.3 293.71 523.18 283.69 528.26 265.59 529.96 252.8 532.72 237.7 533.78 225.16" fill="none" stroke="#e01818" stroke-width="1.5" stroke-linejoin="round" stroke-linecap="round" />
<path d="M533.78 223.44 532.72 223.19 530.81 228.62 528.48 235.01 527.2 241.88 524.24 254.6 519.15 274.22 512.79 288.73 508.12 293.71 502.4 299.51 496.89 303.25 491.8 306.49 481.2 309.46 470.6 311.88 460 313.61 449.4 314.99 428.2 317.07 407 319.14 396.4 320.18 385.8 320.87 375.2 321.56 364.6 322.59 352.3 324.32 343.4 326.05 335.77 327.78" fill="none" stroke="#e01818" stroke-width="1.5" stroke-linejoin="round" stroke-linecap="round" />
<path d="M324.32 346.7L326.72 350.9L321.92 350.9Z" fill="#fff" stroke="#222" stroke-width="0.95"/>
<path d="M328.77 345.31L331.17 349.51L326.37 349.51Z" fill="#fff" stroke="#222" stroke-width="0.95"/>
<path d="M332.8 344.52L335.2 348.72L330.4 348.72Z" fill="#fff" stroke="#222" stroke-width="0.95"/>
<path d="M335.77 343.93L338.17 348.13L333.37 348.13Z" fill="#fff" stroke="#222" stroke-width="0.95"/>
<path d="M335.77 341.86L338.17 346.06L333.37 346.06Z" fill="#fff" stroke="#222" stroke-width="0.95"/>
<path d="M339.16 343.63L341.56 347.83L336.76 347.83Z" fill="#fff" stroke="#222" stroke-width="0.95"/>
<path d="M339.16 341.25L341.56 345.45L336.76 345.45Z" fill="#fff" stroke="#222" stroke-width="0.95"/>
<path d="M343.4 343.24L345.8 347.44L341 347.44Z" fill="#fff" stroke="#222" stroke-width="0.95"/>
<path d="M343.4 340.48L345.8 344.68L341 344.68Z" fill="#fff" stroke="#222" stroke-width="0.95"/>
<path d="M347.64 342.91L350.04 347.11L345.24 347.11Z" fill="#fff" stroke="#222" stroke-width="0.95"/>
<path d="M347.64 340.15L350.04 344.35L345.24 344.35Z" fill="#fff" stroke="#222" stroke-width="0.95"/>
<path d="M352.3 342.55L354.7 346.75L349.9 346.75Z" fill="#fff" stroke="#222" stroke-width="0.95"/>
<path d="M352.3 339.79L354.7 343.99L349.9 343.99Z" fill="#fff" stroke="#222" stroke-width="0.95"/>
<path d="M358.24 342.38L360.64 346.58L355.84 346.58Z" fill="#fff" stroke="#222" stroke-width="0.95"/>
<path d="M358.24 339.79L360.64 343.99L355.84 343.99Z" fill="#fff" stroke="#222" stroke-width="0.95"/>
<path d="M364.6 342.21L367 346.41L362.2 346.41Z" fill="#fff" stroke="#222" stroke-width="0.95"/>
<path d="M364.6 339.79L367 343.99L362.2 343.99Z" fill="#fff" stroke="#222" stroke-width="0.95"/>
<path d="M375.2 342.12L377.6 346.32L372.8 346.32Z" fill="#fff" stroke="#222" stroke-width="0.95"/>
<path d="M375.2 339.79L377.6 343.99L372.8 343.99Z" fill="#fff" stroke="#222" stroke-width="0.95"/>
<path d="M385.8 342.03L388.2 346.23L383.4 346.23Z" fill="#fff" stroke="#222" stroke-width="0.95"/>
<path d="M385.8 339.79L388.2 343.99L383.4 343.99Z" fill="#fff" stroke="#222" stroke-width="0.95"/>
<path d="M396.4 342.02L398.8 346.22L394 346.22Z" fill="#fff" stroke="#222" stroke-width="0.95"/>
<path d="M396.4 339.79L398.8 343.99L394 343.99Z" fill="#fff" stroke="#222" stroke-width="0.95"/>
<path d="M407 342L409.4 346.2L404.6 346.2Z" fill="#fff" stroke="#222" stroke-width="0.95"/>
<path d="M407 339.79L409.4 343.99L404.6 343.99Z" fill="#fff" stroke="#222" stroke-width="0.95"/>
<path d="M417.6 341.96L420 346.16L415.2 346.16Z" fill="#fff" stroke="#222" stroke-width="0.95"/>
<path d="M417.6 339.7L420 343.9L415.2 343.9Z" fill="#fff" stroke="#222" stroke-width="0.95"/>
<path d="M428.2 341.93L430.6 346.13L425.8 346.13Z" fill="#fff" stroke="#222" stroke-width="0.95"/>
<path d="M428.2 339.61L430.6 343.81L425.8 343.81Z" fill="#fff" stroke="#222" stroke-width="0.95"/>
<path d="M438.8 342.07L441.2 346.27L436.4 346.27Z" fill="#fff" stroke="#222" stroke-width="0.95"/>
<path d="M438.8 339.36L441.2 343.56L436.4 343.56Z" fill="#fff" stroke="#222" stroke-width="0.95"/>
<path d="M449.4 342.21L451.8 346.41L447 346.41Z" fill="#fff" stroke="#222" stroke-width="0.95"/>
<path d="M449.4 339.1L451.8 343.3L447 343.3Z" fill="#fff" stroke="#222" stroke-width="0.95"/>
<path d="M460 342.38L462.4 346.58L457.6 346.58Z" fill="#fff" stroke="#222" stroke-width="0.95"/>
<path d="M460 338.58L462.4 342.78L457.6 342.78Z" fill="#fff" stroke="#222" stroke-width="0.95"/>
<path d="M470.6 342.55L473 346.75L468.2 346.75Z" fill="#fff" stroke="#222" stroke-width="0.95"/>
<path d="M470.6 338.06L473 342.26L468.2 342.26Z" fill="#fff" stroke="#222" stroke-width="0.95"/>
<path d="M481.2 341.58L483.6 345.78L478.8 345.78Z" fill="#fff" stroke="#222" stroke-width="0.95"/>
<path d="M481.2 337.02L483.6 341.22L478.8 341.22Z" fill="#fff" stroke="#222" stroke-width="0.95"/>
<path d="M491.8 340.48L494.2 344.68L489.4 344.68Z" fill="#fff" stroke="#222" stroke-width="0.95"/>
<path d="M491.8 336.09L494.2 340.29L489.4 340.29Z" fill="#fff" stroke="#222" stroke-width="0.95"/>
<path d="M497.1 339.96L499.5 344.16L494.7 344.16Z" fill="#fff" stroke="#222" stroke-width="0.95"/>
<path d="M497.1 335.19L499.5 339.39L494.7 339.39Z" fill="#fff" stroke="#222" stroke-width="0.95"/>
<path d="M502.4 339.44L504.8 343.64L500 343.64Z" fill="#fff" stroke="#222" stroke-width="0.95"/>
<path d="M502.4 334.29L504.8 338.49L500 338.49Z" fill="#fff" stroke="#222" stroke-width="0.95"/>
<path d="M507.7 338.72L510.1 342.92L505.3 342.92Z" fill="#fff" stroke="#222" stroke-width="0.95"/>
<path d="M507.7 332.35L510.1 336.55L505.3 336.55Z" fill="#fff" stroke="#222" stroke-width="0.95"/>
<path d="M513 336.68L515.4 340.88L510.6 340.88Z" fill="#fff" stroke="#222" stroke-width="0.95"/>
<path d="M513 330.11L515.4 334.31L510.6 334.31Z" fill="#fff" stroke="#222" stroke-width="0.95"/>
<path d="M518.3 333.4L520.7 337.6L515.9 337.6Z" fill="#fff" stroke="#222" stroke-width="0.95"/>
<path d="M518.3 327L520.7 331.2L515.9 331.2Z" fill="#fff" stroke="#222" stroke-width="0.95"/>
<path d="M523.6 329.42L526 333.62L521.2 333.62Z" fill="#fff" stroke="#222" stroke-width="0.95"/>
<path d="M523.6 324.01L526 328.21L521.2 328.21Z" fill="#fff" stroke="#222" stroke-width="0.95"/>
<path d="M527.84 322.32L530.24 326.52L525.44 326.52Z" fill="#fff" stroke="#222" stroke-width="0.95"/>
<path d="M527.84 321.61L530.24 325.81L525.44 325.81Z" fill="#fff" stroke="#222" stroke-width="0.95"/>
<path d="M529.96 317.11L532.36 321.31L527.56 321.31Z" fill="#fff" stroke="#222" stroke-width="0.95"/>
<path d="M529.96 314.29L532.36 318.49L527.56 318.49Z" fill="#fff" stroke="#222" stroke-width="0.95"/>
<path d="M532.72 309.8L535.12 314L530.32 314Z" fill="#fff" stroke="#222" stroke-width="0.95"/>
<path d="M532.72 305.24L535.12 309.44L530.32 309.44Z" fill="#fff" stroke="#222" stroke-width="0.95"/>
<circle cx="324.32" cy="344.36" r="2.15" fill="#fff" stroke="#1a1ad0" stroke-width="0.95"/>
<circle cx="328.77" cy="342.29" r="2.15" fill="#fff" stroke="#1a1ad0" stroke-width="0.95"/>
<circle cx="332.8" cy="341.37" r="2.15" fill="#fff" stroke="#1a1ad0" stroke-width="0.95"/>
<circle cx="335.77" cy="340.7" r="2.15" fill="#fff" stroke="#1a1ad0" stroke-width="0.95"/>
<circle cx="335.77" cy="338.83" r="2.15" fill="#fff" stroke="#1a1ad0" stroke-width="0.95"/>
<circle cx="339.16" cy="339.87" r="2.15" fill="#fff" stroke="#1a1ad0" stroke-width="0.95"/>
<circle cx="339.16" cy="338.22" r="2.15" fill="#fff" stroke="#1a1ad0" stroke-width="0.95"/>
<circle cx="343.4" cy="338.83" r="2.15" fill="#fff" stroke="#1a1ad0" stroke-width="0.95"/>
<circle cx="343.4" cy="337.45" r="2.15" fill="#fff" stroke="#1a1ad0" stroke-width="0.95"/>
<circle cx="347.64" cy="338.17" r="2.15" fill="#fff" stroke="#1a1ad0" stroke-width="0.95"/>
<circle cx="347.64" cy="336.79" r="2.15" fill="#fff" stroke="#1a1ad0" stroke-width="0.95"/>
<circle cx="352.3" cy="337.45" r="2.15" fill="#fff" stroke="#1a1ad0" stroke-width="0.95"/>
<circle cx="352.3" cy="336.07" r="2.15" fill="#fff" stroke="#1a1ad0" stroke-width="0.95"/>
<circle cx="358.24" cy="336.95" r="2.15" fill="#fff" stroke="#1a1ad0" stroke-width="0.95"/>
<circle cx="358.24" cy="335.65" r="2.15" fill="#fff" stroke="#1a1ad0" stroke-width="0.95"/>
<circle cx="364.6" cy="336.41" r="2.15" fill="#fff" stroke="#1a1ad0" stroke-width="0.95"/>
<circle cx="364.6" cy="335.2" r="2.15" fill="#fff" stroke="#1a1ad0" stroke-width="0.95"/>
<circle cx="375.2" cy="335.72" r="2.15" fill="#fff" stroke="#1a1ad0" stroke-width="0.95"/>
<circle cx="375.2" cy="334.69" r="2.15" fill="#fff" stroke="#1a1ad0" stroke-width="0.95"/>
<circle cx="385.8" cy="335.2" r="2.15" fill="#fff" stroke="#1a1ad0" stroke-width="0.95"/>
<circle cx="385.8" cy="334.34" r="2.15" fill="#fff" stroke="#1a1ad0" stroke-width="0.95"/>
<circle cx="396.4" cy="334.69" r="2.15" fill="#fff" stroke="#1a1ad0" stroke-width="0.95"/>
<circle cx="396.4" cy="334" r="2.15" fill="#fff" stroke="#1a1ad0" stroke-width="0.95"/>
<circle cx="407" cy="334.34" r="2.15" fill="#fff" stroke="#1a1ad0" stroke-width="0.95"/>
<circle cx="407" cy="333.48" r="2.15" fill="#fff" stroke="#1a1ad0" stroke-width="0.95"/>
<circle cx="417.6" cy="334" r="2.15" fill="#fff" stroke="#1a1ad0" stroke-width="0.95"/>
<circle cx="417.6" cy="333.04" r="2.15" fill="#fff" stroke="#1a1ad0" stroke-width="0.95"/>
<circle cx="428.2" cy="333.65" r="2.15" fill="#fff" stroke="#1a1ad0" stroke-width="0.95"/>
<circle cx="428.2" cy="332.61" r="2.15" fill="#fff" stroke="#1a1ad0" stroke-width="0.95"/>
<circle cx="438.8" cy="333.3" r="2.15" fill="#fff" stroke="#1a1ad0" stroke-width="0.95"/>
<circle cx="438.8" cy="332.04" r="2.15" fill="#fff" stroke="#1a1ad0" stroke-width="0.95"/>
<circle cx="449.4" cy="332.96" r="2.15" fill="#fff" stroke="#1a1ad0" stroke-width="0.95"/>
<circle cx="449.4" cy="331.46" r="2.15" fill="#fff" stroke="#1a1ad0" stroke-width="0.95"/>
<circle cx="460" cy="332.61" r="2.15" fill="#fff" stroke="#1a1ad0" stroke-width="0.95"/>
<circle cx="460" cy="330.89" r="2.15" fill="#fff" stroke="#1a1ad0" stroke-width="0.95"/>
<circle cx="470.6" cy="332.27" r="2.15" fill="#fff" stroke="#1a1ad0" stroke-width="0.95"/>
<circle cx="470.6" cy="329.5" r="2.15" fill="#fff" stroke="#1a1ad0" stroke-width="0.95"/>
<circle cx="481.2" cy="330.89" r="2.15" fill="#fff" stroke="#1a1ad0" stroke-width="0.95"/>
<circle cx="481.2" cy="328.29" r="2.15" fill="#fff" stroke="#1a1ad0" stroke-width="0.95"/>
<circle cx="491.8" cy="329.5" r="2.15" fill="#fff" stroke="#1a1ad0" stroke-width="0.95"/>
<circle cx="491.8" cy="326.81" r="2.15" fill="#fff" stroke="#1a1ad0" stroke-width="0.95"/>
<circle cx="497.1" cy="328.64" r="2.15" fill="#fff" stroke="#1a1ad0" stroke-width="0.95"/>
<circle cx="497.1" cy="325.84" r="2.15" fill="#fff" stroke="#1a1ad0" stroke-width="0.95"/>
<circle cx="502.4" cy="327.78" r="2.15" fill="#fff" stroke="#1a1ad0" stroke-width="0.95"/>
<circle cx="502.4" cy="324.11" r="2.15" fill="#fff" stroke="#1a1ad0" stroke-width="0.95"/>
<circle cx="507.7" cy="325.72" r="2.15" fill="#fff" stroke="#1a1ad0" stroke-width="0.95"/>
<circle cx="507.7" cy="321.12" r="2.15" fill="#fff" stroke="#1a1ad0" stroke-width="0.95"/>
<circle cx="513" cy="323.28" r="2.15" fill="#fff" stroke="#1a1ad0" stroke-width="0.95"/>
<circle cx="513" cy="317.76" r="2.15" fill="#fff" stroke="#1a1ad0" stroke-width="0.95"/>
<circle cx="518.3" cy="319.48" r="2.15" fill="#fff" stroke="#1a1ad0" stroke-width="0.95"/>
<circle cx="518.3" cy="313.26" r="2.15" fill="#fff" stroke="#1a1ad0" stroke-width="0.95"/>
<circle cx="523.6" cy="314.99" r="2.15" fill="#fff" stroke="#1a1ad0" stroke-width="0.95"/>
<circle cx="523.6" cy="306.49" r="2.15" fill="#fff" stroke="#1a1ad0" stroke-width="0.95"/>
<circle cx="527.84" cy="309.53" r="2.15" fill="#fff" stroke="#1a1ad0" stroke-width="0.95"/>
<circle cx="527.84" cy="303.25" r="2.15" fill="#fff" stroke="#1a1ad0" stroke-width="0.95"/>
<circle cx="529.96" cy="306.8" r="2.15" fill="#fff" stroke="#1a1ad0" stroke-width="0.95"/>
<circle cx="529.96" cy="299.51" r="2.15" fill="#fff" stroke="#1a1ad0" stroke-width="0.95"/>
<circle cx="532.72" cy="299.51" r="2.15" fill="#fff" stroke="#1a1ad0" stroke-width="0.95"/>
<circle cx="532.72" cy="295.99" r="2.15" fill="#fff" stroke="#1a1ad0" stroke-width="0.95"/>
<rect x="322.4" y="335.72" width="2.4" height="36.28" fill="#777"/>
<rect x="322.5" y="370.11" width="2.4" height="2.4" fill="#fff" stroke="#e01818" stroke-width="0.8"/>
<rect x="322.5" y="368.66" width="2.4" height="2.4" fill="#fff" stroke="#e01818" stroke-width="0.8"/>
<rect x="322.5" y="367.21" width="2.4" height="2.4" fill="#fff" stroke="#e01818" stroke-width="0.8"/>
<rect x="322.5" y="365.76" width="2.4" height="2.4" fill="#fff" stroke="#e01818" stroke-width="0.8"/>
<rect x="322.5" y="364.3" width="2.4" height="2.4" fill="#fff" stroke="#e01818" stroke-width="0.8"/>
<rect x="322.5" y="362.85" width="2.4" height="2.4" fill="#fff" stroke="#e01818" stroke-width="0.8"/>
<rect x="322.5" y="361.4" width="2.4" height="2.4" fill="#fff" stroke="#e01818" stroke-width="0.8"/>
<rect x="322.5" y="359.95" width="2.4" height="2.4" fill="#fff" stroke="#e01818" stroke-width="0.8"/>
<rect x="322.5" y="358.5" width="2.4" height="2.4" fill="#fff" stroke="#e01818" stroke-width="0.8"/>
<rect x="322.5" y="357.05" width="2.4" height="2.4" fill="#fff" stroke="#e01818" stroke-width="0.8"/>
<rect x="322.5" y="355.6" width="2.4" height="2.4" fill="#fff" stroke="#e01818" stroke-width="0.8"/>
<rect x="322.5" y="354.15" width="2.4" height="2.4" fill="#fff" stroke="#e01818" stroke-width="0.8"/>
<rect x="322.5" y="352.7" width="2.4" height="2.4" fill="#fff" stroke="#e01818" stroke-width="0.8"/>
<rect x="322.5" y="351.24" width="2.4" height="2.4" fill="#fff" stroke="#e01818" stroke-width="0.8"/>
<rect x="322.5" y="349.79" width="2.4" height="2.4" fill="#fff" stroke="#e01818" stroke-width="0.8"/>
<rect x="322.5" y="348.34" width="2.4" height="2.4" fill="#fff" stroke="#e01818" stroke-width="0.8"/>
<rect x="322.5" y="346.89" width="2.4" height="2.4" fill="#fff" stroke="#e01818" stroke-width="0.8"/>
<rect x="322.5" y="345.44" width="2.4" height="2.4" fill="#fff" stroke="#e01818" stroke-width="0.8"/>
<rect x="322.5" y="343.99" width="2.4" height="2.4" fill="#fff" stroke="#e01818" stroke-width="0.8"/>
<rect x="322.5" y="342.54" width="2.4" height="2.4" fill="#fff" stroke="#e01818" stroke-width="0.8"/>
<rect x="322.5" y="341.09" width="2.4" height="2.4" fill="#fff" stroke="#e01818" stroke-width="0.8"/>
<rect x="322.5" y="339.64" width="2.4" height="2.4" fill="#fff" stroke="#e01818" stroke-width="0.8"/>
<rect x="322.5" y="338.18" width="2.4" height="2.4" fill="#fff" stroke="#e01818" stroke-width="0.8"/>
<rect x="322.5" y="336.73" width="2.4" height="2.4" fill="#fff" stroke="#e01818" stroke-width="0.8"/>
<rect x="322.5" y="335.28" width="2.4" height="2.4" fill="#fff" stroke="#e01818" stroke-width="0.8"/>
<rect x="322.37" y="332.46" width="3.9" height="3.9" fill="#fff" stroke="#e01818" stroke-width="0.95"/>
<rect x="326.82" y="329.22" width="3.9" height="3.9" fill="#fff" stroke="#e01818" stroke-width="0.95"/>
<rect x="330.85" y="328.06" width="3.9" height="3.9" fill="#fff" stroke="#e01818" stroke-width="0.95"/>
<rect x="333.82" y="327.21" width="3.9" height="3.9" fill="#fff" stroke="#e01818" stroke-width="0.95"/>
<rect x="333.82" y="325.83" width="3.9" height="3.9" fill="#fff" stroke="#e01818" stroke-width="0.95"/>
<rect x="337.21" y="326.59" width="3.9" height="3.9" fill="#fff" stroke="#e01818" stroke-width="0.95"/>
<rect x="337.21" y="325.06" width="3.9" height="3.9" fill="#fff" stroke="#e01818" stroke-width="0.95"/>
<rect x="341.45" y="325.83" width="3.9" height="3.9" fill="#fff" stroke="#e01818" stroke-width="0.95"/>
<rect x="341.45" y="324.1" width="3.9" height="3.9" fill="#fff" stroke="#e01818" stroke-width="0.95"/>
<rect x="345.69" y="325.17" width="3.9" height="3.9" fill="#fff" stroke="#e01818" stroke-width="0.95"/>
<rect x="345.69" y="323.28" width="3.9" height="3.9" fill="#fff" stroke="#e01818" stroke-width="0.95"/>
<rect x="350.35" y="324.44" width="3.9" height="3.9" fill="#fff" stroke="#e01818" stroke-width="0.95"/>
<rect x="350.35" y="322.37" width="3.9" height="3.9" fill="#fff" stroke="#e01818" stroke-width="0.95"/>
<rect x="356.29" y="323.61" width="3.9" height="3.9" fill="#fff" stroke="#e01818" stroke-width="0.95"/>
<rect x="356.29" y="321.54" width="3.9" height="3.9" fill="#fff" stroke="#e01818" stroke-width="0.95"/>
<rect x="362.65" y="322.72" width="3.9" height="3.9" fill="#fff" stroke="#e01818" stroke-width="0.95"/>
<rect x="362.65" y="320.64" width="3.9" height="3.9" fill="#fff" stroke="#e01818" stroke-width="0.95"/>
<rect x="373.25" y="321.68" width="3.9" height="3.9" fill="#fff" stroke="#e01818" stroke-width="0.95"/>
<rect x="373.25" y="319.61" width="3.9" height="3.9" fill="#fff" stroke="#e01818" stroke-width="0.95"/>
<rect x="383.85" y="320.99" width="3.9" height="3.9" fill="#fff" stroke="#e01818" stroke-width="0.95"/>
<rect x="383.85" y="318.92" width="3.9" height="3.9" fill="#fff" stroke="#e01818" stroke-width="0.95"/>
<rect x="394.45" y="319.95" width="3.9" height="3.9" fill="#fff" stroke="#e01818" stroke-width="0.95"/>
<rect x="394.45" y="318.23" width="3.9" height="3.9" fill="#fff" stroke="#e01818" stroke-width="0.95"/>
<rect x="405.05" y="319.26" width="3.9" height="3.9" fill="#fff" stroke="#e01818" stroke-width="0.95"/>
<rect x="405.05" y="317.19" width="3.9" height="3.9" fill="#fff" stroke="#e01818" stroke-width="0.95"/>
<rect x="415.65" y="318.57" width="3.9" height="3.9" fill="#fff" stroke="#e01818" stroke-width="0.95"/>
<rect x="415.65" y="316.15" width="3.9" height="3.9" fill="#fff" stroke="#e01818" stroke-width="0.95"/>
<rect x="426.25" y="317.88" width="3.9" height="3.9" fill="#fff" stroke="#e01818" stroke-width="0.95"/>
<rect x="426.25" y="315.12" width="3.9" height="3.9" fill="#fff" stroke="#e01818" stroke-width="0.95"/>
<rect x="436.85" y="317.02" width="3.9" height="3.9" fill="#fff" stroke="#e01818" stroke-width="0.95"/>
<rect x="436.85" y="314.08" width="3.9" height="3.9" fill="#fff" stroke="#e01818" stroke-width="0.95"/>
<rect x="447.45" y="316.15" width="3.9" height="3.9" fill="#fff" stroke="#e01818" stroke-width="0.95"/>
<rect x="447.45" y="313.04" width="3.9" height="3.9" fill="#fff" stroke="#e01818" stroke-width="0.95"/>
<rect x="458.05" y="315.46" width="3.9" height="3.9" fill="#fff" stroke="#e01818" stroke-width="0.95"/>
<rect x="458.05" y="311.66" width="3.9" height="3.9" fill="#fff" stroke="#e01818" stroke-width="0.95"/>
<rect x="468.65" y="314.08" width="3.9" height="3.9" fill="#fff" stroke="#e01818" stroke-width="0.95"/>
<rect x="468.65" y="309.93" width="3.9" height="3.9" fill="#fff" stroke="#e01818" stroke-width="0.95"/>
<rect x="479.25" y="312.35" width="3.9" height="3.9" fill="#fff" stroke="#e01818" stroke-width="0.95"/>
<rect x="479.25" y="307.51" width="3.9" height="3.9" fill="#fff" stroke="#e01818" stroke-width="0.95"/>
<rect x="489.85" y="310.35" width="3.9" height="3.9" fill="#fff" stroke="#e01818" stroke-width="0.95"/>
<rect x="489.85" y="304.54" width="3.9" height="3.9" fill="#fff" stroke="#e01818" stroke-width="0.95"/>
<rect x="495.15" y="308.47" width="3.9" height="3.9" fill="#fff" stroke="#e01818" stroke-width="0.95"/>
<rect x="495.15" y="301.15" width="3.9" height="3.9" fill="#fff" stroke="#e01818" stroke-width="0.95"/>
<rect x="500.45" y="306.48" width="3.9" height="3.9" fill="#fff" stroke="#e01818" stroke-width="0.95"/>
<rect x="500.45" y="297.56" width="3.9" height="3.9" fill="#fff" stroke="#e01818" stroke-width="0.95"/>
<rect x="505.75" y="302.3" width="3.9" height="3.9" fill="#fff" stroke="#e01818" stroke-width="0.95"/>
<rect x="505.75" y="292.19" width="3.9" height="3.9" fill="#fff" stroke="#e01818" stroke-width="0.95"/>
<rect x="511.05" y="297.56" width="3.9" height="3.9" fill="#fff" stroke="#e01818" stroke-width="0.95"/>
<rect x="511.05" y="286.3" width="3.9" height="3.9" fill="#fff" stroke="#e01818" stroke-width="0.95"/>
<rect x="516.35" y="291.76" width="3.9" height="3.9" fill="#fff" stroke="#e01818" stroke-width="0.95"/>
<rect x="516.35" y="274.21" width="3.9" height="3.9" fill="#fff" stroke="#e01818" stroke-width="0.95"/>
<rect x="521.65" y="280.23" width="3.9" height="3.9" fill="#fff" stroke="#e01818" stroke-width="0.95"/>
<rect x="521.65" y="255.1" width="3.9" height="3.9" fill="#fff" stroke="#e01818" stroke-width="0.95"/>
<rect x="525.89" y="265.14" width="3.9" height="3.9" fill="#fff" stroke="#e01818" stroke-width="0.95"/>
<rect x="525.89" y="236.5" width="3.9" height="3.9" fill="#fff" stroke="#e01818" stroke-width="0.95"/>
<rect x="528.01" y="250.85" width="3.9" height="3.9" fill="#fff" stroke="#e01818" stroke-width="0.95"/>
<rect x="528.01" y="228.99" width="3.9" height="3.9" fill="#fff" stroke="#e01818" stroke-width="0.95"/>
<rect x="530.77" y="235.75" width="3.9" height="3.9" fill="#fff" stroke="#e01818" stroke-width="0.95"/>
<rect x="530.77" y="221.24" width="3.9" height="3.9" fill="#fff" stroke="#e01818" stroke-width="0.95"/>
<rect x="322.2" y="217.3" width="212.09999999999997" height="154.89999999999998" fill="none" stroke="#111" stroke-width="1.6"/>
<line x1="322.2" y1="372.2" x2="322.2" y2="375.2" stroke="#111" stroke-width="1"/>
<line x1="343.4" y1="372.2" x2="343.4" y2="374.2" stroke="#111" stroke-width="1"/>
<line x1="364.6" y1="372.2" x2="364.6" y2="375.2" stroke="#111" stroke-width="1"/>
<line x1="385.8" y1="372.2" x2="385.8" y2="374.2" stroke="#111" stroke-width="1"/>
<line x1="407" y1="372.2" x2="407" y2="375.2" stroke="#111" stroke-width="1"/>
<line x1="428.2" y1="372.2" x2="428.2" y2="374.2" stroke="#111" stroke-width="1"/>
<line x1="449.4" y1="372.2" x2="449.4" y2="375.2" stroke="#111" stroke-width="1"/>
<line x1="470.6" y1="372.2" x2="470.6" y2="374.2" stroke="#111" stroke-width="1"/>
<line x1="491.8" y1="372.2" x2="491.8" y2="375.2" stroke="#111" stroke-width="1"/>
<line x1="513" y1="372.2" x2="513" y2="374.2" stroke="#111" stroke-width="1"/>
<line x1="534.2" y1="372.2" x2="534.2" y2="375.2" stroke="#111" stroke-width="1"/>
<text x="322.2" y="384.5" font-family='"Liberation Sans", sans-serif' font-size="8.5" font-weight="bold" text-anchor="middle" fill="#2a2a2a" >0.0</text>
<text x="364.6" y="384.5" font-family='"Liberation Sans", sans-serif' font-size="8.5" font-weight="bold" text-anchor="middle" fill="#2a2a2a" >0.2</text>
<text x="407" y="384.5" font-family='"Liberation Sans", sans-serif' font-size="8.5" font-weight="bold" text-anchor="middle" fill="#2a2a2a" >0.4</text>
<text x="449.4" y="384.5" font-family='"Liberation Sans", sans-serif' font-size="8.5" font-weight="bold" text-anchor="middle" fill="#2a2a2a" >0.6</text>
<text x="491.8" y="384.5" font-family='"Liberation Sans", sans-serif' font-size="8.5" font-weight="bold" text-anchor="middle" fill="#2a2a2a" >0.8</text>
<text x="534.2" y="384.5" font-family='"Liberation Sans", sans-serif' font-size="8.5" font-weight="bold" text-anchor="middle" fill="#2a2a2a" >1.0</text>
<line x1="319.2" y1="372" x2="322.2" y2="372" stroke="#111" stroke-width="1"/>
<line x1="320.2" y1="354.73" x2="322.2" y2="354.73" stroke="#111" stroke-width="1"/>
<line x1="319.2" y1="337.45" x2="322.2" y2="337.45" stroke="#111" stroke-width="1"/>
<line x1="320.2" y1="320.18" x2="322.2" y2="320.18" stroke="#111" stroke-width="1"/>
<line x1="319.2" y1="302.9" x2="322.2" y2="302.9" stroke="#111" stroke-width="1"/>
<line x1="320.2" y1="285.62" x2="322.2" y2="285.62" stroke="#111" stroke-width="1"/>
<line x1="319.2" y1="268.35" x2="322.2" y2="268.35" stroke="#111" stroke-width="1"/>
<line x1="320.2" y1="251.07" x2="322.2" y2="251.07" stroke="#111" stroke-width="1"/>
<line x1="319.2" y1="233.8" x2="322.2" y2="233.8" stroke="#111" stroke-width="1"/>
<line x1="320.2" y1="216.53" x2="322.2" y2="216.53" stroke="#111" stroke-width="1"/>
<text x="316.5" y="375" font-family='"Liberation Sans", sans-serif' font-size="8.5" font-weight="bold" text-anchor="end" fill="#2a2a2a" >0</text>
<text x="316.5" y="340.45" font-family='"Liberation Sans", sans-serif' font-size="8.5" font-weight="bold" text-anchor="end" fill="#2a2a2a" >100</text>
<text x="316.5" y="305.9" font-family='"Liberation Sans", sans-serif' font-size="8.5" font-weight="bold" text-anchor="end" fill="#2a2a2a" >200</text>
<text x="316.5" y="271.35" font-family='"Liberation Sans", sans-serif' font-size="8.5" font-weight="bold" text-anchor="end" fill="#2a2a2a" >300</text>
<text x="316.5" y="236.8" font-family='"Liberation Sans", sans-serif' font-size="8.5" font-weight="bold" text-anchor="end" fill="#2a2a2a" >400</text>
<line x1="331" y1="229.8" x2="354" y2="229.8" stroke="#e01818" stroke-width="1.8"/>
<rect x="340.06" y="227.56" width="4.48" height="4.48" fill="#fff" stroke="#e01818" stroke-width="0.95"/>
<text x="355.6" y="232.9" font-family='"Liberation Serif", serif' font-size="9.5" font-weight="normal" text-anchor="start" fill="#222" >rPG</text>
<line x1="331" y1="241.9" x2="354" y2="241.9" stroke="#1a1ad0" stroke-width="1.8"/>
<circle cx="342.3" cy="241.9" r="2.47" fill="#fff" stroke="#1a1ad0" stroke-width="0.95"/>
<text x="355.6" y="245" font-family='"Liberation Serif", serif' font-size="9.5" font-weight="normal" text-anchor="start" fill="#222" >rP</text>
<line x1="331" y1="254.1" x2="354" y2="254.1" stroke="#222" stroke-width="1.8"/>
<path d="M342.3 251.22L345.06 256.06L339.54 256.06Z" fill="#fff" stroke="#222" stroke-width="0.95"/>
<text x="355.6" y="257.2" font-family='"Liberation Serif", serif' font-size="9.5" font-weight="normal" text-anchor="start" fill="#222" >PBC</text>
<text x="428.7" y="403.6" font-family='"Liberation Serif", serif' font-size="12.3" font-weight="bold" text-anchor="middle" fill="#111" letter-spacing="0.05">Relative pressure (P/P<tspan font-size="7.5" dy="2.5">0</tspan><tspan dy="-2.5">)</tspan></text>
<text x="0" y="0" font-family='"Liberation Serif", serif' font-size="12.2" font-weight="bold" text-anchor="middle" fill="#111" transform="translate(294 302.6) rotate(-90)" letter-spacing="0.1">Quantity adsorbed (cm<tspan font-size="7" dy="-4.5">3</tspan><tspan dy="4.5">g</tspan><tspan font-size="7" dy="-4.5">-1</tspan><tspan dy="4.5">)</tspan></text>
<text x="267.8" y="226.7" font-family='"Liberation Sans", sans-serif' font-size="24.5" font-weight="normal" text-anchor="start" fill="#1a1a1a" >(d)</text>
</svg></body></html>
